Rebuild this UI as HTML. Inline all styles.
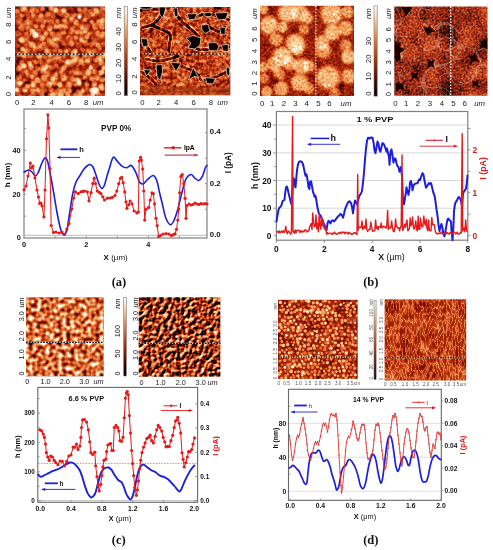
<!DOCTYPE html>
<html><head><meta charset="utf-8"><title>figure</title>
<style>html,body{margin:0;padding:0;background:#fff;width:493px;height:550px;overflow:hidden}svg{display:block}</style>
</head><body>
<svg xmlns="http://www.w3.org/2000/svg" width="493" height="550" viewBox="0 0 493 550">
<defs><filter id="fA1" x="0" y="0" width="100%" height="100%" color-interpolation-filters="sRGB">
<feTurbulence type="fractalNoise" baseFrequency="0.19" numOctaves="1" seed="11" result="t1"/>
<feColorMatrix in="t1" type="matrix" values="1 0 0 0 0  1 0 0 0 0  1 0 0 0 0  0 0 0 0 1" result="n1"/>
<feComposite in="SourceGraphic" in2="n1" operator="arithmetic" k1="0" k2="1" k3="1.55" k4="-0.775" result="L1"/>
<feTurbulence type="fractalNoise" baseFrequency="0.5" numOctaves="1" seed="3" result="t2"/>
<feColorMatrix in="t2" type="matrix" values="1 0 0 0 0  1 0 0 0 0  1 0 0 0 0  0 0 0 0 1" result="n2"/>
<feComposite in="L1" in2="n2" operator="arithmetic" k1="0" k2="1" k3="0.3" k4="-0.15" result="L2"/>
<feComponentTransfer in="L2" result="col">
<feFuncR type="table" tableValues="0 0.30 0.55 0.72 0.83 0.91 0.96 0.99 1"/>
<feFuncG type="table" tableValues="0 0.03 0.09 0.20 0.34 0.50 0.68 0.85 1"/>
<feFuncB type="table" tableValues="0 0.00 0.02 0.06 0.14 0.25 0.42 0.65 1"/>
</feComponentTransfer>
</filter>
<filter id="fA1b" x="0" y="0" width="100%" height="100%" color-interpolation-filters="sRGB">
<feTurbulence type="fractalNoise" baseFrequency="0.14" numOctaves="2" seed="11" result="t1"/>
<feColorMatrix in="t1" type="matrix" values="1 0 0 0 0  1 0 0 0 0  1 0 0 0 0  0 0 0 0 1" result="n1"/>
<feComposite in="SourceGraphic" in2="n1" operator="arithmetic" k1="0" k2="1" k3="0.9" k4="-0.45" result="L1"/>
<feTurbulence type="fractalNoise" baseFrequency="0.5" numOctaves="1" seed="3" result="t2"/>
<feColorMatrix in="t2" type="matrix" values="1 0 0 0 0  1 0 0 0 0  1 0 0 0 0  0 0 0 0 1" result="n2"/>
<feComposite in="L1" in2="n2" operator="arithmetic" k1="0" k2="1" k3="0.25" k4="-0.125" result="L2"/>
<feComponentTransfer in="L2" result="col">
<feFuncR type="table" tableValues="0 0.30 0.55 0.72 0.83 0.91 0.96 0.99 1"/>
<feFuncG type="table" tableValues="0 0.03 0.09 0.20 0.34 0.50 0.68 0.85 1"/>
<feFuncB type="table" tableValues="0 0.00 0.02 0.06 0.14 0.25 0.42 0.65 1"/>
</feComponentTransfer>
</filter>
<filter id="fC1b" x="0" y="0" width="100%" height="100%" color-interpolation-filters="sRGB">
<feTurbulence type="fractalNoise" baseFrequency="0.16" numOctaves="2" seed="14" result="t1"/>
<feColorMatrix in="t1" type="matrix" values="1 0 0 0 0  1 0 0 0 0  1 0 0 0 0  0 0 0 0 1" result="n1"/>
<feComposite in="SourceGraphic" in2="n1" operator="arithmetic" k1="0" k2="1" k3="0.8" k4="-0.4" result="L1"/>
<feTurbulence type="fractalNoise" baseFrequency="0.5" numOctaves="1" seed="4" result="t2"/>
<feColorMatrix in="t2" type="matrix" values="1 0 0 0 0  1 0 0 0 0  1 0 0 0 0  0 0 0 0 1" result="n2"/>
<feComposite in="L1" in2="n2" operator="arithmetic" k1="0" k2="1" k3="0.25" k4="-0.125" result="L2"/>
<feComponentTransfer in="L2" result="col">
<feFuncR type="table" tableValues="0 0.30 0.55 0.72 0.83 0.91 0.96 0.99 1"/>
<feFuncG type="table" tableValues="0 0.03 0.09 0.20 0.34 0.50 0.68 0.85 1"/>
<feFuncB type="table" tableValues="0 0.00 0.02 0.06 0.14 0.25 0.42 0.65 1"/>
</feComponentTransfer>
</filter>
<filter id="fA2" x="0" y="0" width="100%" height="100%" color-interpolation-filters="sRGB">
<feTurbulence type="fractalNoise" baseFrequency="0.3" numOctaves="3" seed="5" result="t1"/>
<feColorMatrix in="t1" type="matrix" values="1 0 0 0 0  1 0 0 0 0  1 0 0 0 0  0 0 0 0 1" result="n1"/>
<feComposite in="SourceGraphic" in2="n1" operator="arithmetic" k1="0" k2="1" k3="1.0" k4="-0.5" result="L1"/>
<feTurbulence type="fractalNoise" baseFrequency="0.08" numOctaves="2" seed="13" result="t2"/>
<feColorMatrix in="t2" type="matrix" values="1 0 0 0 0  1 0 0 0 0  1 0 0 0 0  0 0 0 0 1" result="n2"/>
<feComposite in="L1" in2="n2" operator="arithmetic" k1="0" k2="1" k3="0.5" k4="-0.25" result="L2"/>
<feComponentTransfer in="L2" result="col">
<feFuncR type="table" tableValues="0 0.30 0.55 0.72 0.83 0.91 0.96 0.99 1"/>
<feFuncG type="table" tableValues="0 0.03 0.09 0.20 0.34 0.50 0.68 0.85 1"/>
<feFuncB type="table" tableValues="0 0.00 0.02 0.06 0.14 0.25 0.42 0.65 1"/>
</feComponentTransfer>
</filter>
<filter id="fB1" x="0" y="0" width="100%" height="100%" color-interpolation-filters="sRGB">
<feTurbulence type="fractalNoise" baseFrequency="0.45" numOctaves="2" seed="21" result="t1"/>
<feColorMatrix in="t1" type="matrix" values="1 0 0 0 0  1 0 0 0 0  1 0 0 0 0  0 0 0 0 1" result="n1"/>
<feComposite in="SourceGraphic" in2="n1" operator="arithmetic" k1="0" k2="1" k3="0.55" k4="-0.275" result="L1"/>
<feTurbulence type="fractalNoise" baseFrequency="0.12" numOctaves="2" seed="23" result="t2"/>
<feColorMatrix in="t2" type="matrix" values="1 0 0 0 0  1 0 0 0 0  1 0 0 0 0  0 0 0 0 1" result="n2"/>
<feComposite in="L1" in2="n2" operator="arithmetic" k1="0" k2="1" k3="0.2" k4="-0.1" result="L2"/>
<feComponentTransfer in="L2" result="col">
<feFuncR type="table" tableValues="0 0.30 0.55 0.72 0.83 0.91 0.96 0.99 1"/>
<feFuncG type="table" tableValues="0 0.03 0.09 0.20 0.34 0.50 0.68 0.85 1"/>
<feFuncB type="table" tableValues="0 0.00 0.02 0.06 0.14 0.25 0.42 0.65 1"/>
</feComponentTransfer>
</filter>
<filter id="fB2" x="0" y="0" width="100%" height="100%" color-interpolation-filters="sRGB">
<feTurbulence type="fractalNoise" baseFrequency="0.5" numOctaves="2" seed="8" result="t1"/>
<feColorMatrix in="t1" type="matrix" values="1 0 0 0 0  1 0 0 0 0  1 0 0 0 0  0 0 0 0 1" result="n1"/>
<feTurbulence type="fractalNoise" baseFrequency="0.05" numOctaves="2" seed="9" result="t2"/>
<feColorMatrix in="t2" type="matrix" values="1 0 0 0 0  1 0 0 0 0  1 0 0 0 0  0 0 0 0 1" result="n2"/>
<feComposite in="n1" in2="n2" operator="arithmetic" k1="0" k2="0.75" k3="0.6" k4="-0.39999999999999997" result="l"/>
<feComponentTransfer in="l" result="col"><feFuncR type="table" tableValues="0 0.30 0.55 0.72 0.83 0.91 0.96 0.99 1"/><feFuncG type="table" tableValues="0 0.03 0.09 0.20 0.34 0.50 0.68 0.85 1"/><feFuncB type="table" tableValues="0 0.00 0.02 0.06 0.14 0.25 0.42 0.65 1"/></feComponentTransfer>
<feTurbulence type="turbulence" baseFrequency="0.04" numOctaves="1" seed="12" result="t3"/>
<feColorMatrix in="t3" type="matrix" values="0 0 0 0 0  0 0 0 0 0  0 0 0 0 0  -70 0 0 0 1.15" result="m3"/>
<feFlood flood-color="#f0c8b0" flood-opacity="0.3" result="fl"/>
<feComposite in="fl" in2="m3" operator="in" result="ridge"/>
<feMerge><feMergeNode in="col"/><feMergeNode in="ridge"/></feMerge>
</filter>
<filter id="fC1" x="0" y="0" width="100%" height="100%" color-interpolation-filters="sRGB">
<feTurbulence type="fractalNoise" baseFrequency="0.24" numOctaves="1" seed="14" result="t1"/>
<feColorMatrix in="t1" type="matrix" values="1 0 0 0 0  1 0 0 0 0  1 0 0 0 0  0 0 0 0 1" result="n1"/>
<feComposite in="SourceGraphic" in2="n1" operator="arithmetic" k1="0" k2="1" k3="2.0" k4="-1.0" result="L1"/>
<feTurbulence type="fractalNoise" baseFrequency="0.6" numOctaves="1" seed="4" result="t2"/>
<feColorMatrix in="t2" type="matrix" values="1 0 0 0 0  1 0 0 0 0  1 0 0 0 0  0 0 0 0 1" result="n2"/>
<feComposite in="L1" in2="n2" operator="arithmetic" k1="0" k2="1" k3="0.25" k4="-0.125" result="L2"/>
<feComponentTransfer in="L2" result="col">
<feFuncR type="table" tableValues="0 0.30 0.55 0.72 0.83 0.91 0.96 0.99 1"/>
<feFuncG type="table" tableValues="0 0.03 0.09 0.20 0.34 0.50 0.68 0.85 1"/>
<feFuncB type="table" tableValues="0 0.00 0.02 0.06 0.14 0.25 0.42 0.65 1"/>
</feComponentTransfer>
</filter>
<filter id="fC2" x="0" y="0" width="100%" height="100%" color-interpolation-filters="sRGB">
<feTurbulence type="fractalNoise" baseFrequency="0.24" numOctaves="2" seed="31" result="t1"/>
<feColorMatrix in="t1" type="matrix" values="1 0 0 0 0  1 0 0 0 0  1 0 0 0 0  0 0 0 0 1" result="n1"/>
<feConvolveMatrix in="n1" order="3" kernelMatrix="-1 -1 0 -1 0 1 0 1 1" divisor="1" bias="0.5" preserveAlpha="true" edgeMode="duplicate" result="e"/>
<feComposite in="e" in2="n1" operator="arithmetic" k1="0" k2="0.95" k3="0.7" k4="-0.45499999999999996" result="l"/>
<feComponentTransfer in="l"><feFuncR type="table" tableValues="0 0.30 0.55 0.72 0.83 0.91 0.96 0.99 1"/><feFuncG type="table" tableValues="0 0.03 0.09 0.20 0.34 0.50 0.68 0.85 1"/><feFuncB type="table" tableValues="0 0.00 0.02 0.06 0.14 0.25 0.42 0.65 1"/></feComponentTransfer>
</filter>
<filter id="fD1" x="0" y="0" width="100%" height="100%" color-interpolation-filters="sRGB">
<feTurbulence type="fractalNoise" baseFrequency="0.3" numOctaves="2" seed="41" result="t1"/>
<feColorMatrix in="t1" type="matrix" values="1 0 0 0 0  1 0 0 0 0  1 0 0 0 0  0 0 0 0 1" result="n1"/>
<feComposite in="SourceGraphic" in2="n1" operator="arithmetic" k1="0" k2="1" k3="0.45" k4="-0.225" result="L1"/>
<feTurbulence type="fractalNoise" baseFrequency="0.06" numOctaves="2" seed="43" result="t2"/>
<feColorMatrix in="t2" type="matrix" values="1 0 0 0 0  1 0 0 0 0  1 0 0 0 0  0 0 0 0 1" result="n2"/>
<feComposite in="L1" in2="n2" operator="arithmetic" k1="0" k2="1" k3="0.35" k4="-0.175" result="L2"/>
<feComponentTransfer in="L2" result="col">
<feFuncR type="table" tableValues="0 0.30 0.55 0.72 0.83 0.91 0.96 0.99 1"/>
<feFuncG type="table" tableValues="0 0.03 0.09 0.20 0.34 0.50 0.68 0.85 1"/>
<feFuncB type="table" tableValues="0 0.00 0.02 0.06 0.14 0.25 0.42 0.65 1"/>
</feComponentTransfer>
</filter>
<filter id="fD2" x="0" y="0" width="100%" height="100%" color-interpolation-filters="sRGB">
<feTurbulence type="turbulence" baseFrequency="0.34 0.14" numOctaves="1" seed="51" result="t1"/>
<feColorMatrix in="t1" type="matrix" values="1 0 0 0 0  1 0 0 0 0  1 0 0 0 0  0 0 0 0 1" result="n"/>
<feComponentTransfer in="n" result="l0"><feFuncR type="table" tableValues="0.64 0.44 0.36 0.31 0.28 0.26 0.25 0.25 0.25 0.25 0.25"/><feFuncG type="table" tableValues="0.64 0.44 0.36 0.31 0.28 0.26 0.25 0.25 0.25 0.25 0.25"/><feFuncB type="table" tableValues="0.64 0.44 0.36 0.31 0.28 0.26 0.25 0.25 0.25 0.25 0.25"/></feComponentTransfer>
<feTurbulence type="fractalNoise" baseFrequency="0.06" numOctaves="2" seed="57" result="t2"/>
<feColorMatrix in="t2" type="matrix" values="1 0 0 0 0  1 0 0 0 0  1 0 0 0 0  0 0 0 0 1" result="n2"/>
<feComposite in="l0" in2="n2" operator="arithmetic" k1="0" k2="1" k3="0.35" k4="-0.175" result="l"/>
<feComponentTransfer in="l"><feFuncR type="table" tableValues="0 0.30 0.55 0.72 0.83 0.91 0.96 0.99 1"/><feFuncG type="table" tableValues="0 0.03 0.09 0.20 0.34 0.50 0.68 0.85 1"/><feFuncB type="table" tableValues="0 0.00 0.02 0.06 0.14 0.25 0.42 0.65 1"/></feComponentTransfer>
</filter>
<radialGradient id="blob"><stop offset="0" stop-color="#fff" stop-opacity="1"/><stop offset="0.55" stop-color="#fff" stop-opacity="0.85"/><stop offset="0.8" stop-color="#fff" stop-opacity="0.35"/><stop offset="1" stop-color="#fff" stop-opacity="0"/></radialGradient>
<radialGradient id="blob2"><stop offset="0" stop-color="#fff" stop-opacity="1"/><stop offset="0.62" stop-color="#fff" stop-opacity="0.92"/><stop offset="0.82" stop-color="#fff" stop-opacity="0.4"/><stop offset="1" stop-color="#fff" stop-opacity="0"/></radialGradient>
<filter id="soft" x="-20%" y="-20%" width="140%" height="140%"><feGaussianBlur stdDeviation="0.6"/></filter>
<radialGradient id="dblob"><stop offset="0" stop-color="#000" stop-opacity="1"/><stop offset="0.5" stop-color="#000" stop-opacity="0.8"/><stop offset="1" stop-color="#000" stop-opacity="0"/></radialGradient>
<linearGradient id="cbar" x1="0" y1="0" x2="0" y2="1">
<stop offset="0" stop-color="#ffffff"/><stop offset="0.15" stop-color="#f6d2a8"/>
<stop offset="0.35" stop-color="#e0854a"/><stop offset="0.6" stop-color="#a8300c"/>
<stop offset="0.85" stop-color="#3a0600"/><stop offset="1" stop-color="#000000"/></linearGradient></defs>
<rect x="0" y="0" width="493" height="550" fill="#ffffff"/>
<svg x="15" y="6.5" width="90" height="89.5" viewBox="15 6.5 90 89.5" overflow="hidden"><g filter="url(#fA1b)"><rect x="15" y="6.5" width="90" height="89.5" fill="#575757"/><circle cx="17.3" cy="11.5" r="2.9" fill="url(#blob)" opacity="0.52" style="mix-blend-mode:lighten"/><circle cx="23.4" cy="8.9" r="4.2" fill="url(#blob)" opacity="0.39" style="mix-blend-mode:lighten"/><circle cx="32.0" cy="9.7" r="3.4" fill="url(#blob)" opacity="0.46" style="mix-blend-mode:lighten"/><circle cx="37.0" cy="11.0" r="2.8" fill="url(#blob)" opacity="0.39" style="mix-blend-mode:lighten"/><circle cx="43.0" cy="9.0" r="3.3" fill="url(#blob)" opacity="0.58" style="mix-blend-mode:lighten"/><circle cx="50.9" cy="8.4" r="3.1" fill="url(#blob)" opacity="0.61" style="mix-blend-mode:lighten"/><circle cx="56.3" cy="10.2" r="3.3" fill="url(#blob)" opacity="0.52" style="mix-blend-mode:lighten"/><circle cx="63.9" cy="10.5" r="3.4" fill="url(#blob)" opacity="0.51" style="mix-blend-mode:lighten"/><circle cx="72.5" cy="10.1" r="2.9" fill="url(#blob)" opacity="0.34" style="mix-blend-mode:lighten"/><circle cx="79.3" cy="9.8" r="3.0" fill="url(#blob)" opacity="0.60" style="mix-blend-mode:lighten"/><circle cx="84.6" cy="10.6" r="4.0" fill="url(#blob)" opacity="0.40" style="mix-blend-mode:lighten"/><circle cx="90.4" cy="11.2" r="2.9" fill="url(#blob)" opacity="0.55" style="mix-blend-mode:lighten"/><circle cx="96.1" cy="10.5" r="3.8" fill="url(#blob)" opacity="0.60" style="mix-blend-mode:lighten"/><circle cx="105.3" cy="9.8" r="3.0" fill="url(#blob)" opacity="0.37" style="mix-blend-mode:lighten"/><circle cx="21.7" cy="15.6" r="2.8" fill="url(#blob)" opacity="0.58" style="mix-blend-mode:lighten"/><circle cx="28.2" cy="16.3" r="3.0" fill="url(#blob)" opacity="0.40" style="mix-blend-mode:lighten"/><circle cx="33.0" cy="15.0" r="3.1" fill="url(#blob)" opacity="0.45" style="mix-blend-mode:lighten"/><circle cx="41.0" cy="16.7" r="4.0" fill="url(#blob)" opacity="0.37" style="mix-blend-mode:lighten"/><circle cx="47.6" cy="14.3" r="3.7" fill="url(#blob)" opacity="0.61" style="mix-blend-mode:lighten"/><circle cx="53.5" cy="16.5" r="3.2" fill="url(#blob)" opacity="0.33" style="mix-blend-mode:lighten"/><circle cx="62.2" cy="15.0" r="3.0" fill="url(#blob)" opacity="0.45" style="mix-blend-mode:lighten"/><circle cx="66.8" cy="15.2" r="3.4" fill="url(#blob)" opacity="0.45" style="mix-blend-mode:lighten"/><circle cx="74.7" cy="14.8" r="2.8" fill="url(#blob)" opacity="0.36" style="mix-blend-mode:lighten"/><circle cx="79.6" cy="15.6" r="3.2" fill="url(#blob)" opacity="0.55" style="mix-blend-mode:lighten"/><circle cx="87.6" cy="16.3" r="4.2" fill="url(#blob)" opacity="0.34" style="mix-blend-mode:lighten"/><circle cx="92.5" cy="14.2" r="3.3" fill="url(#blob)" opacity="0.49" style="mix-blend-mode:lighten"/><circle cx="101.7" cy="15.0" r="4.1" fill="url(#blob)" opacity="0.33" style="mix-blend-mode:lighten"/><circle cx="19.5" cy="20.2" r="4.0" fill="url(#blob)" opacity="0.34" style="mix-blend-mode:lighten"/><circle cx="26.6" cy="22.2" r="4.2" fill="url(#blob)" opacity="0.49" style="mix-blend-mode:lighten"/><circle cx="30.3" cy="23.0" r="3.4" fill="url(#blob)" opacity="0.36" style="mix-blend-mode:lighten"/><circle cx="38.5" cy="21.3" r="3.4" fill="url(#blob)" opacity="0.37" style="mix-blend-mode:lighten"/><circle cx="43.3" cy="21.6" r="3.4" fill="url(#blob)" opacity="0.36" style="mix-blend-mode:lighten"/><circle cx="51.1" cy="22.1" r="3.8" fill="url(#blob)" opacity="0.46" style="mix-blend-mode:lighten"/><circle cx="57.5" cy="20.8" r="3.0" fill="url(#blob)" opacity="0.39" style="mix-blend-mode:lighten"/><circle cx="64.3" cy="19.9" r="3.8" fill="url(#blob)" opacity="0.52" style="mix-blend-mode:lighten"/><circle cx="71.5" cy="19.6" r="3.2" fill="url(#blob)" opacity="0.45" style="mix-blend-mode:lighten"/><circle cx="76.2" cy="23.0" r="3.8" fill="url(#blob)" opacity="0.48" style="mix-blend-mode:lighten"/><circle cx="85.0" cy="20.2" r="3.0" fill="url(#blob)" opacity="0.48" style="mix-blend-mode:lighten"/><circle cx="91.8" cy="21.8" r="2.7" fill="url(#blob)" opacity="0.51" style="mix-blend-mode:lighten"/><circle cx="99.0" cy="22.2" r="4.1" fill="url(#blob)" opacity="0.61" style="mix-blend-mode:lighten"/><circle cx="103.1" cy="20.6" r="3.5" fill="url(#blob)" opacity="0.61" style="mix-blend-mode:lighten"/><circle cx="21.1" cy="28.6" r="4.0" fill="url(#blob)" opacity="0.48" style="mix-blend-mode:lighten"/><circle cx="28.7" cy="28.7" r="3.9" fill="url(#blob)" opacity="0.42" style="mix-blend-mode:lighten"/><circle cx="36.0" cy="25.9" r="3.3" fill="url(#blob)" opacity="0.60" style="mix-blend-mode:lighten"/><circle cx="42.6" cy="26.3" r="3.1" fill="url(#blob)" opacity="0.51" style="mix-blend-mode:lighten"/><circle cx="49.2" cy="27.7" r="4.1" fill="url(#blob)" opacity="0.54" style="mix-blend-mode:lighten"/><circle cx="55.8" cy="27.4" r="3.2" fill="url(#blob)" opacity="0.45" style="mix-blend-mode:lighten"/><circle cx="61.2" cy="27.1" r="4.0" fill="url(#blob)" opacity="0.40" style="mix-blend-mode:lighten"/><circle cx="66.2" cy="27.9" r="3.1" fill="url(#blob)" opacity="0.45" style="mix-blend-mode:lighten"/><circle cx="73.0" cy="28.2" r="3.1" fill="url(#blob)" opacity="0.42" style="mix-blend-mode:lighten"/><circle cx="82.1" cy="27.0" r="3.1" fill="url(#blob)" opacity="0.58" style="mix-blend-mode:lighten"/><circle cx="87.3" cy="26.5" r="4.2" fill="url(#blob)" opacity="0.55" style="mix-blend-mode:lighten"/><circle cx="95.1" cy="26.1" r="3.9" fill="url(#blob)" opacity="0.49" style="mix-blend-mode:lighten"/><circle cx="102.0" cy="26.6" r="3.9" fill="url(#blob)" opacity="0.55" style="mix-blend-mode:lighten"/><circle cx="17.9" cy="33.3" r="3.9" fill="url(#blob)" opacity="0.61" style="mix-blend-mode:lighten"/><circle cx="26.4" cy="33.8" r="2.9" fill="url(#blob)" opacity="0.51" style="mix-blend-mode:lighten"/><circle cx="32.2" cy="31.3" r="3.4" fill="url(#blob)" opacity="0.58" style="mix-blend-mode:lighten"/><circle cx="39.6" cy="34.3" r="2.8" fill="url(#blob)" opacity="0.51" style="mix-blend-mode:lighten"/><circle cx="46.0" cy="33.3" r="3.2" fill="url(#blob)" opacity="0.34" style="mix-blend-mode:lighten"/><circle cx="52.8" cy="34.1" r="3.7" fill="url(#blob)" opacity="0.43" style="mix-blend-mode:lighten"/><circle cx="59.1" cy="33.9" r="3.8" fill="url(#blob)" opacity="0.49" style="mix-blend-mode:lighten"/><circle cx="63.8" cy="32.0" r="3.2" fill="url(#blob)" opacity="0.42" style="mix-blend-mode:lighten"/><circle cx="71.2" cy="31.4" r="3.8" fill="url(#blob)" opacity="0.43" style="mix-blend-mode:lighten"/><circle cx="76.5" cy="31.9" r="3.3" fill="url(#blob)" opacity="0.45" style="mix-blend-mode:lighten"/><circle cx="85.3" cy="31.3" r="3.0" fill="url(#blob)" opacity="0.42" style="mix-blend-mode:lighten"/><circle cx="89.7" cy="33.7" r="2.9" fill="url(#blob)" opacity="0.34" style="mix-blend-mode:lighten"/><circle cx="97.7" cy="33.6" r="3.9" fill="url(#blob)" opacity="0.49" style="mix-blend-mode:lighten"/><circle cx="103.5" cy="34.1" r="3.8" fill="url(#blob)" opacity="0.46" style="mix-blend-mode:lighten"/><circle cx="21.8" cy="40.1" r="4.2" fill="url(#blob)" opacity="0.60" style="mix-blend-mode:lighten"/><circle cx="26.9" cy="37.9" r="3.3" fill="url(#blob)" opacity="0.37" style="mix-blend-mode:lighten"/><circle cx="35.7" cy="36.9" r="4.0" fill="url(#blob)" opacity="0.49" style="mix-blend-mode:lighten"/><circle cx="41.8" cy="38.2" r="4.1" fill="url(#blob)" opacity="0.49" style="mix-blend-mode:lighten"/><circle cx="49.4" cy="40.0" r="3.7" fill="url(#blob)" opacity="0.61" style="mix-blend-mode:lighten"/><circle cx="54.6" cy="38.0" r="4.0" fill="url(#blob)" opacity="0.48" style="mix-blend-mode:lighten"/><circle cx="60.5" cy="39.2" r="3.4" fill="url(#blob)" opacity="0.36" style="mix-blend-mode:lighten"/><circle cx="69.0" cy="38.5" r="4.2" fill="url(#blob)" opacity="0.48" style="mix-blend-mode:lighten"/><circle cx="76.0" cy="37.8" r="3.0" fill="url(#blob)" opacity="0.48" style="mix-blend-mode:lighten"/><circle cx="82.0" cy="39.7" r="3.7" fill="url(#blob)" opacity="0.36" style="mix-blend-mode:lighten"/><circle cx="87.2" cy="36.8" r="3.3" fill="url(#blob)" opacity="0.60" style="mix-blend-mode:lighten"/><circle cx="93.6" cy="39.2" r="3.6" fill="url(#blob)" opacity="0.37" style="mix-blend-mode:lighten"/><circle cx="101.5" cy="37.0" r="3.0" fill="url(#blob)" opacity="0.49" style="mix-blend-mode:lighten"/><circle cx="17.0" cy="45.9" r="3.3" fill="url(#blob)" opacity="0.51" style="mix-blend-mode:lighten"/><circle cx="26.6" cy="42.8" r="4.2" fill="url(#blob)" opacity="0.34" style="mix-blend-mode:lighten"/><circle cx="31.9" cy="44.8" r="4.2" fill="url(#blob)" opacity="0.43" style="mix-blend-mode:lighten"/><circle cx="39.7" cy="44.8" r="3.4" fill="url(#blob)" opacity="0.37" style="mix-blend-mode:lighten"/><circle cx="43.7" cy="43.8" r="3.2" fill="url(#blob)" opacity="0.43" style="mix-blend-mode:lighten"/><circle cx="52.4" cy="43.8" r="3.6" fill="url(#blob)" opacity="0.34" style="mix-blend-mode:lighten"/><circle cx="56.6" cy="45.0" r="4.0" fill="url(#blob)" opacity="0.42" style="mix-blend-mode:lighten"/><circle cx="62.8" cy="43.3" r="3.2" fill="url(#blob)" opacity="0.43" style="mix-blend-mode:lighten"/><circle cx="71.3" cy="43.5" r="3.7" fill="url(#blob)" opacity="0.55" style="mix-blend-mode:lighten"/><circle cx="78.7" cy="45.1" r="3.6" fill="url(#blob)" opacity="0.40" style="mix-blend-mode:lighten"/><circle cx="85.5" cy="43.5" r="4.0" fill="url(#blob)" opacity="0.45" style="mix-blend-mode:lighten"/><circle cx="91.4" cy="44.2" r="3.7" fill="url(#blob)" opacity="0.42" style="mix-blend-mode:lighten"/><circle cx="97.8" cy="45.1" r="3.2" fill="url(#blob)" opacity="0.49" style="mix-blend-mode:lighten"/><circle cx="103.9" cy="44.1" r="3.3" fill="url(#blob)" opacity="0.48" style="mix-blend-mode:lighten"/><circle cx="22.4" cy="48.8" r="2.9" fill="url(#blob)" opacity="0.57" style="mix-blend-mode:lighten"/><circle cx="26.7" cy="51.0" r="3.8" fill="url(#blob)" opacity="0.39" style="mix-blend-mode:lighten"/><circle cx="35.3" cy="49.1" r="4.0" fill="url(#blob)" opacity="0.39" style="mix-blend-mode:lighten"/><circle cx="40.0" cy="48.3" r="3.8" fill="url(#blob)" opacity="0.39" style="mix-blend-mode:lighten"/><circle cx="47.3" cy="51.7" r="3.8" fill="url(#blob)" opacity="0.54" style="mix-blend-mode:lighten"/><circle cx="54.9" cy="50.5" r="2.7" fill="url(#blob)" opacity="0.55" style="mix-blend-mode:lighten"/><circle cx="60.6" cy="51.3" r="3.3" fill="url(#blob)" opacity="0.58" style="mix-blend-mode:lighten"/><circle cx="66.0" cy="51.7" r="2.8" fill="url(#blob)" opacity="0.48" style="mix-blend-mode:lighten"/><circle cx="74.3" cy="51.7" r="3.8" fill="url(#blob)" opacity="0.61" style="mix-blend-mode:lighten"/><circle cx="82.5" cy="49.7" r="2.9" fill="url(#blob)" opacity="0.37" style="mix-blend-mode:lighten"/><circle cx="88.4" cy="51.6" r="3.7" fill="url(#blob)" opacity="0.43" style="mix-blend-mode:lighten"/><circle cx="94.6" cy="50.6" r="3.1" fill="url(#blob)" opacity="0.52" style="mix-blend-mode:lighten"/><circle cx="99.7" cy="48.3" r="2.8" fill="url(#blob)" opacity="0.46" style="mix-blend-mode:lighten"/><circle cx="19.0" cy="54.7" r="3.3" fill="url(#blob)" opacity="0.52" style="mix-blend-mode:lighten"/><circle cx="24.0" cy="55.8" r="3.6" fill="url(#blob)" opacity="0.45" style="mix-blend-mode:lighten"/><circle cx="30.5" cy="56.4" r="3.8" fill="url(#blob)" opacity="0.39" style="mix-blend-mode:lighten"/><circle cx="39.2" cy="56.3" r="4.0" fill="url(#blob)" opacity="0.55" style="mix-blend-mode:lighten"/><circle cx="44.7" cy="56.5" r="3.2" fill="url(#blob)" opacity="0.51" style="mix-blend-mode:lighten"/><circle cx="49.8" cy="55.2" r="3.5" fill="url(#blob)" opacity="0.58" style="mix-blend-mode:lighten"/><circle cx="58.6" cy="57.2" r="4.0" fill="url(#blob)" opacity="0.60" style="mix-blend-mode:lighten"/><circle cx="64.9" cy="56.2" r="3.4" fill="url(#blob)" opacity="0.39" style="mix-blend-mode:lighten"/><circle cx="72.2" cy="56.1" r="2.9" fill="url(#blob)" opacity="0.40" style="mix-blend-mode:lighten"/><circle cx="76.7" cy="56.5" r="3.6" fill="url(#blob)" opacity="0.39" style="mix-blend-mode:lighten"/><circle cx="85.0" cy="56.0" r="3.1" fill="url(#blob)" opacity="0.45" style="mix-blend-mode:lighten"/><circle cx="92.7" cy="54.4" r="3.1" fill="url(#blob)" opacity="0.49" style="mix-blend-mode:lighten"/><circle cx="98.7" cy="57.3" r="3.3" fill="url(#blob)" opacity="0.55" style="mix-blend-mode:lighten"/><circle cx="102.7" cy="55.3" r="4.0" fill="url(#blob)" opacity="0.52" style="mix-blend-mode:lighten"/><circle cx="21.4" cy="61.8" r="3.4" fill="url(#blob)" opacity="0.48" style="mix-blend-mode:lighten"/><circle cx="29.6" cy="63.2" r="3.0" fill="url(#blob)" opacity="0.54" style="mix-blend-mode:lighten"/><circle cx="36.4" cy="61.9" r="3.4" fill="url(#blob)" opacity="0.43" style="mix-blend-mode:lighten"/><circle cx="41.3" cy="61.8" r="3.6" fill="url(#blob)" opacity="0.36" style="mix-blend-mode:lighten"/><circle cx="49.8" cy="60.7" r="3.5" fill="url(#blob)" opacity="0.39" style="mix-blend-mode:lighten"/><circle cx="55.1" cy="59.9" r="3.2" fill="url(#blob)" opacity="0.43" style="mix-blend-mode:lighten"/><circle cx="60.5" cy="61.4" r="2.9" fill="url(#blob)" opacity="0.46" style="mix-blend-mode:lighten"/><circle cx="68.9" cy="61.9" r="4.2" fill="url(#blob)" opacity="0.60" style="mix-blend-mode:lighten"/><circle cx="74.3" cy="61.4" r="3.8" fill="url(#blob)" opacity="0.58" style="mix-blend-mode:lighten"/><circle cx="81.1" cy="62.1" r="3.7" fill="url(#blob)" opacity="0.48" style="mix-blend-mode:lighten"/><circle cx="87.6" cy="61.1" r="3.4" fill="url(#blob)" opacity="0.46" style="mix-blend-mode:lighten"/><circle cx="95.3" cy="60.3" r="2.9" fill="url(#blob)" opacity="0.60" style="mix-blend-mode:lighten"/><circle cx="100.8" cy="62.2" r="4.1" fill="url(#blob)" opacity="0.54" style="mix-blend-mode:lighten"/><circle cx="18.5" cy="68.8" r="3.6" fill="url(#blob)" opacity="0.45" style="mix-blend-mode:lighten"/><circle cx="23.8" cy="66.0" r="3.9" fill="url(#blob)" opacity="0.58" style="mix-blend-mode:lighten"/><circle cx="31.0" cy="67.3" r="3.7" fill="url(#blob)" opacity="0.51" style="mix-blend-mode:lighten"/><circle cx="37.3" cy="68.7" r="3.5" fill="url(#blob)" opacity="0.54" style="mix-blend-mode:lighten"/><circle cx="45.4" cy="67.0" r="3.8" fill="url(#blob)" opacity="0.39" style="mix-blend-mode:lighten"/><circle cx="51.5" cy="67.8" r="3.6" fill="url(#blob)" opacity="0.42" style="mix-blend-mode:lighten"/><circle cx="56.8" cy="65.8" r="2.9" fill="url(#blob)" opacity="0.39" style="mix-blend-mode:lighten"/><circle cx="64.4" cy="67.5" r="3.8" fill="url(#blob)" opacity="0.45" style="mix-blend-mode:lighten"/><circle cx="72.1" cy="65.5" r="3.2" fill="url(#blob)" opacity="0.36" style="mix-blend-mode:lighten"/><circle cx="77.8" cy="67.5" r="3.6" fill="url(#blob)" opacity="0.45" style="mix-blend-mode:lighten"/><circle cx="83.8" cy="66.6" r="2.9" fill="url(#blob)" opacity="0.39" style="mix-blend-mode:lighten"/><circle cx="90.9" cy="67.5" r="2.8" fill="url(#blob)" opacity="0.57" style="mix-blend-mode:lighten"/><circle cx="95.8" cy="65.9" r="3.4" fill="url(#blob)" opacity="0.42" style="mix-blend-mode:lighten"/><circle cx="104.2" cy="67.9" r="3.6" fill="url(#blob)" opacity="0.55" style="mix-blend-mode:lighten"/><circle cx="21.5" cy="73.6" r="3.3" fill="url(#blob)" opacity="0.36" style="mix-blend-mode:lighten"/><circle cx="26.7" cy="71.8" r="3.4" fill="url(#blob)" opacity="0.40" style="mix-blend-mode:lighten"/><circle cx="35.0" cy="73.6" r="4.1" fill="url(#blob)" opacity="0.37" style="mix-blend-mode:lighten"/><circle cx="43.0" cy="71.2" r="4.0" fill="url(#blob)" opacity="0.61" style="mix-blend-mode:lighten"/><circle cx="47.5" cy="74.0" r="3.5" fill="url(#blob)" opacity="0.49" style="mix-blend-mode:lighten"/><circle cx="55.9" cy="74.6" r="3.2" fill="url(#blob)" opacity="0.39" style="mix-blend-mode:lighten"/><circle cx="62.7" cy="73.3" r="4.1" fill="url(#blob)" opacity="0.39" style="mix-blend-mode:lighten"/><circle cx="69.1" cy="71.7" r="2.9" fill="url(#blob)" opacity="0.40" style="mix-blend-mode:lighten"/><circle cx="75.9" cy="72.6" r="3.4" fill="url(#blob)" opacity="0.40" style="mix-blend-mode:lighten"/><circle cx="79.5" cy="72.8" r="3.4" fill="url(#blob)" opacity="0.42" style="mix-blend-mode:lighten"/><circle cx="88.4" cy="72.3" r="4.2" fill="url(#blob)" opacity="0.58" style="mix-blend-mode:lighten"/><circle cx="94.5" cy="71.5" r="3.5" fill="url(#blob)" opacity="0.51" style="mix-blend-mode:lighten"/><circle cx="101.3" cy="72.7" r="3.8" fill="url(#blob)" opacity="0.61" style="mix-blend-mode:lighten"/><circle cx="19.0" cy="77.1" r="3.6" fill="url(#blob)" opacity="0.51" style="mix-blend-mode:lighten"/><circle cx="25.1" cy="80.3" r="2.8" fill="url(#blob)" opacity="0.33" style="mix-blend-mode:lighten"/><circle cx="32.3" cy="77.3" r="2.9" fill="url(#blob)" opacity="0.57" style="mix-blend-mode:lighten"/><circle cx="37.6" cy="80.1" r="3.9" fill="url(#blob)" opacity="0.52" style="mix-blend-mode:lighten"/><circle cx="44.2" cy="77.2" r="4.2" fill="url(#blob)" opacity="0.58" style="mix-blend-mode:lighten"/><circle cx="52.8" cy="78.7" r="3.1" fill="url(#blob)" opacity="0.51" style="mix-blend-mode:lighten"/><circle cx="57.6" cy="77.6" r="2.9" fill="url(#blob)" opacity="0.45" style="mix-blend-mode:lighten"/><circle cx="63.2" cy="77.9" r="4.2" fill="url(#blob)" opacity="0.60" style="mix-blend-mode:lighten"/><circle cx="72.5" cy="78.7" r="3.8" fill="url(#blob)" opacity="0.37" style="mix-blend-mode:lighten"/><circle cx="78.1" cy="80.4" r="3.9" fill="url(#blob)" opacity="0.61" style="mix-blend-mode:lighten"/><circle cx="84.8" cy="78.0" r="2.7" fill="url(#blob)" opacity="0.40" style="mix-blend-mode:lighten"/><circle cx="92.1" cy="78.8" r="3.6" fill="url(#blob)" opacity="0.55" style="mix-blend-mode:lighten"/><circle cx="96.8" cy="77.4" r="4.0" fill="url(#blob)" opacity="0.49" style="mix-blend-mode:lighten"/><circle cx="102.4" cy="79.4" r="3.8" fill="url(#blob)" opacity="0.54" style="mix-blend-mode:lighten"/><circle cx="20.3" cy="83.6" r="3.8" fill="url(#blob)" opacity="0.52" style="mix-blend-mode:lighten"/><circle cx="27.6" cy="86.1" r="3.2" fill="url(#blob)" opacity="0.58" style="mix-blend-mode:lighten"/><circle cx="33.5" cy="84.3" r="4.2" fill="url(#blob)" opacity="0.52" style="mix-blend-mode:lighten"/><circle cx="42.3" cy="85.8" r="3.6" fill="url(#blob)" opacity="0.48" style="mix-blend-mode:lighten"/><circle cx="49.2" cy="84.6" r="4.1" fill="url(#blob)" opacity="0.54" style="mix-blend-mode:lighten"/><circle cx="52.8" cy="83.7" r="4.0" fill="url(#blob)" opacity="0.36" style="mix-blend-mode:lighten"/><circle cx="59.5" cy="84.7" r="3.7" fill="url(#blob)" opacity="0.61" style="mix-blend-mode:lighten"/><circle cx="69.5" cy="84.9" r="3.8" fill="url(#blob)" opacity="0.48" style="mix-blend-mode:lighten"/><circle cx="75.7" cy="85.1" r="2.9" fill="url(#blob)" opacity="0.51" style="mix-blend-mode:lighten"/><circle cx="79.4" cy="83.9" r="3.2" fill="url(#blob)" opacity="0.58" style="mix-blend-mode:lighten"/><circle cx="86.6" cy="84.0" r="3.5" fill="url(#blob)" opacity="0.39" style="mix-blend-mode:lighten"/><circle cx="94.0" cy="83.7" r="3.8" fill="url(#blob)" opacity="0.55" style="mix-blend-mode:lighten"/><circle cx="101.1" cy="85.8" r="3.4" fill="url(#blob)" opacity="0.54" style="mix-blend-mode:lighten"/><circle cx="16.8" cy="89.8" r="3.2" fill="url(#blob)" opacity="0.58" style="mix-blend-mode:lighten"/><circle cx="24.9" cy="89.7" r="3.7" fill="url(#blob)" opacity="0.60" style="mix-blend-mode:lighten"/><circle cx="32.7" cy="91.3" r="3.7" fill="url(#blob)" opacity="0.55" style="mix-blend-mode:lighten"/><circle cx="38.3" cy="89.8" r="3.2" fill="url(#blob)" opacity="0.40" style="mix-blend-mode:lighten"/><circle cx="44.1" cy="90.2" r="4.0" fill="url(#blob)" opacity="0.39" style="mix-blend-mode:lighten"/><circle cx="50.9" cy="89.3" r="3.4" fill="url(#blob)" opacity="0.34" style="mix-blend-mode:lighten"/><circle cx="58.3" cy="91.5" r="4.1" fill="url(#blob)" opacity="0.43" style="mix-blend-mode:lighten"/><circle cx="63.3" cy="91.0" r="3.8" fill="url(#blob)" opacity="0.39" style="mix-blend-mode:lighten"/><circle cx="69.5" cy="90.8" r="3.3" fill="url(#blob)" opacity="0.48" style="mix-blend-mode:lighten"/><circle cx="77.9" cy="91.6" r="2.9" fill="url(#blob)" opacity="0.40" style="mix-blend-mode:lighten"/><circle cx="82.6" cy="90.9" r="2.8" fill="url(#blob)" opacity="0.57" style="mix-blend-mode:lighten"/><circle cx="91.3" cy="90.2" r="3.1" fill="url(#blob)" opacity="0.58" style="mix-blend-mode:lighten"/><circle cx="96.1" cy="90.5" r="3.9" fill="url(#blob)" opacity="0.51" style="mix-blend-mode:lighten"/><circle cx="102.5" cy="88.8" r="3.1" fill="url(#blob)" opacity="0.54" style="mix-blend-mode:lighten"/><circle cx="20.3" cy="97.6" r="4.0" fill="url(#blob)" opacity="0.49" style="mix-blend-mode:lighten"/><circle cx="29.6" cy="96.4" r="2.9" fill="url(#blob)" opacity="0.45" style="mix-blend-mode:lighten"/><circle cx="33.1" cy="95.7" r="4.2" fill="url(#blob)" opacity="0.45" style="mix-blend-mode:lighten"/><circle cx="42.0" cy="95.4" r="3.7" fill="url(#blob)" opacity="0.42" style="mix-blend-mode:lighten"/><circle cx="49.5" cy="95.6" r="3.1" fill="url(#blob)" opacity="0.45" style="mix-blend-mode:lighten"/><circle cx="53.1" cy="95.3" r="3.8" fill="url(#blob)" opacity="0.45" style="mix-blend-mode:lighten"/><circle cx="61.0" cy="95.0" r="3.9" fill="url(#blob)" opacity="0.58" style="mix-blend-mode:lighten"/><circle cx="67.5" cy="94.1" r="3.3" fill="url(#blob)" opacity="0.58" style="mix-blend-mode:lighten"/><circle cx="74.9" cy="95.0" r="2.9" fill="url(#blob)" opacity="0.58" style="mix-blend-mode:lighten"/><circle cx="79.5" cy="96.3" r="3.6" fill="url(#blob)" opacity="0.37" style="mix-blend-mode:lighten"/><circle cx="87.4" cy="97.2" r="4.2" fill="url(#blob)" opacity="0.34" style="mix-blend-mode:lighten"/><circle cx="92.5" cy="95.1" r="2.8" fill="url(#blob)" opacity="0.60" style="mix-blend-mode:lighten"/><circle cx="99.3" cy="95.5" r="4.0" fill="url(#blob)" opacity="0.46" style="mix-blend-mode:lighten"/></g><circle cx="35.5" cy="34.9" r="3.9" fill="url(#blob)" opacity="1.00" style="mix-blend-mode:lighten"/><circle cx="79.3" cy="17.1" r="2.4" fill="url(#blob)" opacity="1.00" style="mix-blend-mode:lighten"/><circle cx="94.2" cy="90.8" r="4.8" fill="url(#blob)" opacity="1.00" style="mix-blend-mode:lighten"/></svg>
<line x1="15" y1="54.2" x2="105" y2="54.2" stroke="#fff" stroke-width="1.1" opacity="0.85"/>
<line x1="15" y1="54.2" x2="105" y2="54.2" stroke="#000" stroke-width="1.2" stroke-dasharray="2 1.6"/>
<text transform="translate(11.4,94.1) rotate(-90)" text-anchor="middle" font-size="7.7" fill="#222" font-weight="normal" font-family="Liberation Sans, sans-serif">0</text>
<text transform="translate(11.4,77.5) rotate(-90)" text-anchor="middle" font-size="7.7" fill="#222" font-weight="normal" font-family="Liberation Sans, sans-serif">2</text>
<text transform="translate(11.4,58.8) rotate(-90)" text-anchor="middle" font-size="7.7" fill="#222" font-weight="normal" font-family="Liberation Sans, sans-serif">4</text>
<text transform="translate(11.4,41.8) rotate(-90)" text-anchor="middle" font-size="7.7" fill="#222" font-weight="normal" font-family="Liberation Sans, sans-serif">6</text>
<text transform="translate(11.4,24.5) rotate(-90)" text-anchor="middle" font-size="7.7" fill="#222" font-weight="normal" font-family="Liberation Sans, sans-serif">8</text>
<text transform="translate(11.4,12.7) rotate(-90)" text-anchor="middle" font-size="7.7" fill="#222" font-weight="normal" font-style="italic" font-family="Liberation Sans, sans-serif">um</text>
<text x="17.1" y="105.4" text-anchor="middle" font-size="7.7" fill="#222" font-weight="normal" font-family="Liberation Sans, sans-serif">0</text>
<text x="33.3" y="105.4" text-anchor="middle" font-size="7.7" fill="#222" font-weight="normal" font-family="Liberation Sans, sans-serif">2</text>
<text x="51.6" y="105.4" text-anchor="middle" font-size="7.7" fill="#222" font-weight="normal" font-family="Liberation Sans, sans-serif">4</text>
<text x="68.8" y="105.4" text-anchor="middle" font-size="7.7" fill="#222" font-weight="normal" font-family="Liberation Sans, sans-serif">6</text>
<text x="86.1" y="105.4" text-anchor="middle" font-size="7.7" fill="#222" font-weight="normal" font-family="Liberation Sans, sans-serif">8</text>
<text x="98.2" y="105.4" text-anchor="middle" font-size="7.7" fill="#222" font-weight="normal" font-style="italic" font-family="Liberation Sans, sans-serif">um</text>
<rect x="124.2" y="6.5" width="3.2" height="89.2" fill="url(#cbar)" stroke="#777" stroke-width="0.6"/>
<text transform="translate(121,93.3) rotate(-90)" text-anchor="middle" font-size="7.7" fill="#222" font-weight="normal" font-family="Liberation Sans, sans-serif">0</text>
<text transform="translate(121,78.6) rotate(-90)" text-anchor="middle" font-size="7.7" fill="#222" font-weight="normal" font-family="Liberation Sans, sans-serif">10</text>
<text transform="translate(121,62.9) rotate(-90)" text-anchor="middle" font-size="7.7" fill="#222" font-weight="normal" font-family="Liberation Sans, sans-serif">20</text>
<text transform="translate(121,47.2) rotate(-90)" text-anchor="middle" font-size="7.7" fill="#222" font-weight="normal" font-family="Liberation Sans, sans-serif">30</text>
<text transform="translate(121,31.4) rotate(-90)" text-anchor="middle" font-size="7.7" fill="#222" font-weight="normal" font-family="Liberation Sans, sans-serif">40</text>
<text transform="translate(121,12.8) rotate(-90)" text-anchor="middle" font-size="7.7" fill="#222" font-weight="normal" font-style="italic" font-family="Liberation Sans, sans-serif">nm</text>
<svg x="140" y="7" width="90.3" height="88.3" viewBox="140 7 90.3 88.3" overflow="hidden"><g filter="url(#fA2)"><rect x="140" y="7" width="90.3" height="88.3" fill="#696969"/><rect x="140" y="86.5" width="90.3" height="9" fill="#5e5e5e"/><g fill="none" stroke-linecap="round" stroke-linejoin="round"><path d="M139,10.6 C145,9 150,8.7 156,9.5 S161,10 163.3,10.6" stroke="#d8d8d8" stroke-width="4.4"/><path d="M163.3,10.6 C162,14 160,17 157,21 S150,26 142.7,27.4" stroke="#d8d8d8" stroke-width="4.4"/><path d="M152,25.5 C156,27 160,29 165,31 S171,34 170.5,38 S169,47 168.9,51.6" stroke="#d8d8d8" stroke-width="4.4"/><path d="M173.5,6.9 C174,10 176,14 179,18 S186,25 191.2,29.3 S196,34 198.7,36.7" stroke="#d8d8d8" stroke-width="4.4"/><path d="M198.7,36.7 C197,40 193,44 195,47 S201,50 206,49.5 S217,48.5 228.6,47" stroke="#d8d8d8" stroke-width="4.4"/><path d="M187.5,16.2 C190,17 193,18.5 195,18.1 S200,15.5 202.4,14.3" stroke="#d8d8d8" stroke-width="4.4"/><path d="M139,38.6 C142,41 145,44 146.5,46 S149,50 150.2,51.6" stroke="#d8d8d8" stroke-width="4.4"/><path d="M146.5,59.1 C150,60 154,61 157.7,61 S165,60 168.9,59.1 S175,57 178.2,56.3" stroke="#d8d8d8" stroke-width="4.4"/><path d="M206.2,25.5 C210,27 214,30 217.4,31.1 S222,29 224.8,27.4" stroke="#d8d8d8" stroke-width="4.4"/><path d="M209.9,14.3 C213,15 216,15.5 219.2,16.2 S225,18 228.6,19.9" stroke="#d8d8d8" stroke-width="4.4"/><path d="M157.7,68.4 C158,72 159,76 159.5,79.6" stroke="#d8d8d8" stroke-width="4.4"/><path d="M181.9,66.6 C186,68 191,70 195,72.2 S199,76 200.6,79.6" stroke="#d8d8d8" stroke-width="4.4"/><path d="M141,72 C148,75 152,80 156,84" stroke="#d8d8d8" stroke-width="4.4"/><path d="M205,80 C212,79 220,76 229,70" stroke="#d8d8d8" stroke-width="4.4"/><path d="M139,10.6 C145,9 150,8.7 156,9.5 S161,10 163.3,10.6" stroke="#262626" stroke-width="3"/><path d="M163.3,10.6 C162,14 160,17 157,21 S150,26 142.7,27.4" stroke="#262626" stroke-width="3"/><path d="M152,25.5 C156,27 160,29 165,31 S171,34 170.5,38 S169,47 168.9,51.6" stroke="#262626" stroke-width="3"/><path d="M173.5,6.9 C174,10 176,14 179,18 S186,25 191.2,29.3 S196,34 198.7,36.7" stroke="#262626" stroke-width="3"/><path d="M198.7,36.7 C197,40 193,44 195,47 S201,50 206,49.5 S217,48.5 228.6,47" stroke="#262626" stroke-width="3"/><path d="M187.5,16.2 C190,17 193,18.5 195,18.1 S200,15.5 202.4,14.3" stroke="#262626" stroke-width="3"/><path d="M139,38.6 C142,41 145,44 146.5,46 S149,50 150.2,51.6" stroke="#262626" stroke-width="3"/><path d="M146.5,59.1 C150,60 154,61 157.7,61 S165,60 168.9,59.1 S175,57 178.2,56.3" stroke="#262626" stroke-width="3"/><path d="M206.2,25.5 C210,27 214,30 217.4,31.1 S222,29 224.8,27.4" stroke="#262626" stroke-width="3"/><path d="M209.9,14.3 C213,15 216,15.5 219.2,16.2 S225,18 228.6,19.9" stroke="#262626" stroke-width="3"/><path d="M157.7,68.4 C158,72 159,76 159.5,79.6" stroke="#262626" stroke-width="3"/><path d="M181.9,66.6 C186,68 191,70 195,72.2 S199,76 200.6,79.6" stroke="#262626" stroke-width="3"/><path d="M141,72 C148,75 152,80 156,84" stroke="#262626" stroke-width="3"/><path d="M205,80 C212,79 220,76 229,70" stroke="#262626" stroke-width="3"/></g></g><g filter="url(#soft)"><ellipse cx="146" cy="7.8" rx="6.5" ry="1.4" transform="rotate(0 146 7.8)" fill="#0a0100" opacity="1.0" stroke="#f8d8c0" stroke-width="0.9" stroke-opacity="0.8" stroke-linejoin="round"/><ellipse cx="208" cy="14.5" rx="4" ry="2.2" transform="rotate(0 208 14.5)" fill="#0a0100" opacity="1.0" stroke="#f8d8c0" stroke-width="0.9" stroke-opacity="0.8" stroke-linejoin="round"/><polygon points="159,7 166,7 164.5,13 162.5,18 159.5,14" fill="#0a0100" opacity="1.0" stroke="#f8d8c0" stroke-width="0.9" stroke-opacity="0.8" stroke-linejoin="round"/><polygon points="173.5,8 177.5,8 178,16 175,17" fill="#0a0100" opacity="1.0" stroke="#f8d8c0" stroke-width="0.9" stroke-opacity="0.8" stroke-linejoin="round"/><polygon points="187,14 197,13.5 195,19 189,20" fill="#0a0100" opacity="1.0" stroke="#f8d8c0" stroke-width="0.9" stroke-opacity="0.8" stroke-linejoin="round"/><polygon points="215,13 228,12.5 226,19 218,20" fill="#0a0100" opacity="1.0" stroke="#f8d8c0" stroke-width="0.9" stroke-opacity="0.8" stroke-linejoin="round"/><polygon points="186,38 193,35.5 201,38 200,45 195,49 188,48 191,43" fill="#0a0100" opacity="1.0" stroke="#f8d8c0" stroke-width="0.9" stroke-opacity="0.8" stroke-linejoin="round"/><polygon points="201.5,25 208,24.5 210,31 205,33.5 202,30" fill="#0a0100" opacity="1.0" stroke="#f8d8c0" stroke-width="0.9" stroke-opacity="0.8" stroke-linejoin="round"/><polygon points="219.5,27 225.5,27.5 225,35 221,34" fill="#0a0100" opacity="1.0" stroke="#f8d8c0" stroke-width="0.9" stroke-opacity="0.8" stroke-linejoin="round"/><polygon points="208,43 216,42.5 219,46 217,51 209,50.5" fill="#0a0100" opacity="1.0" stroke="#f8d8c0" stroke-width="0.9" stroke-opacity="0.8" stroke-linejoin="round"/><polygon points="221.5,45 228.5,44.5 228,51.5 223,51" fill="#0a0100" opacity="1.0" stroke="#f8d8c0" stroke-width="0.9" stroke-opacity="0.8" stroke-linejoin="round"/><polygon points="141,38.5 147.5,39 148,46 143,47" fill="#0a0100" opacity="1.0" stroke="#f8d8c0" stroke-width="0.9" stroke-opacity="0.8" stroke-linejoin="round"/><polygon points="143.5,69.5 151,70 146.5,76" fill="#0a0100" opacity="1.0" stroke="#f8d8c0" stroke-width="0.9" stroke-opacity="0.8" stroke-linejoin="round"/><polygon points="156,65 162,64.5 162.5,72 160,80.5 157,76" fill="#0a0100" opacity="1.0" stroke="#f8d8c0" stroke-width="0.9" stroke-opacity="0.8" stroke-linejoin="round"/><polygon points="170.5,62.5 181,63 176,71.5" fill="#0a0100" opacity="1.0" stroke="#f8d8c0" stroke-width="0.9" stroke-opacity="0.8" stroke-linejoin="round"/><polygon points="188.5,80 193,67.5 199,78 195,76" fill="#0a0100" opacity="1.0" stroke="#f8d8c0" stroke-width="0.9" stroke-opacity="0.8" stroke-linejoin="round"/><polygon points="205,77.5 215.5,78.5 213,84 207,83.5" fill="#0a0100" opacity="1.0" stroke="#f8d8c0" stroke-width="0.9" stroke-opacity="0.8" stroke-linejoin="round"/><polygon points="226,67 229.6,67.5 229.5,76 227,75" fill="#0a0100" opacity="1.0" stroke="#f8d8c0" stroke-width="0.9" stroke-opacity="0.8" stroke-linejoin="round"/></g><rect x="140" y="86.8" width="90.3" height="8.5" fill="#b24a1c" opacity="0.5"/></svg>
<line x1="140" y1="53.8" x2="230.3" y2="53.8" stroke="#fff" stroke-width="1.1" opacity="0.85"/>
<line x1="140" y1="53.8" x2="230.3" y2="53.8" stroke="#000" stroke-width="1.2" stroke-dasharray="2 1.6"/>
<text transform="translate(137,92.3) rotate(-90)" text-anchor="middle" font-size="7.7" fill="#222" font-weight="normal" font-family="Liberation Sans, sans-serif">0</text>
<text transform="translate(137,76.6) rotate(-90)" text-anchor="middle" font-size="7.7" fill="#222" font-weight="normal" font-family="Liberation Sans, sans-serif">2</text>
<text transform="translate(137,58.9) rotate(-90)" text-anchor="middle" font-size="7.7" fill="#222" font-weight="normal" font-family="Liberation Sans, sans-serif">4</text>
<text transform="translate(137,41.8) rotate(-90)" text-anchor="middle" font-size="7.7" fill="#222" font-weight="normal" font-family="Liberation Sans, sans-serif">6</text>
<text transform="translate(137,24.6) rotate(-90)" text-anchor="middle" font-size="7.7" fill="#222" font-weight="normal" font-family="Liberation Sans, sans-serif">8</text>
<text transform="translate(137,12.8) rotate(-90)" text-anchor="middle" font-size="7.7" fill="#222" font-weight="normal" font-style="italic" font-family="Liberation Sans, sans-serif">um</text>
<text x="142.5" y="105.4" text-anchor="middle" font-size="7.7" fill="#222" font-weight="normal" font-family="Liberation Sans, sans-serif">0</text>
<text x="158.7" y="105.4" text-anchor="middle" font-size="7.7" fill="#222" font-weight="normal" font-family="Liberation Sans, sans-serif">2</text>
<text x="176.1" y="105.4" text-anchor="middle" font-size="7.7" fill="#222" font-weight="normal" font-family="Liberation Sans, sans-serif">4</text>
<text x="193.6" y="105.4" text-anchor="middle" font-size="7.7" fill="#222" font-weight="normal" font-family="Liberation Sans, sans-serif">6</text>
<text x="210.8" y="105.4" text-anchor="middle" font-size="7.7" fill="#222" font-weight="normal" font-family="Liberation Sans, sans-serif">8</text>
<text x="222.5" y="105.4" text-anchor="middle" font-size="7.7" fill="#222" font-weight="normal" font-style="italic" font-family="Liberation Sans, sans-serif">um</text>
<svg x="260" y="5.7" width="94" height="90.3" viewBox="260 5.7 94 90.3" overflow="hidden"><g filter="url(#fB1)"><rect x="260" y="5.7" width="94" height="90.3" fill="#4c4c4c"/><circle cx="263" cy="9" r="6.8" fill="url(#blob2)" opacity="0.60" style="mix-blend-mode:lighten"/><circle cx="269.1" cy="25.3" r="11.2" fill="url(#blob2)" opacity="0.74" style="mix-blend-mode:lighten"/><circle cx="282.3" cy="27.3" r="6.8" fill="url(#blob2)" opacity="0.67" style="mix-blend-mode:lighten"/><circle cx="287.4" cy="13.1" r="12.0" fill="url(#blob2)" opacity="0.71" style="mix-blend-mode:lighten"/><circle cx="299.6" cy="13.1" r="10.5" fill="url(#blob2)" opacity="0.67" style="mix-blend-mode:lighten"/><circle cx="295.5" cy="43.5" r="12.0" fill="url(#blob2)" opacity="0.74" style="mix-blend-mode:lighten"/><circle cx="276.2" cy="39.5" r="8.2" fill="url(#blob2)" opacity="0.60" style="mix-blend-mode:lighten"/><circle cx="303.6" cy="29.3" r="6.8" fill="url(#blob2)" opacity="0.53" style="mix-blend-mode:lighten"/><circle cx="331.4" cy="14.1" r="13.5" fill="url(#blob2)" opacity="0.71" style="mix-blend-mode:lighten"/><circle cx="347.6" cy="12.1" r="7.5" fill="url(#blob2)" opacity="0.63" style="mix-blend-mode:lighten"/><circle cx="332.4" cy="32.4" r="9.8" fill="url(#blob2)" opacity="0.74" style="mix-blend-mode:lighten"/><circle cx="345.6" cy="28.3" r="9.0" fill="url(#blob2)" opacity="0.63" style="mix-blend-mode:lighten"/><circle cx="307" cy="18.2" r="7.5" fill="url(#blob2)" opacity="0.60" style="mix-blend-mode:lighten"/><circle cx="322.2" cy="42.5" r="9.0" fill="url(#blob2)" opacity="0.63" style="mix-blend-mode:lighten"/><circle cx="345.6" cy="45.6" r="7.5" fill="url(#blob2)" opacity="0.53" style="mix-blend-mode:lighten"/><circle cx="282.3" cy="56.1" r="11.2" fill="url(#blob2)" opacity="0.74" style="mix-blend-mode:lighten"/><circle cx="274.2" cy="64.2" r="9.0" fill="url(#blob2)" opacity="0.67" style="mix-blend-mode:lighten"/><circle cx="289.4" cy="63.2" r="9.0" fill="url(#blob2)" opacity="0.63" style="mix-blend-mode:lighten"/><circle cx="263" cy="67.3" r="6.8" fill="url(#blob2)" opacity="0.53" style="mix-blend-mode:lighten"/><circle cx="301.6" cy="66.3" r="9.8" fill="url(#blob2)" opacity="0.67" style="mix-blend-mode:lighten"/><circle cx="299.6" cy="82.5" r="10.5" fill="url(#blob2)" opacity="0.67" style="mix-blend-mode:lighten"/><circle cx="281.3" cy="88.6" r="9.0" fill="url(#blob2)" opacity="0.63" style="mix-blend-mode:lighten"/><circle cx="267.1" cy="91.6" r="6.8" fill="url(#blob2)" opacity="0.60" style="mix-blend-mode:lighten"/><circle cx="297.5" cy="50" r="7.5" fill="url(#blob2)" opacity="0.60" style="mix-blend-mode:lighten"/><circle cx="279.3" cy="74.4" r="7.5" fill="url(#blob2)" opacity="0.49" style="mix-blend-mode:lighten"/><circle cx="264" cy="78.4" r="6.0" fill="url(#blob2)" opacity="0.46" style="mix-blend-mode:lighten"/><circle cx="328.3" cy="77.4" r="14.2" fill="url(#blob2)" opacity="0.74" style="mix-blend-mode:lighten"/><circle cx="348.6" cy="57.1" r="9.0" fill="url(#blob2)" opacity="0.71" style="mix-blend-mode:lighten"/><circle cx="323.3" cy="51" r="9.0" fill="url(#blob2)" opacity="0.63" style="mix-blend-mode:lighten"/><circle cx="309" cy="66.3" r="7.5" fill="url(#blob2)" opacity="0.57" style="mix-blend-mode:lighten"/><circle cx="348.6" cy="76.4" r="9.0" fill="url(#blob2)" opacity="0.63" style="mix-blend-mode:lighten"/><circle cx="309" cy="88.6" r="6.8" fill="url(#blob2)" opacity="0.53" style="mix-blend-mode:lighten"/><circle cx="334.4" cy="93.6" r="6.8" fill="url(#blob2)" opacity="0.46" style="mix-blend-mode:lighten"/><circle cx="275.5" cy="80.3" r="4.5" fill="url(#dblob)" opacity="0.60"/><circle cx="295" cy="30" r="5.2" fill="url(#dblob)" opacity="0.50"/><circle cx="341.5" cy="86.5" r="3.8" fill="url(#dblob)" opacity="0.67"/><circle cx="318" cy="64" r="4.5" fill="url(#dblob)" opacity="0.33"/><circle cx="271" cy="10" r="5.2" fill="url(#dblob)" opacity="0.33"/></g></svg>
<line x1="315.8" y1="5.7" x2="315.8" y2="96" stroke="#fff" stroke-width="1.2" stroke-dasharray="1.5 1.5"/>
<text transform="translate(257.2,93.5) rotate(-90)" text-anchor="middle" font-size="7.8" fill="#222" font-weight="normal" font-family="Liberation Sans, sans-serif">0</text>
<text transform="translate(257.2,83.5) rotate(-90)" text-anchor="middle" font-size="7.8" fill="#222" font-weight="normal" font-family="Liberation Sans, sans-serif">1</text>
<text transform="translate(257.2,73) rotate(-90)" text-anchor="middle" font-size="7.8" fill="#222" font-weight="normal" font-family="Liberation Sans, sans-serif">2</text>
<text transform="translate(257.2,62.3) rotate(-90)" text-anchor="middle" font-size="7.8" fill="#222" font-weight="normal" font-family="Liberation Sans, sans-serif">3</text>
<text transform="translate(257.2,51.1) rotate(-90)" text-anchor="middle" font-size="7.8" fill="#222" font-weight="normal" font-family="Liberation Sans, sans-serif">4</text>
<text transform="translate(257.2,39.9) rotate(-90)" text-anchor="middle" font-size="7.8" fill="#222" font-weight="normal" font-family="Liberation Sans, sans-serif">5</text>
<text transform="translate(257.2,28.7) rotate(-90)" text-anchor="middle" font-size="7.8" fill="#222" font-weight="normal" font-family="Liberation Sans, sans-serif">6</text>
<text transform="translate(257.2,13.7) rotate(-90)" text-anchor="middle" font-size="7.8" fill="#222" font-weight="normal" font-style="italic" font-family="Liberation Sans, sans-serif">um</text>
<text x="262.2" y="106.2" text-anchor="middle" font-size="7.8" fill="#222" font-weight="normal" font-family="Liberation Sans, sans-serif">0</text>
<text x="272.2" y="106.2" text-anchor="middle" font-size="7.8" fill="#222" font-weight="normal" font-family="Liberation Sans, sans-serif">1</text>
<text x="283.9" y="106.2" text-anchor="middle" font-size="7.8" fill="#222" font-weight="normal" font-family="Liberation Sans, sans-serif">2</text>
<text x="295.4" y="106.2" text-anchor="middle" font-size="7.8" fill="#222" font-weight="normal" font-family="Liberation Sans, sans-serif">3</text>
<text x="306.6" y="106.2" text-anchor="middle" font-size="7.8" fill="#222" font-weight="normal" font-family="Liberation Sans, sans-serif">4</text>
<text x="318.3" y="106.2" text-anchor="middle" font-size="7.8" fill="#222" font-weight="normal" font-family="Liberation Sans, sans-serif">5</text>
<text x="329.5" y="106.2" text-anchor="middle" font-size="7.8" fill="#222" font-weight="normal" font-family="Liberation Sans, sans-serif">6</text>
<text x="346" y="106.2" text-anchor="middle" font-size="7.8" fill="#222" font-weight="normal" font-style="italic" font-family="Liberation Sans, sans-serif">um</text>
<rect x="374" y="5.9" width="3.2" height="90.2" fill="url(#cbar)" stroke="#777" stroke-width="0.6"/>
<text transform="translate(371,93.7) rotate(-90)" text-anchor="middle" font-size="7.8" fill="#222" font-weight="normal" font-family="Liberation Sans, sans-serif">0</text>
<text transform="translate(371,76.5) rotate(-90)" text-anchor="middle" font-size="7.8" fill="#222" font-weight="normal" font-family="Liberation Sans, sans-serif">10</text>
<text transform="translate(371,58.8) rotate(-90)" text-anchor="middle" font-size="7.8" fill="#222" font-weight="normal" font-family="Liberation Sans, sans-serif">20</text>
<text transform="translate(371,41.2) rotate(-90)" text-anchor="middle" font-size="7.8" fill="#222" font-weight="normal" font-family="Liberation Sans, sans-serif">30</text>
<text transform="translate(371,13.7) rotate(-90)" text-anchor="middle" font-size="7.8" fill="#222" font-weight="normal" font-style="italic" font-family="Liberation Sans, sans-serif">nm</text>
<svg x="394.3" y="6.5" width="93.2" height="89.3" viewBox="394.3 6.5 93.2 89.3" overflow="hidden"><g filter="url(#fB2)"><rect x="394.3" y="6.5" width="93.2" height="89.3" fill="#4f4f4f"/></g><g filter="url(#soft)" fill="#1a0400"><polygon points="401,7 413,7 411,11 408,13 406,17 404,12"/><polygon points="423,27 427,28 430,25 431,29 435,31 430,33 428,36 426,32"/><polygon points="394.5,40 398,43 401,42 400,47 405,50 400,53 401,60 397,62 394.5,58"/><polygon points="427,58 431,61 436,59 433,64 435,68 430,66 427,69 428,63"/><polygon points="411,72 415,74 418,71 417,76 419,80 414,78 411,81 412,76"/><polygon points="478,38 481,41 487.5,38 487.5,50 483,47 479,50 481,44"/><polygon points="468,53 472,56 476,52 476,58 480,62 474,61 470,65 471,59"/><polygon points="472,80 476,82 479,79 478,84 480,88 475,86 472,88 473,84"/><polygon points="396,82 401,84 404,81 403,87 405,91 400,89 396,92"/></g><g fill="none" stroke="#f0d0c0" stroke-width="0.7" stroke-opacity="0.7"><path d="M413,7 C412,10 410,12 407,16"/><path d="M431,25 C432,27 434,29 436,31"/><path d="M487,50 C484,47 481,50 478,50"/><path d="M476,52 C477,55 479,58 481,62"/><path d="M436,59 C434,62 434,65 436,68"/><path d="M405,50 C402,52 401,56 401,60"/></g></svg>
<line x1="450.7" y1="6.5" x2="450.7" y2="95.8" stroke="#fff" stroke-width="1.2" stroke-dasharray="1.5 1.5"/>
<text transform="translate(391.3,94.1) rotate(-90)" text-anchor="middle" font-size="7.8" fill="#222" font-weight="normal" font-family="Liberation Sans, sans-serif">0</text>
<text transform="translate(391.3,84.3) rotate(-90)" text-anchor="middle" font-size="7.8" fill="#222" font-weight="normal" font-family="Liberation Sans, sans-serif">1</text>
<text transform="translate(391.3,72.9) rotate(-90)" text-anchor="middle" font-size="7.8" fill="#222" font-weight="normal" font-family="Liberation Sans, sans-serif">2</text>
<text transform="translate(391.3,62.4) rotate(-90)" text-anchor="middle" font-size="7.8" fill="#222" font-weight="normal" font-family="Liberation Sans, sans-serif">3</text>
<text transform="translate(391.3,51.4) rotate(-90)" text-anchor="middle" font-size="7.8" fill="#222" font-weight="normal" font-family="Liberation Sans, sans-serif">4</text>
<text transform="translate(391.3,40.2) rotate(-90)" text-anchor="middle" font-size="7.8" fill="#222" font-weight="normal" font-family="Liberation Sans, sans-serif">5</text>
<text transform="translate(391.3,29.4) rotate(-90)" text-anchor="middle" font-size="7.8" fill="#222" font-weight="normal" font-family="Liberation Sans, sans-serif">6</text>
<text transform="translate(391.3,13.7) rotate(-90)" text-anchor="middle" font-size="7.8" fill="#222" font-weight="normal" font-style="italic" font-family="Liberation Sans, sans-serif">um</text>
<text x="395.4" y="106.2" text-anchor="middle" font-size="7.8" fill="#222" font-weight="normal" font-family="Liberation Sans, sans-serif">0</text>
<text x="406.2" y="106.2" text-anchor="middle" font-size="7.8" fill="#222" font-weight="normal" font-family="Liberation Sans, sans-serif">1</text>
<text x="418" y="106.2" text-anchor="middle" font-size="7.8" fill="#222" font-weight="normal" font-family="Liberation Sans, sans-serif">2</text>
<text x="429.9" y="106.2" text-anchor="middle" font-size="7.8" fill="#222" font-weight="normal" font-family="Liberation Sans, sans-serif">3</text>
<text x="441.9" y="106.2" text-anchor="middle" font-size="7.8" fill="#222" font-weight="normal" font-family="Liberation Sans, sans-serif">4</text>
<text x="453.3" y="106.2" text-anchor="middle" font-size="7.8" fill="#222" font-weight="normal" font-family="Liberation Sans, sans-serif">5</text>
<text x="464.6" y="106.2" text-anchor="middle" font-size="7.8" fill="#222" font-weight="normal" font-family="Liberation Sans, sans-serif">6</text>
<text x="479.7" y="106.2" text-anchor="middle" font-size="7.8" fill="#222" font-weight="normal" font-style="italic" font-family="Liberation Sans, sans-serif">um</text>
<svg x="26" y="297.5" width="77.5" height="78.8" viewBox="26 297.5 77.5 78.8" overflow="hidden"><g filter="url(#fC1)"><rect x="26" y="297.5" width="77.5" height="78.8" fill="#949494"/></g></svg>
<line x1="26" y1="342.4" x2="103.5" y2="342.4" stroke="#fff" stroke-width="1.1" opacity="0.85"/>
<line x1="26" y1="342.4" x2="103.5" y2="342.4" stroke="#000" stroke-width="1.2" stroke-dasharray="1.6 1.2800000000000002"/>
<text transform="translate(23.5,373.5) rotate(-90)" text-anchor="middle" font-size="7.3" fill="#222" font-weight="normal" font-family="Liberation Sans, sans-serif">0</text>
<text transform="translate(23.5,354.3) rotate(-90)" text-anchor="middle" font-size="7.3" fill="#222" font-weight="normal" font-family="Liberation Sans, sans-serif">1.0</text>
<text transform="translate(23.5,336.1) rotate(-90)" text-anchor="middle" font-size="7.3" fill="#222" font-weight="normal" font-family="Liberation Sans, sans-serif">2.0</text>
<text transform="translate(23.5,316.2) rotate(-90)" text-anchor="middle" font-size="7.3" fill="#222" font-weight="normal" font-family="Liberation Sans, sans-serif">3.0</text>
<text transform="translate(23.5,302.4) rotate(-90)" text-anchor="middle" font-size="7.3" fill="#222" font-weight="normal" font-style="italic" font-family="Liberation Sans, sans-serif">um</text>
<text x="27.4" y="384.2" text-anchor="middle" font-size="7.3" fill="#222" font-weight="normal" font-family="Liberation Sans, sans-serif">0</text>
<text x="45.6" y="384.2" text-anchor="middle" font-size="7.3" fill="#222" font-weight="normal" font-family="Liberation Sans, sans-serif">1.0</text>
<text x="64.8" y="384.2" text-anchor="middle" font-size="7.3" fill="#222" font-weight="normal" font-family="Liberation Sans, sans-serif">2.0</text>
<text x="84.3" y="384.2" text-anchor="middle" font-size="7.3" fill="#222" font-weight="normal" font-family="Liberation Sans, sans-serif">3.0</text>
<text x="98.5" y="384.2" text-anchor="middle" font-size="7.3" fill="#222" font-weight="normal" font-style="italic" font-family="Liberation Sans, sans-serif">um</text>
<rect x="123.7" y="297.5" width="2.6" height="78.5" fill="url(#cbar)" stroke="#777" stroke-width="0.6"/>
<text transform="translate(120.3,373.5) rotate(-90)" text-anchor="middle" font-size="7.3" fill="#222" font-weight="normal" font-family="Liberation Sans, sans-serif">0</text>
<text transform="translate(120.3,353.6) rotate(-90)" text-anchor="middle" font-size="7.3" fill="#222" font-weight="normal" font-family="Liberation Sans, sans-serif">50</text>
<text transform="translate(120.3,331.1) rotate(-90)" text-anchor="middle" font-size="7.3" fill="#222" font-weight="normal" font-family="Liberation Sans, sans-serif">100</text>
<text transform="translate(120.3,303.7) rotate(-90)" text-anchor="middle" font-size="7.3" fill="#222" font-weight="normal" font-style="italic" font-family="Liberation Sans, sans-serif">nm</text>
<svg x="138.7" y="297.3" width="81.7" height="79.5" viewBox="138.7 297.3 81.7 79.5" overflow="hidden"><g filter="url(#fC2)"><rect x="138.7" y="297.3" width="81.7" height="79.5" fill="#6b6b6b"/></g></svg>
<line x1="138.7" y1="343.3" x2="220.4" y2="343.3" stroke="#fff" stroke-width="1.1" opacity="0.85"/>
<line x1="138.7" y1="343.3" x2="220.4" y2="343.3" stroke="#000" stroke-width="1.2" stroke-dasharray="1.6 1.2800000000000002"/>
<text transform="translate(137.5,373.5) rotate(-90)" text-anchor="middle" font-size="7.3" fill="#222" font-weight="normal" font-family="Liberation Sans, sans-serif">0</text>
<text transform="translate(137.5,355) rotate(-90)" text-anchor="middle" font-size="7.3" fill="#222" font-weight="normal" font-family="Liberation Sans, sans-serif">1.0</text>
<text transform="translate(137.5,335.5) rotate(-90)" text-anchor="middle" font-size="7.3" fill="#222" font-weight="normal" font-family="Liberation Sans, sans-serif">2.0</text>
<text transform="translate(137.5,316) rotate(-90)" text-anchor="middle" font-size="7.3" fill="#222" font-weight="normal" font-family="Liberation Sans, sans-serif">3.0</text>
<text transform="translate(137.5,302.4) rotate(-90)" text-anchor="middle" font-size="7.3" fill="#222" font-weight="normal" font-style="italic" font-family="Liberation Sans, sans-serif">um</text>
<text x="141.5" y="384.6" text-anchor="middle" font-size="7.3" fill="#222" font-weight="normal" font-family="Liberation Sans, sans-serif">0</text>
<text x="160.5" y="384.6" text-anchor="middle" font-size="7.3" fill="#222" font-weight="normal" font-family="Liberation Sans, sans-serif">1.0</text>
<text x="180.8" y="384.6" text-anchor="middle" font-size="7.3" fill="#222" font-weight="normal" font-family="Liberation Sans, sans-serif">2.0</text>
<text x="200.7" y="384.6" text-anchor="middle" font-size="7.3" fill="#222" font-weight="normal" font-family="Liberation Sans, sans-serif">3.0</text>
<text x="212.5" y="384.6" text-anchor="middle" font-size="7.3" fill="#222" font-weight="normal" font-style="italic" font-family="Liberation Sans, sans-serif">um</text>
<svg x="278" y="299.8" width="79.6" height="79.1" viewBox="278 299.8 79.6 79.1" overflow="hidden"><g filter="url(#fD1)"><rect x="278" y="299.8" width="79.6" height="79.1" fill="#4c4c4c"/><circle cx="280.4" cy="302.5" r="2.2" fill="url(#blob)" opacity="0.90" style="mix-blend-mode:lighten"/><circle cx="284.9" cy="303.0" r="1.5" fill="url(#blob)" opacity="0.63" style="mix-blend-mode:lighten"/><circle cx="289.7" cy="302.3" r="2.3" fill="url(#blob)" opacity="0.43" style="mix-blend-mode:lighten"/><circle cx="292.6" cy="301.2" r="2.0" fill="url(#blob)" opacity="0.69" style="mix-blend-mode:lighten"/><circle cx="295.6" cy="301.2" r="1.8" fill="url(#blob)" opacity="0.89" style="mix-blend-mode:lighten"/><circle cx="301.8" cy="301.0" r="2.2" fill="url(#blob)" opacity="0.44" style="mix-blend-mode:lighten"/><circle cx="305.6" cy="300.9" r="1.5" fill="url(#blob)" opacity="0.86" style="mix-blend-mode:lighten"/><circle cx="308.7" cy="301.2" r="2.4" fill="url(#blob)" opacity="0.86" style="mix-blend-mode:lighten"/><circle cx="313.2" cy="303.1" r="2.0" fill="url(#blob)" opacity="0.74" style="mix-blend-mode:lighten"/><circle cx="317.1" cy="303.0" r="2.1" fill="url(#blob)" opacity="0.91" style="mix-blend-mode:lighten"/><circle cx="323.1" cy="301.4" r="1.8" fill="url(#blob)" opacity="0.46" style="mix-blend-mode:lighten"/><circle cx="325.4" cy="300.8" r="1.8" fill="url(#blob)" opacity="0.70" style="mix-blend-mode:lighten"/><circle cx="329.2" cy="302.4" r="1.8" fill="url(#blob)" opacity="0.53" style="mix-blend-mode:lighten"/><circle cx="335.5" cy="301.8" r="1.8" fill="url(#blob)" opacity="0.63" style="mix-blend-mode:lighten"/><circle cx="339.4" cy="300.7" r="2.4" fill="url(#blob)" opacity="0.37" style="mix-blend-mode:lighten"/><circle cx="343.7" cy="302.8" r="1.5" fill="url(#blob)" opacity="0.81" style="mix-blend-mode:lighten"/><circle cx="347.0" cy="302.1" r="1.5" fill="url(#blob)" opacity="0.39" style="mix-blend-mode:lighten"/><circle cx="350.7" cy="303.1" r="1.7" fill="url(#blob)" opacity="0.79" style="mix-blend-mode:lighten"/><circle cx="356.8" cy="303.0" r="1.8" fill="url(#blob)" opacity="0.56" style="mix-blend-mode:lighten"/><circle cx="282.3" cy="306.3" r="1.6" fill="url(#blob)" opacity="0.79" style="mix-blend-mode:lighten"/><circle cx="287.2" cy="306.5" r="1.5" fill="url(#blob)" opacity="0.90" style="mix-blend-mode:lighten"/><circle cx="289.5" cy="305.1" r="2.1" fill="url(#blob)" opacity="0.89" style="mix-blend-mode:lighten"/><circle cx="294.4" cy="306.7" r="2.0" fill="url(#blob)" opacity="0.53" style="mix-blend-mode:lighten"/><circle cx="298.5" cy="304.7" r="1.6" fill="url(#blob)" opacity="0.44" style="mix-blend-mode:lighten"/><circle cx="303.7" cy="306.8" r="1.7" fill="url(#blob)" opacity="0.39" style="mix-blend-mode:lighten"/><circle cx="308.7" cy="305.6" r="1.9" fill="url(#blob)" opacity="0.49" style="mix-blend-mode:lighten"/><circle cx="311.8" cy="306.4" r="1.9" fill="url(#blob)" opacity="0.60" style="mix-blend-mode:lighten"/><circle cx="314.6" cy="306.6" r="1.5" fill="url(#blob)" opacity="0.64" style="mix-blend-mode:lighten"/><circle cx="320.9" cy="304.6" r="2.2" fill="url(#blob)" opacity="0.90" style="mix-blend-mode:lighten"/><circle cx="324.5" cy="306.3" r="1.6" fill="url(#blob)" opacity="0.60" style="mix-blend-mode:lighten"/><circle cx="327.5" cy="306.5" r="1.8" fill="url(#blob)" opacity="0.61" style="mix-blend-mode:lighten"/><circle cx="333.9" cy="306.5" r="2.4" fill="url(#blob)" opacity="0.61" style="mix-blend-mode:lighten"/><circle cx="336.8" cy="306.2" r="1.9" fill="url(#blob)" opacity="0.53" style="mix-blend-mode:lighten"/><circle cx="340.7" cy="304.6" r="1.8" fill="url(#blob)" opacity="0.93" style="mix-blend-mode:lighten"/><circle cx="346.4" cy="305.9" r="2.0" fill="url(#blob)" opacity="0.56" style="mix-blend-mode:lighten"/><circle cx="348.3" cy="305.0" r="2.2" fill="url(#blob)" opacity="0.86" style="mix-blend-mode:lighten"/><circle cx="353.2" cy="306.3" r="2.2" fill="url(#blob)" opacity="0.76" style="mix-blend-mode:lighten"/><circle cx="280.5" cy="309.9" r="1.8" fill="url(#blob)" opacity="0.76" style="mix-blend-mode:lighten"/><circle cx="283.7" cy="309.2" r="2.2" fill="url(#blob)" opacity="0.76" style="mix-blend-mode:lighten"/><circle cx="288.0" cy="310.4" r="2.1" fill="url(#blob)" opacity="0.69" style="mix-blend-mode:lighten"/><circle cx="291.4" cy="309.3" r="1.7" fill="url(#blob)" opacity="0.74" style="mix-blend-mode:lighten"/><circle cx="296.8" cy="310.0" r="2.1" fill="url(#blob)" opacity="0.81" style="mix-blend-mode:lighten"/><circle cx="300.7" cy="309.6" r="2.2" fill="url(#blob)" opacity="0.83" style="mix-blend-mode:lighten"/><circle cx="304.9" cy="310.1" r="2.3" fill="url(#blob)" opacity="0.76" style="mix-blend-mode:lighten"/><circle cx="310.7" cy="310.4" r="2.0" fill="url(#blob)" opacity="0.66" style="mix-blend-mode:lighten"/><circle cx="312.8" cy="310.1" r="2.3" fill="url(#blob)" opacity="0.63" style="mix-blend-mode:lighten"/><circle cx="318.4" cy="309.8" r="2.2" fill="url(#blob)" opacity="0.46" style="mix-blend-mode:lighten"/><circle cx="322.8" cy="309.4" r="2.1" fill="url(#blob)" opacity="0.60" style="mix-blend-mode:lighten"/><circle cx="326.6" cy="309.9" r="2.1" fill="url(#blob)" opacity="0.77" style="mix-blend-mode:lighten"/><circle cx="329.3" cy="308.3" r="1.9" fill="url(#blob)" opacity="0.73" style="mix-blend-mode:lighten"/><circle cx="334.0" cy="309.7" r="2.1" fill="url(#blob)" opacity="0.39" style="mix-blend-mode:lighten"/><circle cx="338.8" cy="308.5" r="1.5" fill="url(#blob)" opacity="0.43" style="mix-blend-mode:lighten"/><circle cx="342.6" cy="308.4" r="1.7" fill="url(#blob)" opacity="0.37" style="mix-blend-mode:lighten"/><circle cx="347.2" cy="308.9" r="2.1" fill="url(#blob)" opacity="0.70" style="mix-blend-mode:lighten"/><circle cx="350.8" cy="310.3" r="1.5" fill="url(#blob)" opacity="0.59" style="mix-blend-mode:lighten"/><circle cx="355.1" cy="309.0" r="1.6" fill="url(#blob)" opacity="0.83" style="mix-blend-mode:lighten"/><circle cx="281.9" cy="311.7" r="2.1" fill="url(#blob)" opacity="0.41" style="mix-blend-mode:lighten"/><circle cx="286.5" cy="312.4" r="2.0" fill="url(#blob)" opacity="0.90" style="mix-blend-mode:lighten"/><circle cx="291.4" cy="312.7" r="2.2" fill="url(#blob)" opacity="0.73" style="mix-blend-mode:lighten"/><circle cx="294.5" cy="311.9" r="2.0" fill="url(#blob)" opacity="0.69" style="mix-blend-mode:lighten"/><circle cx="300.2" cy="314.1" r="2.1" fill="url(#blob)" opacity="0.56" style="mix-blend-mode:lighten"/><circle cx="304.2" cy="311.6" r="1.6" fill="url(#blob)" opacity="0.69" style="mix-blend-mode:lighten"/><circle cx="307.7" cy="311.9" r="2.1" fill="url(#blob)" opacity="0.87" style="mix-blend-mode:lighten"/><circle cx="311.3" cy="312.7" r="1.7" fill="url(#blob)" opacity="0.53" style="mix-blend-mode:lighten"/><circle cx="317.0" cy="312.5" r="2.4" fill="url(#blob)" opacity="0.89" style="mix-blend-mode:lighten"/><circle cx="320.2" cy="312.2" r="2.4" fill="url(#blob)" opacity="0.64" style="mix-blend-mode:lighten"/><circle cx="324.0" cy="312.4" r="2.4" fill="url(#blob)" opacity="0.64" style="mix-blend-mode:lighten"/><circle cx="327.8" cy="312.8" r="1.6" fill="url(#blob)" opacity="0.71" style="mix-blend-mode:lighten"/><circle cx="332.5" cy="312.3" r="2.2" fill="url(#blob)" opacity="0.83" style="mix-blend-mode:lighten"/><circle cx="335.5" cy="312.9" r="1.7" fill="url(#blob)" opacity="0.89" style="mix-blend-mode:lighten"/><circle cx="341.7" cy="312.2" r="1.7" fill="url(#blob)" opacity="0.44" style="mix-blend-mode:lighten"/><circle cx="346.5" cy="312.3" r="2.0" fill="url(#blob)" opacity="0.63" style="mix-blend-mode:lighten"/><circle cx="349.8" cy="313.1" r="2.2" fill="url(#blob)" opacity="0.43" style="mix-blend-mode:lighten"/><circle cx="354.3" cy="312.3" r="2.0" fill="url(#blob)" opacity="0.54" style="mix-blend-mode:lighten"/><circle cx="279.6" cy="316.6" r="1.9" fill="url(#blob)" opacity="0.56" style="mix-blend-mode:lighten"/><circle cx="284.9" cy="316.8" r="1.5" fill="url(#blob)" opacity="0.50" style="mix-blend-mode:lighten"/><circle cx="288.4" cy="317.6" r="2.3" fill="url(#blob)" opacity="0.67" style="mix-blend-mode:lighten"/><circle cx="291.4" cy="317.2" r="1.9" fill="url(#blob)" opacity="0.69" style="mix-blend-mode:lighten"/><circle cx="297.4" cy="316.9" r="1.9" fill="url(#blob)" opacity="0.87" style="mix-blend-mode:lighten"/><circle cx="300.8" cy="316.2" r="2.3" fill="url(#blob)" opacity="0.47" style="mix-blend-mode:lighten"/><circle cx="304.8" cy="317.4" r="1.6" fill="url(#blob)" opacity="0.83" style="mix-blend-mode:lighten"/><circle cx="310.0" cy="316.3" r="1.8" fill="url(#blob)" opacity="0.80" style="mix-blend-mode:lighten"/><circle cx="314.8" cy="315.6" r="1.9" fill="url(#blob)" opacity="0.67" style="mix-blend-mode:lighten"/><circle cx="317.9" cy="316.1" r="1.6" fill="url(#blob)" opacity="0.69" style="mix-blend-mode:lighten"/><circle cx="322.9" cy="315.4" r="1.7" fill="url(#blob)" opacity="0.83" style="mix-blend-mode:lighten"/><circle cx="327.1" cy="316.9" r="1.5" fill="url(#blob)" opacity="0.77" style="mix-blend-mode:lighten"/><circle cx="331.7" cy="317.8" r="2.1" fill="url(#blob)" opacity="0.39" style="mix-blend-mode:lighten"/><circle cx="335.6" cy="315.8" r="2.1" fill="url(#blob)" opacity="0.90" style="mix-blend-mode:lighten"/><circle cx="339.5" cy="315.6" r="1.8" fill="url(#blob)" opacity="0.89" style="mix-blend-mode:lighten"/><circle cx="342.2" cy="316.8" r="1.9" fill="url(#blob)" opacity="0.44" style="mix-blend-mode:lighten"/><circle cx="347.6" cy="315.3" r="1.6" fill="url(#blob)" opacity="0.57" style="mix-blend-mode:lighten"/><circle cx="350.4" cy="315.4" r="2.0" fill="url(#blob)" opacity="0.79" style="mix-blend-mode:lighten"/><circle cx="356.7" cy="315.6" r="1.9" fill="url(#blob)" opacity="0.54" style="mix-blend-mode:lighten"/><circle cx="282.5" cy="320.1" r="2.3" fill="url(#blob)" opacity="0.57" style="mix-blend-mode:lighten"/><circle cx="285.2" cy="320.7" r="1.6" fill="url(#blob)" opacity="0.71" style="mix-blend-mode:lighten"/><circle cx="290.6" cy="321.2" r="2.0" fill="url(#blob)" opacity="0.71" style="mix-blend-mode:lighten"/><circle cx="294.2" cy="320.3" r="1.7" fill="url(#blob)" opacity="0.79" style="mix-blend-mode:lighten"/><circle cx="299.0" cy="319.2" r="1.7" fill="url(#blob)" opacity="0.57" style="mix-blend-mode:lighten"/><circle cx="303.8" cy="319.3" r="2.1" fill="url(#blob)" opacity="0.73" style="mix-blend-mode:lighten"/><circle cx="306.3" cy="320.6" r="1.6" fill="url(#blob)" opacity="0.43" style="mix-blend-mode:lighten"/><circle cx="311.8" cy="319.5" r="2.3" fill="url(#blob)" opacity="0.63" style="mix-blend-mode:lighten"/><circle cx="315.3" cy="320.9" r="1.5" fill="url(#blob)" opacity="0.77" style="mix-blend-mode:lighten"/><circle cx="318.8" cy="319.3" r="2.4" fill="url(#blob)" opacity="0.74" style="mix-blend-mode:lighten"/><circle cx="323.5" cy="319.2" r="2.4" fill="url(#blob)" opacity="0.74" style="mix-blend-mode:lighten"/><circle cx="329.2" cy="319.2" r="2.1" fill="url(#blob)" opacity="0.56" style="mix-blend-mode:lighten"/><circle cx="331.9" cy="319.7" r="2.1" fill="url(#blob)" opacity="0.56" style="mix-blend-mode:lighten"/><circle cx="336.5" cy="319.2" r="2.2" fill="url(#blob)" opacity="0.73" style="mix-blend-mode:lighten"/><circle cx="341.8" cy="320.0" r="2.3" fill="url(#blob)" opacity="0.66" style="mix-blend-mode:lighten"/><circle cx="345.4" cy="320.4" r="2.2" fill="url(#blob)" opacity="0.59" style="mix-blend-mode:lighten"/><circle cx="348.4" cy="319.0" r="1.7" fill="url(#blob)" opacity="0.39" style="mix-blend-mode:lighten"/><circle cx="354.6" cy="320.1" r="2.2" fill="url(#blob)" opacity="0.36" style="mix-blend-mode:lighten"/><circle cx="280.0" cy="324.8" r="2.1" fill="url(#blob)" opacity="0.60" style="mix-blend-mode:lighten"/><circle cx="284.2" cy="322.8" r="1.6" fill="url(#blob)" opacity="0.44" style="mix-blend-mode:lighten"/><circle cx="288.2" cy="323.5" r="2.3" fill="url(#blob)" opacity="0.44" style="mix-blend-mode:lighten"/><circle cx="292.1" cy="323.2" r="1.7" fill="url(#blob)" opacity="0.51" style="mix-blend-mode:lighten"/><circle cx="296.2" cy="323.8" r="1.5" fill="url(#blob)" opacity="0.89" style="mix-blend-mode:lighten"/><circle cx="300.8" cy="325.0" r="2.1" fill="url(#blob)" opacity="0.74" style="mix-blend-mode:lighten"/><circle cx="305.2" cy="325.0" r="1.6" fill="url(#blob)" opacity="0.74" style="mix-blend-mode:lighten"/><circle cx="309.0" cy="324.3" r="2.2" fill="url(#blob)" opacity="0.46" style="mix-blend-mode:lighten"/><circle cx="312.9" cy="322.6" r="1.7" fill="url(#blob)" opacity="0.40" style="mix-blend-mode:lighten"/><circle cx="317.6" cy="325.1" r="1.8" fill="url(#blob)" opacity="0.53" style="mix-blend-mode:lighten"/><circle cx="322.0" cy="323.3" r="2.2" fill="url(#blob)" opacity="0.77" style="mix-blend-mode:lighten"/><circle cx="325.4" cy="323.1" r="2.1" fill="url(#blob)" opacity="0.90" style="mix-blend-mode:lighten"/><circle cx="330.9" cy="323.6" r="2.4" fill="url(#blob)" opacity="0.36" style="mix-blend-mode:lighten"/><circle cx="333.6" cy="324.6" r="1.9" fill="url(#blob)" opacity="0.39" style="mix-blend-mode:lighten"/><circle cx="339.0" cy="325.1" r="2.0" fill="url(#blob)" opacity="0.56" style="mix-blend-mode:lighten"/><circle cx="342.0" cy="322.7" r="2.3" fill="url(#blob)" opacity="0.64" style="mix-blend-mode:lighten"/><circle cx="348.4" cy="322.7" r="1.7" fill="url(#blob)" opacity="0.39" style="mix-blend-mode:lighten"/><circle cx="351.2" cy="322.7" r="1.7" fill="url(#blob)" opacity="0.59" style="mix-blend-mode:lighten"/><circle cx="355.2" cy="322.7" r="1.5" fill="url(#blob)" opacity="0.91" style="mix-blend-mode:lighten"/><circle cx="281.4" cy="327.5" r="1.9" fill="url(#blob)" opacity="0.66" style="mix-blend-mode:lighten"/><circle cx="285.3" cy="327.0" r="1.6" fill="url(#blob)" opacity="0.67" style="mix-blend-mode:lighten"/><circle cx="291.7" cy="327.7" r="2.3" fill="url(#blob)" opacity="0.49" style="mix-blend-mode:lighten"/><circle cx="293.5" cy="327.6" r="1.9" fill="url(#blob)" opacity="0.69" style="mix-blend-mode:lighten"/><circle cx="298.7" cy="327.8" r="2.2" fill="url(#blob)" opacity="0.89" style="mix-blend-mode:lighten"/><circle cx="302.7" cy="327.3" r="2.2" fill="url(#blob)" opacity="0.49" style="mix-blend-mode:lighten"/><circle cx="306.4" cy="327.0" r="1.6" fill="url(#blob)" opacity="0.80" style="mix-blend-mode:lighten"/><circle cx="312.4" cy="327.0" r="1.6" fill="url(#blob)" opacity="0.40" style="mix-blend-mode:lighten"/><circle cx="315.1" cy="326.4" r="1.9" fill="url(#blob)" opacity="0.69" style="mix-blend-mode:lighten"/><circle cx="319.3" cy="326.3" r="2.1" fill="url(#blob)" opacity="0.39" style="mix-blend-mode:lighten"/><circle cx="323.4" cy="326.9" r="1.8" fill="url(#blob)" opacity="0.41" style="mix-blend-mode:lighten"/><circle cx="328.2" cy="327.0" r="2.2" fill="url(#blob)" opacity="0.67" style="mix-blend-mode:lighten"/><circle cx="333.6" cy="327.9" r="2.2" fill="url(#blob)" opacity="0.69" style="mix-blend-mode:lighten"/><circle cx="336.6" cy="328.3" r="2.1" fill="url(#blob)" opacity="0.90" style="mix-blend-mode:lighten"/><circle cx="341.6" cy="328.0" r="1.7" fill="url(#blob)" opacity="0.81" style="mix-blend-mode:lighten"/><circle cx="344.9" cy="326.5" r="1.6" fill="url(#blob)" opacity="0.46" style="mix-blend-mode:lighten"/><circle cx="348.8" cy="327.9" r="1.8" fill="url(#blob)" opacity="0.40" style="mix-blend-mode:lighten"/><circle cx="354.3" cy="327.6" r="1.5" fill="url(#blob)" opacity="0.39" style="mix-blend-mode:lighten"/><circle cx="279.1" cy="330.8" r="2.3" fill="url(#blob)" opacity="0.90" style="mix-blend-mode:lighten"/><circle cx="284.6" cy="330.4" r="1.9" fill="url(#blob)" opacity="0.56" style="mix-blend-mode:lighten"/><circle cx="288.1" cy="329.9" r="2.0" fill="url(#blob)" opacity="0.83" style="mix-blend-mode:lighten"/><circle cx="293.3" cy="330.1" r="2.0" fill="url(#blob)" opacity="0.46" style="mix-blend-mode:lighten"/><circle cx="297.4" cy="331.0" r="2.3" fill="url(#blob)" opacity="0.81" style="mix-blend-mode:lighten"/><circle cx="300.1" cy="330.7" r="2.3" fill="url(#blob)" opacity="0.61" style="mix-blend-mode:lighten"/><circle cx="305.1" cy="331.0" r="2.2" fill="url(#blob)" opacity="0.89" style="mix-blend-mode:lighten"/><circle cx="309.6" cy="332.4" r="2.0" fill="url(#blob)" opacity="0.41" style="mix-blend-mode:lighten"/><circle cx="314.5" cy="330.9" r="1.5" fill="url(#blob)" opacity="0.91" style="mix-blend-mode:lighten"/><circle cx="316.7" cy="331.3" r="1.9" fill="url(#blob)" opacity="0.86" style="mix-blend-mode:lighten"/><circle cx="321.8" cy="330.4" r="1.8" fill="url(#blob)" opacity="0.47" style="mix-blend-mode:lighten"/><circle cx="326.5" cy="330.8" r="2.2" fill="url(#blob)" opacity="0.50" style="mix-blend-mode:lighten"/><circle cx="330.1" cy="330.5" r="2.4" fill="url(#blob)" opacity="0.84" style="mix-blend-mode:lighten"/><circle cx="335.6" cy="331.4" r="1.9" fill="url(#blob)" opacity="0.44" style="mix-blend-mode:lighten"/><circle cx="339.8" cy="331.1" r="1.5" fill="url(#blob)" opacity="0.46" style="mix-blend-mode:lighten"/><circle cx="342.1" cy="331.7" r="2.3" fill="url(#blob)" opacity="0.47" style="mix-blend-mode:lighten"/><circle cx="348.1" cy="330.7" r="2.1" fill="url(#blob)" opacity="0.86" style="mix-blend-mode:lighten"/><circle cx="351.8" cy="331.9" r="1.8" fill="url(#blob)" opacity="0.36" style="mix-blend-mode:lighten"/><circle cx="355.7" cy="331.4" r="1.7" fill="url(#blob)" opacity="0.59" style="mix-blend-mode:lighten"/><circle cx="281.7" cy="333.6" r="1.8" fill="url(#blob)" opacity="0.57" style="mix-blend-mode:lighten"/><circle cx="286.3" cy="335.3" r="1.9" fill="url(#blob)" opacity="0.91" style="mix-blend-mode:lighten"/><circle cx="291.4" cy="335.9" r="2.1" fill="url(#blob)" opacity="0.74" style="mix-blend-mode:lighten"/><circle cx="294.9" cy="335.6" r="1.8" fill="url(#blob)" opacity="0.70" style="mix-blend-mode:lighten"/><circle cx="299.5" cy="334.8" r="1.8" fill="url(#blob)" opacity="0.40" style="mix-blend-mode:lighten"/><circle cx="302.1" cy="334.4" r="2.0" fill="url(#blob)" opacity="0.79" style="mix-blend-mode:lighten"/><circle cx="308.0" cy="334.3" r="2.3" fill="url(#blob)" opacity="0.51" style="mix-blend-mode:lighten"/><circle cx="312.2" cy="333.7" r="2.2" fill="url(#blob)" opacity="0.74" style="mix-blend-mode:lighten"/><circle cx="317.0" cy="335.8" r="2.1" fill="url(#blob)" opacity="0.84" style="mix-blend-mode:lighten"/><circle cx="320.6" cy="335.1" r="1.7" fill="url(#blob)" opacity="0.66" style="mix-blend-mode:lighten"/><circle cx="325.2" cy="334.1" r="2.4" fill="url(#blob)" opacity="0.67" style="mix-blend-mode:lighten"/><circle cx="328.1" cy="333.5" r="1.8" fill="url(#blob)" opacity="0.46" style="mix-blend-mode:lighten"/><circle cx="333.0" cy="335.8" r="2.3" fill="url(#blob)" opacity="0.71" style="mix-blend-mode:lighten"/><circle cx="336.5" cy="333.8" r="2.1" fill="url(#blob)" opacity="0.67" style="mix-blend-mode:lighten"/><circle cx="341.6" cy="334.5" r="2.3" fill="url(#blob)" opacity="0.49" style="mix-blend-mode:lighten"/><circle cx="344.7" cy="334.2" r="2.1" fill="url(#blob)" opacity="0.87" style="mix-blend-mode:lighten"/><circle cx="348.5" cy="335.1" r="2.2" fill="url(#blob)" opacity="0.49" style="mix-blend-mode:lighten"/><circle cx="352.5" cy="335.0" r="2.2" fill="url(#blob)" opacity="0.86" style="mix-blend-mode:lighten"/><circle cx="280.7" cy="338.2" r="1.9" fill="url(#blob)" opacity="0.66" style="mix-blend-mode:lighten"/><circle cx="285.4" cy="337.9" r="1.8" fill="url(#blob)" opacity="0.70" style="mix-blend-mode:lighten"/><circle cx="289.7" cy="337.6" r="1.5" fill="url(#blob)" opacity="0.43" style="mix-blend-mode:lighten"/><circle cx="292.9" cy="338.7" r="1.7" fill="url(#blob)" opacity="0.47" style="mix-blend-mode:lighten"/><circle cx="297.1" cy="338.8" r="2.1" fill="url(#blob)" opacity="0.77" style="mix-blend-mode:lighten"/><circle cx="300.0" cy="338.4" r="2.2" fill="url(#blob)" opacity="0.90" style="mix-blend-mode:lighten"/><circle cx="304.8" cy="339.4" r="2.1" fill="url(#blob)" opacity="0.89" style="mix-blend-mode:lighten"/><circle cx="308.8" cy="339.0" r="2.2" fill="url(#blob)" opacity="0.63" style="mix-blend-mode:lighten"/><circle cx="312.7" cy="337.6" r="1.6" fill="url(#blob)" opacity="0.41" style="mix-blend-mode:lighten"/><circle cx="317.0" cy="338.7" r="1.6" fill="url(#blob)" opacity="0.79" style="mix-blend-mode:lighten"/><circle cx="322.7" cy="339.3" r="2.2" fill="url(#blob)" opacity="0.77" style="mix-blend-mode:lighten"/><circle cx="327.4" cy="339.6" r="2.1" fill="url(#blob)" opacity="0.91" style="mix-blend-mode:lighten"/><circle cx="329.5" cy="337.4" r="1.6" fill="url(#blob)" opacity="0.47" style="mix-blend-mode:lighten"/><circle cx="334.4" cy="338.3" r="2.1" fill="url(#blob)" opacity="0.79" style="mix-blend-mode:lighten"/><circle cx="337.8" cy="338.2" r="2.0" fill="url(#blob)" opacity="0.57" style="mix-blend-mode:lighten"/><circle cx="342.1" cy="338.7" r="1.8" fill="url(#blob)" opacity="0.74" style="mix-blend-mode:lighten"/><circle cx="347.3" cy="339.6" r="2.4" fill="url(#blob)" opacity="0.40" style="mix-blend-mode:lighten"/><circle cx="352.2" cy="339.0" r="1.8" fill="url(#blob)" opacity="0.43" style="mix-blend-mode:lighten"/><circle cx="355.6" cy="338.1" r="2.2" fill="url(#blob)" opacity="0.89" style="mix-blend-mode:lighten"/><circle cx="281.9" cy="341.5" r="2.0" fill="url(#blob)" opacity="0.76" style="mix-blend-mode:lighten"/><circle cx="287.2" cy="342.3" r="1.8" fill="url(#blob)" opacity="0.54" style="mix-blend-mode:lighten"/><circle cx="291.5" cy="342.1" r="1.5" fill="url(#blob)" opacity="0.60" style="mix-blend-mode:lighten"/><circle cx="294.1" cy="342.5" r="1.6" fill="url(#blob)" opacity="0.51" style="mix-blend-mode:lighten"/><circle cx="297.9" cy="342.0" r="2.4" fill="url(#blob)" opacity="0.67" style="mix-blend-mode:lighten"/><circle cx="302.9" cy="343.2" r="1.6" fill="url(#blob)" opacity="0.56" style="mix-blend-mode:lighten"/><circle cx="308.2" cy="340.8" r="2.2" fill="url(#blob)" opacity="0.56" style="mix-blend-mode:lighten"/><circle cx="310.3" cy="341.4" r="1.9" fill="url(#blob)" opacity="0.57" style="mix-blend-mode:lighten"/><circle cx="315.8" cy="340.9" r="1.7" fill="url(#blob)" opacity="0.91" style="mix-blend-mode:lighten"/><circle cx="319.9" cy="342.0" r="1.6" fill="url(#blob)" opacity="0.51" style="mix-blend-mode:lighten"/><circle cx="325.4" cy="342.6" r="2.0" fill="url(#blob)" opacity="0.39" style="mix-blend-mode:lighten"/><circle cx="328.1" cy="342.8" r="1.9" fill="url(#blob)" opacity="0.70" style="mix-blend-mode:lighten"/><circle cx="333.6" cy="342.5" r="2.1" fill="url(#blob)" opacity="0.37" style="mix-blend-mode:lighten"/><circle cx="335.6" cy="342.8" r="1.9" fill="url(#blob)" opacity="0.86" style="mix-blend-mode:lighten"/><circle cx="341.8" cy="343.2" r="1.8" fill="url(#blob)" opacity="0.93" style="mix-blend-mode:lighten"/><circle cx="345.9" cy="343.1" r="1.6" fill="url(#blob)" opacity="0.80" style="mix-blend-mode:lighten"/><circle cx="349.2" cy="343.3" r="2.4" fill="url(#blob)" opacity="0.49" style="mix-blend-mode:lighten"/><circle cx="353.4" cy="341.5" r="1.9" fill="url(#blob)" opacity="0.51" style="mix-blend-mode:lighten"/><circle cx="280.5" cy="344.8" r="1.7" fill="url(#blob)" opacity="0.61" style="mix-blend-mode:lighten"/><circle cx="283.2" cy="345.4" r="2.3" fill="url(#blob)" opacity="0.86" style="mix-blend-mode:lighten"/><circle cx="287.7" cy="344.5" r="2.2" fill="url(#blob)" opacity="0.90" style="mix-blend-mode:lighten"/><circle cx="293.0" cy="344.8" r="1.7" fill="url(#blob)" opacity="0.89" style="mix-blend-mode:lighten"/><circle cx="298.0" cy="344.5" r="1.7" fill="url(#blob)" opacity="0.60" style="mix-blend-mode:lighten"/><circle cx="300.5" cy="346.4" r="1.8" fill="url(#blob)" opacity="0.80" style="mix-blend-mode:lighten"/><circle cx="304.4" cy="345.8" r="2.4" fill="url(#blob)" opacity="0.76" style="mix-blend-mode:lighten"/><circle cx="308.4" cy="344.7" r="2.1" fill="url(#blob)" opacity="0.57" style="mix-blend-mode:lighten"/><circle cx="313.4" cy="345.7" r="2.0" fill="url(#blob)" opacity="0.91" style="mix-blend-mode:lighten"/><circle cx="317.2" cy="345.9" r="1.7" fill="url(#blob)" opacity="0.67" style="mix-blend-mode:lighten"/><circle cx="322.7" cy="344.8" r="1.9" fill="url(#blob)" opacity="0.76" style="mix-blend-mode:lighten"/><circle cx="325.0" cy="346.5" r="1.9" fill="url(#blob)" opacity="0.64" style="mix-blend-mode:lighten"/><circle cx="330.8" cy="346.5" r="1.5" fill="url(#blob)" opacity="0.64" style="mix-blend-mode:lighten"/><circle cx="333.5" cy="345.5" r="1.8" fill="url(#blob)" opacity="0.37" style="mix-blend-mode:lighten"/><circle cx="338.4" cy="345.6" r="2.1" fill="url(#blob)" opacity="0.89" style="mix-blend-mode:lighten"/><circle cx="342.8" cy="345.8" r="2.1" fill="url(#blob)" opacity="0.89" style="mix-blend-mode:lighten"/><circle cx="348.5" cy="347.0" r="1.8" fill="url(#blob)" opacity="0.46" style="mix-blend-mode:lighten"/><circle cx="352.6" cy="344.6" r="1.9" fill="url(#blob)" opacity="0.77" style="mix-blend-mode:lighten"/><circle cx="355.8" cy="345.5" r="2.3" fill="url(#blob)" opacity="0.53" style="mix-blend-mode:lighten"/><circle cx="282.3" cy="350.3" r="1.6" fill="url(#blob)" opacity="0.56" style="mix-blend-mode:lighten"/><circle cx="286.4" cy="349.6" r="1.7" fill="url(#blob)" opacity="0.61" style="mix-blend-mode:lighten"/><circle cx="289.5" cy="348.3" r="1.8" fill="url(#blob)" opacity="0.44" style="mix-blend-mode:lighten"/><circle cx="296.0" cy="348.8" r="1.8" fill="url(#blob)" opacity="0.80" style="mix-blend-mode:lighten"/><circle cx="299.6" cy="348.8" r="2.2" fill="url(#blob)" opacity="0.71" style="mix-blend-mode:lighten"/><circle cx="302.9" cy="349.7" r="1.7" fill="url(#blob)" opacity="0.51" style="mix-blend-mode:lighten"/><circle cx="308.4" cy="349.2" r="2.3" fill="url(#blob)" opacity="0.46" style="mix-blend-mode:lighten"/><circle cx="310.7" cy="348.2" r="2.2" fill="url(#blob)" opacity="0.67" style="mix-blend-mode:lighten"/><circle cx="314.5" cy="348.2" r="2.2" fill="url(#blob)" opacity="0.64" style="mix-blend-mode:lighten"/><circle cx="321.0" cy="348.2" r="2.0" fill="url(#blob)" opacity="0.43" style="mix-blend-mode:lighten"/><circle cx="324.8" cy="349.7" r="2.1" fill="url(#blob)" opacity="0.49" style="mix-blend-mode:lighten"/><circle cx="329.6" cy="348.4" r="1.6" fill="url(#blob)" opacity="0.74" style="mix-blend-mode:lighten"/><circle cx="331.5" cy="348.3" r="1.9" fill="url(#blob)" opacity="0.73" style="mix-blend-mode:lighten"/><circle cx="337.8" cy="350.0" r="1.6" fill="url(#blob)" opacity="0.73" style="mix-blend-mode:lighten"/><circle cx="341.9" cy="348.4" r="2.2" fill="url(#blob)" opacity="0.50" style="mix-blend-mode:lighten"/><circle cx="344.7" cy="348.1" r="2.2" fill="url(#blob)" opacity="0.66" style="mix-blend-mode:lighten"/><circle cx="350.4" cy="349.3" r="1.6" fill="url(#blob)" opacity="0.49" style="mix-blend-mode:lighten"/><circle cx="353.0" cy="350.6" r="1.7" fill="url(#blob)" opacity="0.41" style="mix-blend-mode:lighten"/><circle cx="279.7" cy="352.0" r="1.9" fill="url(#blob)" opacity="0.71" style="mix-blend-mode:lighten"/><circle cx="284.7" cy="352.2" r="1.6" fill="url(#blob)" opacity="0.64" style="mix-blend-mode:lighten"/><circle cx="289.0" cy="352.9" r="2.0" fill="url(#blob)" opacity="0.87" style="mix-blend-mode:lighten"/><circle cx="291.8" cy="352.5" r="2.0" fill="url(#blob)" opacity="0.66" style="mix-blend-mode:lighten"/><circle cx="297.9" cy="353.2" r="2.1" fill="url(#blob)" opacity="0.60" style="mix-blend-mode:lighten"/><circle cx="301.8" cy="353.9" r="1.8" fill="url(#blob)" opacity="0.41" style="mix-blend-mode:lighten"/><circle cx="304.7" cy="352.7" r="2.3" fill="url(#blob)" opacity="0.51" style="mix-blend-mode:lighten"/><circle cx="309.8" cy="353.4" r="2.4" fill="url(#blob)" opacity="0.43" style="mix-blend-mode:lighten"/><circle cx="314.4" cy="352.6" r="1.6" fill="url(#blob)" opacity="0.71" style="mix-blend-mode:lighten"/><circle cx="318.8" cy="353.3" r="1.5" fill="url(#blob)" opacity="0.91" style="mix-blend-mode:lighten"/><circle cx="321.8" cy="353.4" r="2.1" fill="url(#blob)" opacity="0.50" style="mix-blend-mode:lighten"/><circle cx="326.1" cy="352.6" r="1.6" fill="url(#blob)" opacity="0.40" style="mix-blend-mode:lighten"/><circle cx="331.1" cy="352.8" r="2.3" fill="url(#blob)" opacity="0.40" style="mix-blend-mode:lighten"/><circle cx="334.2" cy="352.2" r="2.4" fill="url(#blob)" opacity="0.81" style="mix-blend-mode:lighten"/><circle cx="339.9" cy="353.1" r="1.6" fill="url(#blob)" opacity="0.60" style="mix-blend-mode:lighten"/><circle cx="342.4" cy="351.8" r="2.0" fill="url(#blob)" opacity="0.53" style="mix-blend-mode:lighten"/><circle cx="346.3" cy="353.1" r="2.3" fill="url(#blob)" opacity="0.90" style="mix-blend-mode:lighten"/><circle cx="351.4" cy="352.0" r="2.2" fill="url(#blob)" opacity="0.43" style="mix-blend-mode:lighten"/><circle cx="355.8" cy="352.0" r="2.4" fill="url(#blob)" opacity="0.67" style="mix-blend-mode:lighten"/><circle cx="282.0" cy="356.1" r="2.0" fill="url(#blob)" opacity="0.91" style="mix-blend-mode:lighten"/><circle cx="286.2" cy="356.0" r="2.0" fill="url(#blob)" opacity="0.89" style="mix-blend-mode:lighten"/><circle cx="290.3" cy="357.1" r="2.3" fill="url(#blob)" opacity="0.54" style="mix-blend-mode:lighten"/><circle cx="295.6" cy="356.8" r="1.6" fill="url(#blob)" opacity="0.39" style="mix-blend-mode:lighten"/><circle cx="300.1" cy="356.6" r="1.9" fill="url(#blob)" opacity="0.89" style="mix-blend-mode:lighten"/><circle cx="303.4" cy="356.7" r="1.8" fill="url(#blob)" opacity="0.79" style="mix-blend-mode:lighten"/><circle cx="306.8" cy="356.6" r="2.2" fill="url(#blob)" opacity="0.70" style="mix-blend-mode:lighten"/><circle cx="310.6" cy="355.9" r="2.1" fill="url(#blob)" opacity="0.77" style="mix-blend-mode:lighten"/><circle cx="314.8" cy="358.0" r="1.6" fill="url(#blob)" opacity="0.46" style="mix-blend-mode:lighten"/><circle cx="318.9" cy="356.6" r="2.1" fill="url(#blob)" opacity="0.84" style="mix-blend-mode:lighten"/><circle cx="323.3" cy="357.2" r="1.6" fill="url(#blob)" opacity="0.69" style="mix-blend-mode:lighten"/><circle cx="327.8" cy="356.3" r="1.5" fill="url(#blob)" opacity="0.77" style="mix-blend-mode:lighten"/><circle cx="331.6" cy="357.4" r="1.8" fill="url(#blob)" opacity="0.70" style="mix-blend-mode:lighten"/><circle cx="337.2" cy="356.7" r="2.3" fill="url(#blob)" opacity="0.89" style="mix-blend-mode:lighten"/><circle cx="340.4" cy="356.3" r="2.3" fill="url(#blob)" opacity="0.43" style="mix-blend-mode:lighten"/><circle cx="345.0" cy="356.5" r="2.4" fill="url(#blob)" opacity="0.43" style="mix-blend-mode:lighten"/><circle cx="349.8" cy="357.4" r="2.2" fill="url(#blob)" opacity="0.36" style="mix-blend-mode:lighten"/><circle cx="354.8" cy="356.2" r="2.3" fill="url(#blob)" opacity="0.73" style="mix-blend-mode:lighten"/><circle cx="279.9" cy="361.2" r="2.1" fill="url(#blob)" opacity="0.56" style="mix-blend-mode:lighten"/><circle cx="284.9" cy="360.4" r="2.1" fill="url(#blob)" opacity="0.71" style="mix-blend-mode:lighten"/><circle cx="289.3" cy="359.5" r="2.0" fill="url(#blob)" opacity="0.36" style="mix-blend-mode:lighten"/><circle cx="293.5" cy="361.1" r="2.2" fill="url(#blob)" opacity="0.39" style="mix-blend-mode:lighten"/><circle cx="297.0" cy="360.3" r="1.6" fill="url(#blob)" opacity="0.47" style="mix-blend-mode:lighten"/><circle cx="302.3" cy="361.3" r="1.7" fill="url(#blob)" opacity="0.83" style="mix-blend-mode:lighten"/><circle cx="305.7" cy="360.1" r="2.1" fill="url(#blob)" opacity="0.49" style="mix-blend-mode:lighten"/><circle cx="308.9" cy="359.1" r="2.1" fill="url(#blob)" opacity="0.69" style="mix-blend-mode:lighten"/><circle cx="314.3" cy="360.4" r="1.9" fill="url(#blob)" opacity="0.53" style="mix-blend-mode:lighten"/><circle cx="318.5" cy="360.0" r="2.0" fill="url(#blob)" opacity="0.79" style="mix-blend-mode:lighten"/><circle cx="322.0" cy="360.8" r="1.6" fill="url(#blob)" opacity="0.50" style="mix-blend-mode:lighten"/><circle cx="327.2" cy="359.4" r="1.5" fill="url(#blob)" opacity="0.37" style="mix-blend-mode:lighten"/><circle cx="331.2" cy="359.3" r="1.9" fill="url(#blob)" opacity="0.61" style="mix-blend-mode:lighten"/><circle cx="335.5" cy="360.3" r="2.0" fill="url(#blob)" opacity="0.37" style="mix-blend-mode:lighten"/><circle cx="339.7" cy="361.1" r="2.1" fill="url(#blob)" opacity="0.83" style="mix-blend-mode:lighten"/><circle cx="343.4" cy="360.9" r="2.3" fill="url(#blob)" opacity="0.71" style="mix-blend-mode:lighten"/><circle cx="346.1" cy="361.4" r="2.4" fill="url(#blob)" opacity="0.47" style="mix-blend-mode:lighten"/><circle cx="350.4" cy="359.9" r="1.6" fill="url(#blob)" opacity="0.57" style="mix-blend-mode:lighten"/><circle cx="354.6" cy="359.6" r="1.5" fill="url(#blob)" opacity="0.60" style="mix-blend-mode:lighten"/><circle cx="281.7" cy="364.6" r="1.8" fill="url(#blob)" opacity="0.46" style="mix-blend-mode:lighten"/><circle cx="287.6" cy="365.0" r="2.1" fill="url(#blob)" opacity="0.49" style="mix-blend-mode:lighten"/><circle cx="290.3" cy="363.9" r="1.9" fill="url(#blob)" opacity="0.37" style="mix-blend-mode:lighten"/><circle cx="294.7" cy="364.7" r="2.1" fill="url(#blob)" opacity="0.84" style="mix-blend-mode:lighten"/><circle cx="299.5" cy="364.7" r="2.3" fill="url(#blob)" opacity="0.89" style="mix-blend-mode:lighten"/><circle cx="304.0" cy="363.8" r="2.1" fill="url(#blob)" opacity="0.73" style="mix-blend-mode:lighten"/><circle cx="308.4" cy="364.6" r="1.9" fill="url(#blob)" opacity="0.47" style="mix-blend-mode:lighten"/><circle cx="311.2" cy="363.4" r="2.1" fill="url(#blob)" opacity="0.80" style="mix-blend-mode:lighten"/><circle cx="315.0" cy="364.1" r="2.2" fill="url(#blob)" opacity="0.57" style="mix-blend-mode:lighten"/><circle cx="318.9" cy="364.3" r="1.8" fill="url(#blob)" opacity="0.44" style="mix-blend-mode:lighten"/><circle cx="323.6" cy="362.7" r="1.6" fill="url(#blob)" opacity="0.60" style="mix-blend-mode:lighten"/><circle cx="327.4" cy="362.7" r="2.0" fill="url(#blob)" opacity="0.90" style="mix-blend-mode:lighten"/><circle cx="333.5" cy="363.6" r="2.3" fill="url(#blob)" opacity="0.40" style="mix-blend-mode:lighten"/><circle cx="335.9" cy="362.7" r="1.6" fill="url(#blob)" opacity="0.70" style="mix-blend-mode:lighten"/><circle cx="341.7" cy="364.0" r="2.2" fill="url(#blob)" opacity="0.61" style="mix-blend-mode:lighten"/><circle cx="346.3" cy="364.3" r="2.0" fill="url(#blob)" opacity="0.46" style="mix-blend-mode:lighten"/><circle cx="349.2" cy="363.9" r="2.2" fill="url(#blob)" opacity="0.49" style="mix-blend-mode:lighten"/><circle cx="353.1" cy="364.8" r="1.6" fill="url(#blob)" opacity="0.66" style="mix-blend-mode:lighten"/><circle cx="279.4" cy="368.1" r="2.0" fill="url(#blob)" opacity="0.41" style="mix-blend-mode:lighten"/><circle cx="284.9" cy="367.4" r="1.8" fill="url(#blob)" opacity="0.84" style="mix-blend-mode:lighten"/><circle cx="289.2" cy="367.2" r="2.1" fill="url(#blob)" opacity="0.43" style="mix-blend-mode:lighten"/><circle cx="292.7" cy="366.6" r="2.1" fill="url(#blob)" opacity="0.89" style="mix-blend-mode:lighten"/><circle cx="297.3" cy="366.5" r="2.0" fill="url(#blob)" opacity="0.63" style="mix-blend-mode:lighten"/><circle cx="301.0" cy="366.8" r="1.8" fill="url(#blob)" opacity="0.61" style="mix-blend-mode:lighten"/><circle cx="304.2" cy="368.1" r="1.7" fill="url(#blob)" opacity="0.53" style="mix-blend-mode:lighten"/><circle cx="308.4" cy="367.2" r="2.3" fill="url(#blob)" opacity="0.53" style="mix-blend-mode:lighten"/><circle cx="312.6" cy="367.3" r="2.4" fill="url(#blob)" opacity="0.41" style="mix-blend-mode:lighten"/><circle cx="317.5" cy="366.9" r="2.1" fill="url(#blob)" opacity="0.61" style="mix-blend-mode:lighten"/><circle cx="321.1" cy="368.6" r="1.8" fill="url(#blob)" opacity="0.74" style="mix-blend-mode:lighten"/><circle cx="326.2" cy="368.6" r="1.5" fill="url(#blob)" opacity="0.49" style="mix-blend-mode:lighten"/><circle cx="329.9" cy="367.1" r="2.2" fill="url(#blob)" opacity="0.64" style="mix-blend-mode:lighten"/><circle cx="334.3" cy="367.7" r="2.3" fill="url(#blob)" opacity="0.69" style="mix-blend-mode:lighten"/><circle cx="338.8" cy="368.1" r="2.1" fill="url(#blob)" opacity="0.59" style="mix-blend-mode:lighten"/><circle cx="342.9" cy="366.7" r="1.9" fill="url(#blob)" opacity="0.86" style="mix-blend-mode:lighten"/><circle cx="346.8" cy="367.3" r="2.0" fill="url(#blob)" opacity="0.70" style="mix-blend-mode:lighten"/><circle cx="350.7" cy="367.5" r="2.2" fill="url(#blob)" opacity="0.39" style="mix-blend-mode:lighten"/><circle cx="354.7" cy="368.3" r="2.3" fill="url(#blob)" opacity="0.40" style="mix-blend-mode:lighten"/><circle cx="281.1" cy="371.7" r="1.8" fill="url(#blob)" opacity="0.73" style="mix-blend-mode:lighten"/><circle cx="285.2" cy="371.2" r="1.7" fill="url(#blob)" opacity="0.54" style="mix-blend-mode:lighten"/><circle cx="291.1" cy="371.4" r="2.3" fill="url(#blob)" opacity="0.84" style="mix-blend-mode:lighten"/><circle cx="295.1" cy="372.2" r="1.7" fill="url(#blob)" opacity="0.63" style="mix-blend-mode:lighten"/><circle cx="298.5" cy="371.7" r="1.6" fill="url(#blob)" opacity="0.86" style="mix-blend-mode:lighten"/><circle cx="302.9" cy="372.1" r="2.4" fill="url(#blob)" opacity="0.90" style="mix-blend-mode:lighten"/><circle cx="307.1" cy="372.3" r="2.4" fill="url(#blob)" opacity="0.43" style="mix-blend-mode:lighten"/><circle cx="312.2" cy="371.9" r="1.9" fill="url(#blob)" opacity="0.51" style="mix-blend-mode:lighten"/><circle cx="315.0" cy="371.1" r="2.3" fill="url(#blob)" opacity="0.59" style="mix-blend-mode:lighten"/><circle cx="319.4" cy="371.6" r="1.9" fill="url(#blob)" opacity="0.71" style="mix-blend-mode:lighten"/><circle cx="324.1" cy="370.8" r="1.5" fill="url(#blob)" opacity="0.83" style="mix-blend-mode:lighten"/><circle cx="328.8" cy="370.7" r="2.0" fill="url(#blob)" opacity="0.69" style="mix-blend-mode:lighten"/><circle cx="332.6" cy="372.4" r="2.2" fill="url(#blob)" opacity="0.53" style="mix-blend-mode:lighten"/><circle cx="336.4" cy="371.6" r="1.7" fill="url(#blob)" opacity="0.89" style="mix-blend-mode:lighten"/><circle cx="339.8" cy="371.3" r="1.7" fill="url(#blob)" opacity="0.66" style="mix-blend-mode:lighten"/><circle cx="344.0" cy="370.6" r="2.4" fill="url(#blob)" opacity="0.81" style="mix-blend-mode:lighten"/><circle cx="348.7" cy="371.2" r="1.5" fill="url(#blob)" opacity="0.43" style="mix-blend-mode:lighten"/><circle cx="352.8" cy="372.6" r="1.8" fill="url(#blob)" opacity="0.50" style="mix-blend-mode:lighten"/><circle cx="279.0" cy="374.0" r="2.4" fill="url(#blob)" opacity="0.79" style="mix-blend-mode:lighten"/><circle cx="285.4" cy="375.9" r="2.2" fill="url(#blob)" opacity="0.50" style="mix-blend-mode:lighten"/><circle cx="287.6" cy="374.4" r="1.6" fill="url(#blob)" opacity="0.46" style="mix-blend-mode:lighten"/><circle cx="293.3" cy="375.0" r="1.5" fill="url(#blob)" opacity="0.53" style="mix-blend-mode:lighten"/><circle cx="297.8" cy="375.9" r="2.2" fill="url(#blob)" opacity="0.77" style="mix-blend-mode:lighten"/><circle cx="302.2" cy="375.1" r="1.8" fill="url(#blob)" opacity="0.69" style="mix-blend-mode:lighten"/><circle cx="304.7" cy="373.8" r="1.7" fill="url(#blob)" opacity="0.61" style="mix-blend-mode:lighten"/><circle cx="308.5" cy="373.9" r="1.7" fill="url(#blob)" opacity="0.57" style="mix-blend-mode:lighten"/><circle cx="314.9" cy="374.9" r="2.2" fill="url(#blob)" opacity="0.79" style="mix-blend-mode:lighten"/><circle cx="318.1" cy="374.5" r="1.9" fill="url(#blob)" opacity="0.54" style="mix-blend-mode:lighten"/><circle cx="322.4" cy="375.9" r="2.2" fill="url(#blob)" opacity="0.53" style="mix-blend-mode:lighten"/><circle cx="325.4" cy="373.7" r="2.0" fill="url(#blob)" opacity="0.49" style="mix-blend-mode:lighten"/><circle cx="329.2" cy="374.5" r="1.7" fill="url(#blob)" opacity="0.47" style="mix-blend-mode:lighten"/><circle cx="335.1" cy="375.2" r="1.8" fill="url(#blob)" opacity="0.77" style="mix-blend-mode:lighten"/><circle cx="338.1" cy="376.1" r="1.6" fill="url(#blob)" opacity="0.70" style="mix-blend-mode:lighten"/><circle cx="343.6" cy="375.6" r="1.9" fill="url(#blob)" opacity="0.86" style="mix-blend-mode:lighten"/><circle cx="347.6" cy="375.5" r="1.6" fill="url(#blob)" opacity="0.46" style="mix-blend-mode:lighten"/><circle cx="351.4" cy="375.1" r="1.6" fill="url(#blob)" opacity="0.79" style="mix-blend-mode:lighten"/><circle cx="355.3" cy="374.9" r="2.0" fill="url(#blob)" opacity="0.84" style="mix-blend-mode:lighten"/><circle cx="281.7" cy="378.8" r="2.0" fill="url(#blob)" opacity="0.73" style="mix-blend-mode:lighten"/><circle cx="285.9" cy="378.1" r="1.9" fill="url(#blob)" opacity="0.70" style="mix-blend-mode:lighten"/><circle cx="291.0" cy="377.7" r="1.9" fill="url(#blob)" opacity="0.67" style="mix-blend-mode:lighten"/><circle cx="294.0" cy="377.6" r="2.3" fill="url(#blob)" opacity="0.37" style="mix-blend-mode:lighten"/><circle cx="299.0" cy="378.1" r="1.5" fill="url(#blob)" opacity="0.51" style="mix-blend-mode:lighten"/><circle cx="302.3" cy="378.4" r="2.3" fill="url(#blob)" opacity="0.40" style="mix-blend-mode:lighten"/><circle cx="307.0" cy="379.1" r="2.1" fill="url(#blob)" opacity="0.37" style="mix-blend-mode:lighten"/><circle cx="310.9" cy="378.1" r="2.3" fill="url(#blob)" opacity="0.61" style="mix-blend-mode:lighten"/><circle cx="315.2" cy="378.6" r="1.9" fill="url(#blob)" opacity="0.44" style="mix-blend-mode:lighten"/><circle cx="320.4" cy="379.2" r="1.9" fill="url(#blob)" opacity="0.66" style="mix-blend-mode:lighten"/><circle cx="324.9" cy="379.8" r="2.1" fill="url(#blob)" opacity="0.39" style="mix-blend-mode:lighten"/><circle cx="328.4" cy="379.1" r="1.8" fill="url(#blob)" opacity="0.74" style="mix-blend-mode:lighten"/><circle cx="332.3" cy="378.9" r="2.1" fill="url(#blob)" opacity="0.74" style="mix-blend-mode:lighten"/><circle cx="337.9" cy="379.2" r="2.1" fill="url(#blob)" opacity="0.76" style="mix-blend-mode:lighten"/><circle cx="340.3" cy="378.9" r="2.1" fill="url(#blob)" opacity="0.39" style="mix-blend-mode:lighten"/><circle cx="345.9" cy="377.9" r="2.0" fill="url(#blob)" opacity="0.66" style="mix-blend-mode:lighten"/><circle cx="350.0" cy="379.3" r="1.9" fill="url(#blob)" opacity="0.90" style="mix-blend-mode:lighten"/><circle cx="353.5" cy="378.8" r="2.4" fill="url(#blob)" opacity="0.54" style="mix-blend-mode:lighten"/></g></svg>
<line x1="278" y1="357.2" x2="357.6" y2="357.2" stroke="#fff" stroke-width="1.1" opacity="0.85"/>
<line x1="278" y1="357.2" x2="357.6" y2="357.2" stroke="#000" stroke-width="1.2" stroke-dasharray="1.4 1.1199999999999999"/>
<text transform="translate(276.8,377.9) rotate(-90)" text-anchor="middle" font-size="4.6" fill="#555" font-weight="normal" font-family="Liberation Sans, sans-serif">0</text>
<text transform="translate(276.8,370.3) rotate(-90)" text-anchor="middle" font-size="4.6" fill="#555" font-weight="normal" font-family="Liberation Sans, sans-serif">0.5</text>
<text transform="translate(276.8,360.8) rotate(-90)" text-anchor="middle" font-size="4.6" fill="#555" font-weight="normal" font-family="Liberation Sans, sans-serif">1.0</text>
<text transform="translate(276.8,351.2) rotate(-90)" text-anchor="middle" font-size="4.6" fill="#555" font-weight="normal" font-family="Liberation Sans, sans-serif">1.5</text>
<text transform="translate(276.8,340.8) rotate(-90)" text-anchor="middle" font-size="4.6" fill="#555" font-weight="normal" font-family="Liberation Sans, sans-serif">2.0</text>
<text transform="translate(276.8,332.2) rotate(-90)" text-anchor="middle" font-size="4.6" fill="#555" font-weight="normal" font-family="Liberation Sans, sans-serif">2.5</text>
<text transform="translate(276.8,323.6) rotate(-90)" text-anchor="middle" font-size="4.6" fill="#555" font-weight="normal" font-family="Liberation Sans, sans-serif">3.0</text>
<text transform="translate(276.8,306.4) rotate(-90)" text-anchor="middle" font-size="4.6" fill="#555" font-weight="normal" font-style="italic" font-family="Liberation Sans, sans-serif">um</text>
<text x="278.9" y="384.7" text-anchor="middle" font-size="4.6" fill="#555" font-weight="normal" font-family="Liberation Sans, sans-serif">0</text>
<text x="286.5" y="384.7" text-anchor="middle" font-size="4.6" fill="#555" font-weight="normal" font-family="Liberation Sans, sans-serif">0.5</text>
<text x="298.5" y="384.7" text-anchor="middle" font-size="4.6" fill="#555" font-weight="normal" font-family="Liberation Sans, sans-serif">1.0</text>
<text x="308" y="384.7" text-anchor="middle" font-size="4.6" fill="#555" font-weight="normal" font-family="Liberation Sans, sans-serif">1.5</text>
<text x="318" y="384.7" text-anchor="middle" font-size="4.6" fill="#555" font-weight="normal" font-family="Liberation Sans, sans-serif">2.0</text>
<text x="327.5" y="384.7" text-anchor="middle" font-size="4.6" fill="#555" font-weight="normal" font-family="Liberation Sans, sans-serif">2.5</text>
<text x="338.2" y="384.7" text-anchor="middle" font-size="4.6" fill="#555" font-weight="normal" font-family="Liberation Sans, sans-serif">3.0</text>
<text x="350" y="384.7" text-anchor="middle" font-size="4.6" fill="#555" font-weight="normal" font-family="Liberation Sans, sans-serif">3.5</text>
<text x="357" y="384.7" text-anchor="middle" font-size="4.6" fill="#555" font-weight="normal" font-style="italic" font-family="Liberation Sans, sans-serif">um</text>
<rect x="374" y="300.3" width="2.1" height="79.1" fill="url(#cbar)" stroke="#777" stroke-width="0.6"/>
<text transform="translate(372.6,378.3) rotate(-90)" text-anchor="middle" font-size="4.6" fill="#555" font-weight="normal" font-family="Liberation Sans, sans-serif">0</text>
<text transform="translate(372.6,366.7) rotate(-90)" text-anchor="middle" font-size="4.6" fill="#555" font-weight="normal" font-family="Liberation Sans, sans-serif">20</text>
<text transform="translate(372.6,353) rotate(-90)" text-anchor="middle" font-size="4.6" fill="#555" font-weight="normal" font-family="Liberation Sans, sans-serif">40</text>
<text transform="translate(372.6,339.3) rotate(-90)" text-anchor="middle" font-size="4.6" fill="#555" font-weight="normal" font-family="Liberation Sans, sans-serif">60</text>
<text transform="translate(372.6,327.1) rotate(-90)" text-anchor="middle" font-size="4.6" fill="#555" font-weight="normal" font-family="Liberation Sans, sans-serif">80</text>
<text transform="translate(372.6,312.9) rotate(-90)" text-anchor="middle" font-size="4.6" fill="#555" font-weight="normal" font-family="Liberation Sans, sans-serif">100</text>
<text transform="translate(372.6,302.4) rotate(-90)" text-anchor="middle" font-size="4.6" fill="#555" font-weight="normal" font-style="italic" font-family="Liberation Sans, sans-serif">nm</text>
<svg x="384.6" y="299.2" width="81.6" height="81.2" viewBox="384.6 299.2 81.6 81.2" overflow="hidden"><g filter="url(#fD2)"><rect x="384.6" y="299.2" width="81.6" height="81.2" fill="#808080"/></g></svg>
<line x1="384.6" y1="357.7" x2="466.2" y2="357.7" stroke="#fff" stroke-width="1.1" opacity="0.85"/>
<line x1="384.6" y1="357.7" x2="466.2" y2="357.7" stroke="#000" stroke-width="1.2" stroke-dasharray="1.4 1.1199999999999999"/>
<text transform="translate(382.6,379) rotate(-90)" text-anchor="middle" font-size="4.6" fill="#555" font-weight="normal" font-family="Liberation Sans, sans-serif">0</text>
<text transform="translate(382.6,368.8) rotate(-90)" text-anchor="middle" font-size="4.6" fill="#555" font-weight="normal" font-family="Liberation Sans, sans-serif">0.5</text>
<text transform="translate(382.6,360.8) rotate(-90)" text-anchor="middle" font-size="4.6" fill="#555" font-weight="normal" font-family="Liberation Sans, sans-serif">1.0</text>
<text transform="translate(382.6,350.9) rotate(-90)" text-anchor="middle" font-size="4.6" fill="#555" font-weight="normal" font-family="Liberation Sans, sans-serif">1.5</text>
<text transform="translate(382.6,339.3) rotate(-90)" text-anchor="middle" font-size="4.6" fill="#555" font-weight="normal" font-family="Liberation Sans, sans-serif">2.0</text>
<text transform="translate(382.6,329.8) rotate(-90)" text-anchor="middle" font-size="4.6" fill="#555" font-weight="normal" font-family="Liberation Sans, sans-serif">2.5</text>
<text transform="translate(382.6,319.9) rotate(-90)" text-anchor="middle" font-size="4.6" fill="#555" font-weight="normal" font-family="Liberation Sans, sans-serif">3.0</text>
<text transform="translate(382.6,302.4) rotate(-90)" text-anchor="middle" font-size="4.6" fill="#555" font-weight="normal" font-style="italic" font-family="Liberation Sans, sans-serif">um</text>
<text x="385.4" y="386.4" text-anchor="middle" font-size="4.6" fill="#555" font-weight="normal" font-family="Liberation Sans, sans-serif">0</text>
<text x="393.4" y="386.4" text-anchor="middle" font-size="4.6" fill="#555" font-weight="normal" font-family="Liberation Sans, sans-serif">0.5</text>
<text x="405" y="386.4" text-anchor="middle" font-size="4.6" fill="#555" font-weight="normal" font-family="Liberation Sans, sans-serif">1.0</text>
<text x="415.6" y="386.4" text-anchor="middle" font-size="4.6" fill="#555" font-weight="normal" font-family="Liberation Sans, sans-serif">1.5</text>
<text x="426.1" y="386.4" text-anchor="middle" font-size="4.6" fill="#555" font-weight="normal" font-family="Liberation Sans, sans-serif">2.0</text>
<text x="435.6" y="386.4" text-anchor="middle" font-size="4.6" fill="#555" font-weight="normal" font-family="Liberation Sans, sans-serif">2.5</text>
<text x="447.2" y="386.4" text-anchor="middle" font-size="4.6" fill="#555" font-weight="normal" font-family="Liberation Sans, sans-serif">3.0</text>
<text x="456" y="386.4" text-anchor="middle" font-size="4.6" fill="#555" font-weight="normal" font-family="Liberation Sans, sans-serif">3.5</text>
<text x="463" y="386.4" text-anchor="middle" font-size="4.6" fill="#555" font-weight="normal" font-style="italic" font-family="Liberation Sans, sans-serif">um</text>
<rect x="24" y="109" width="183" height="129" fill="none" stroke="#808080" stroke-width="1.2"/>
<line x1="24" y1="235.3" x2="207" y2="235.3" stroke="#aaa" stroke-width="0.8"/>
<line x1="24" y1="150.3" x2="26" y2="150.3" stroke="#808080" stroke-width="0.8"/>
<line x1="24" y1="194.2" x2="26" y2="194.2" stroke="#808080" stroke-width="0.8"/>
<line x1="24" y1="128.4" x2="26" y2="128.4" stroke="#808080" stroke-width="0.8"/>
<line x1="24" y1="172.3" x2="26" y2="172.3" stroke="#808080" stroke-width="0.8"/>
<line x1="24" y1="216.2" x2="26" y2="216.2" stroke="#808080" stroke-width="0.8"/>
<line x1="205" y1="132.7" x2="207" y2="132.7" stroke="#808080" stroke-width="0.8"/>
<line x1="205" y1="158.2" x2="207" y2="158.2" stroke="#808080" stroke-width="0.8"/>
<line x1="205" y1="183.7" x2="207" y2="183.7" stroke="#808080" stroke-width="0.8"/>
<line x1="205" y1="209.2" x2="207" y2="209.2" stroke="#808080" stroke-width="0.8"/>
<line x1="55.1" y1="236" x2="55.1" y2="238" stroke="#808080" stroke-width="0.8"/>
<line x1="86.2" y1="236" x2="86.2" y2="238" stroke="#808080" stroke-width="0.8"/>
<line x1="117.3" y1="236" x2="117.3" y2="238" stroke="#808080" stroke-width="0.8"/>
<line x1="148.4" y1="236" x2="148.4" y2="238" stroke="#808080" stroke-width="0.8"/>
<line x1="179.5" y1="236" x2="179.5" y2="238" stroke="#808080" stroke-width="0.8"/>
<path d="M24.00,172.00 C24.77,171.67 27.27,170.00 28.60,170.00 C29.93,170.00 30.90,171.00 32.00,172.00 C33.10,173.00 34.20,175.83 35.20,176.00 C36.20,176.17 36.95,175.00 38.00,173.00 C39.05,171.00 40.35,166.50 41.50,164.00 C42.65,161.50 43.90,158.50 44.90,158.00 C45.90,157.50 46.73,159.00 47.50,161.00 C48.27,163.00 48.55,165.17 49.50,170.00 C50.45,174.83 51.97,183.00 53.20,190.00 C54.43,197.00 55.67,205.50 56.90,212.00 C58.13,218.50 59.58,225.28 60.60,229.00 C61.62,232.72 61.98,233.97 63.00,234.30 C64.02,234.63 65.62,234.38 66.70,231.00 C67.78,227.62 68.50,220.17 69.50,214.00 C70.50,207.83 71.62,199.33 72.70,194.00 C73.78,188.67 74.78,185.08 76.00,182.00 C77.22,178.92 78.73,177.58 80.00,175.50 C81.27,173.42 82.43,171.08 83.60,169.50 C84.77,167.92 85.93,166.83 87.00,166.00 C88.07,165.17 89.00,164.33 90.00,164.50 C91.00,164.67 92.00,165.25 93.00,167.00 C94.00,168.75 95.00,172.17 96.00,175.00 C97.00,177.83 98.03,181.75 99.00,184.00 C99.97,186.25 100.88,188.33 101.80,188.50 C102.72,188.67 103.63,187.08 104.50,185.00 C105.37,182.92 106.17,178.83 107.00,176.00 C107.83,173.17 108.47,171.12 109.50,168.00 C110.53,164.88 111.82,158.32 113.20,157.30 C114.58,156.28 116.28,160.38 117.80,161.90 C119.32,163.42 120.78,165.43 122.30,166.40 C123.82,167.37 125.38,167.85 126.90,167.70 C128.42,167.55 129.88,164.65 131.40,165.50 C132.92,166.35 134.63,170.00 136.00,172.80 C137.37,175.60 138.38,180.48 139.60,182.30 C140.82,184.12 141.93,184.22 143.30,183.70 C144.67,183.18 146.13,180.57 147.80,179.20 C149.47,177.83 151.78,175.20 153.30,175.50 C154.82,175.80 155.85,178.12 156.90,181.00 C157.95,183.88 158.70,189.00 159.60,192.80 C160.50,196.60 161.25,199.55 162.30,203.80 C163.35,208.05 164.53,214.82 165.90,218.30 C167.27,221.78 169.13,224.40 170.50,224.70 C171.87,225.00 172.88,222.68 174.10,220.10 C175.32,217.52 176.58,213.45 177.80,209.20 C179.02,204.95 180.18,199.30 181.40,194.60 C182.62,189.90 184.03,184.03 185.10,181.00 C186.17,177.97 186.75,177.47 187.80,176.40 C188.85,175.33 190.18,174.28 191.40,174.60 C192.62,174.92 193.88,177.33 195.10,178.30 C196.32,179.27 197.48,180.72 198.70,180.40 C199.92,180.08 201.33,178.43 202.40,176.40 C203.47,174.37 204.33,170.02 205.10,168.20 C205.87,166.38 206.68,165.95 207.00,165.50" fill="none" stroke="#1e1ede" stroke-width="1.6" stroke-linejoin="round" stroke-linecap="round"/>
<polyline points="24.0,189.8 26.0,186.0 28.0,176.0 30.3,163.0 31.5,168.0 33.0,166.0 35.0,178.0 37.0,190.0 38.5,197.0 39.7,203.4 41.0,203.0 42.0,205.8 43.9,216.9 45.0,190.0 46.5,138.8 47.9,114.8 48.8,127.9 50.0,168.7 51.2,225.5 53.5,232.4 56.0,232.0 59.0,233.0 62.0,232.0 64.5,234.5 69.0,223.6 71.8,209.0 73.6,198.0 75.5,191.8 78.2,193.6 81.0,191.8 84.5,191.0 87.3,191.8 89.0,201.0 91.0,192.7 92.7,183.6 94.2,178.2 95.5,183.6 97.3,191.0 101.0,193.6 104.5,200.0 107.3,198.2 110.0,198.0 112.3,197.4 115.0,195.6 116.8,191.0 118.7,183.7 120.5,178.3 121.8,177.3 123.2,182.8 124.7,191.9 126.0,201.9 126.9,208.3 128.7,204.7 130.1,201.0 132.0,203.8 134.1,211.0 136.9,212.9 138.3,212.0 139.2,161.0 140.5,157.3 141.4,160.0 142.7,169.1 143.8,191.0 144.7,220.1 146.0,209.2 148.7,207.4 150.2,200.1 152.0,192.8 153.3,193.7 154.5,203.8 156.0,218.3 157.2,225.6 158.6,236.5 160.5,235.6 163.0,234.0 166.0,233.5 169.0,234.0 171.4,235.6 173.2,234.7 175.0,233.8 176.5,229.3 177.8,220.1 178.7,209.2 179.6,192.8 180.9,176.4 182.3,174.6 183.8,183.7 185.1,198.3 186.0,218.3 186.9,205.6 189.0,204.0 191.0,205.0 193.0,204.5 195.0,203.0 197.0,204.0 199.0,204.5 201.0,203.5 203.0,204.0 205.0,203.5 207.0,204.0" fill="none" stroke="#e61a1a" stroke-width="1.0" stroke-linejoin="round" stroke-linecap="round"/>
<circle cx="24.0" cy="189.8" r="1.6" fill="#e61a1a"/>
<circle cx="26.0" cy="186.0" r="1.6" fill="#e61a1a"/>
<circle cx="28.0" cy="176.0" r="1.6" fill="#e61a1a"/>
<circle cx="30.3" cy="163.0" r="1.6" fill="#e61a1a"/>
<circle cx="31.5" cy="168.0" r="1.6" fill="#e61a1a"/>
<circle cx="33.0" cy="166.0" r="1.6" fill="#e61a1a"/>
<circle cx="35.0" cy="178.0" r="1.6" fill="#e61a1a"/>
<circle cx="37.0" cy="190.0" r="1.6" fill="#e61a1a"/>
<circle cx="38.5" cy="197.0" r="1.6" fill="#e61a1a"/>
<circle cx="39.7" cy="203.4" r="1.6" fill="#e61a1a"/>
<circle cx="41.0" cy="203.0" r="1.6" fill="#e61a1a"/>
<circle cx="42.0" cy="205.8" r="1.6" fill="#e61a1a"/>
<circle cx="43.9" cy="216.9" r="1.6" fill="#e61a1a"/>
<circle cx="45.0" cy="190.0" r="1.6" fill="#e61a1a"/>
<circle cx="46.5" cy="138.8" r="1.6" fill="#e61a1a"/>
<circle cx="47.9" cy="114.8" r="1.6" fill="#e61a1a"/>
<circle cx="48.8" cy="127.9" r="1.6" fill="#e61a1a"/>
<circle cx="50.0" cy="168.7" r="1.6" fill="#e61a1a"/>
<circle cx="51.2" cy="225.5" r="1.6" fill="#e61a1a"/>
<circle cx="53.5" cy="232.4" r="1.6" fill="#e61a1a"/>
<circle cx="56.0" cy="232.0" r="1.6" fill="#e61a1a"/>
<circle cx="59.0" cy="233.0" r="1.6" fill="#e61a1a"/>
<circle cx="62.0" cy="232.0" r="1.6" fill="#e61a1a"/>
<circle cx="64.5" cy="234.5" r="1.6" fill="#e61a1a"/>
<circle cx="66.8" cy="229.1" r="1.6" fill="#e61a1a"/>
<circle cx="69.0" cy="223.6" r="1.6" fill="#e61a1a"/>
<circle cx="71.8" cy="209.0" r="1.6" fill="#e61a1a"/>
<circle cx="73.6" cy="198.0" r="1.6" fill="#e61a1a"/>
<circle cx="75.5" cy="191.8" r="1.6" fill="#e61a1a"/>
<circle cx="78.2" cy="193.6" r="1.6" fill="#e61a1a"/>
<circle cx="81.0" cy="191.8" r="1.6" fill="#e61a1a"/>
<circle cx="82.8" cy="191.4" r="1.6" fill="#e61a1a"/>
<circle cx="84.5" cy="191.0" r="1.6" fill="#e61a1a"/>
<circle cx="87.3" cy="191.8" r="1.6" fill="#e61a1a"/>
<circle cx="89.0" cy="201.0" r="1.6" fill="#e61a1a"/>
<circle cx="91.0" cy="192.7" r="1.6" fill="#e61a1a"/>
<circle cx="92.7" cy="183.6" r="1.6" fill="#e61a1a"/>
<circle cx="94.2" cy="178.2" r="1.6" fill="#e61a1a"/>
<circle cx="95.5" cy="183.6" r="1.6" fill="#e61a1a"/>
<circle cx="97.3" cy="191.0" r="1.6" fill="#e61a1a"/>
<circle cx="99.2" cy="192.3" r="1.6" fill="#e61a1a"/>
<circle cx="101.0" cy="193.6" r="1.6" fill="#e61a1a"/>
<circle cx="102.8" cy="196.8" r="1.6" fill="#e61a1a"/>
<circle cx="104.5" cy="200.0" r="1.6" fill="#e61a1a"/>
<circle cx="107.3" cy="198.2" r="1.6" fill="#e61a1a"/>
<circle cx="110.0" cy="198.0" r="1.6" fill="#e61a1a"/>
<circle cx="112.3" cy="197.4" r="1.6" fill="#e61a1a"/>
<circle cx="115.0" cy="195.6" r="1.6" fill="#e61a1a"/>
<circle cx="116.8" cy="191.0" r="1.6" fill="#e61a1a"/>
<circle cx="118.7" cy="183.7" r="1.6" fill="#e61a1a"/>
<circle cx="120.5" cy="178.3" r="1.6" fill="#e61a1a"/>
<circle cx="121.8" cy="177.3" r="1.6" fill="#e61a1a"/>
<circle cx="123.2" cy="182.8" r="1.6" fill="#e61a1a"/>
<circle cx="124.7" cy="191.9" r="1.6" fill="#e61a1a"/>
<circle cx="126.0" cy="201.9" r="1.6" fill="#e61a1a"/>
<circle cx="126.9" cy="208.3" r="1.6" fill="#e61a1a"/>
<circle cx="128.7" cy="204.7" r="1.6" fill="#e61a1a"/>
<circle cx="130.1" cy="201.0" r="1.6" fill="#e61a1a"/>
<circle cx="132.0" cy="203.8" r="1.6" fill="#e61a1a"/>
<circle cx="134.1" cy="211.0" r="1.6" fill="#e61a1a"/>
<circle cx="136.9" cy="212.9" r="1.6" fill="#e61a1a"/>
<circle cx="138.3" cy="212.0" r="1.6" fill="#e61a1a"/>
<circle cx="139.2" cy="161.0" r="1.6" fill="#e61a1a"/>
<circle cx="140.5" cy="157.3" r="1.6" fill="#e61a1a"/>
<circle cx="141.4" cy="160.0" r="1.6" fill="#e61a1a"/>
<circle cx="142.7" cy="169.1" r="1.6" fill="#e61a1a"/>
<circle cx="143.8" cy="191.0" r="1.6" fill="#e61a1a"/>
<circle cx="144.7" cy="220.1" r="1.6" fill="#e61a1a"/>
<circle cx="146.0" cy="209.2" r="1.6" fill="#e61a1a"/>
<circle cx="148.7" cy="207.4" r="1.6" fill="#e61a1a"/>
<circle cx="150.2" cy="200.1" r="1.6" fill="#e61a1a"/>
<circle cx="152.0" cy="192.8" r="1.6" fill="#e61a1a"/>
<circle cx="153.3" cy="193.7" r="1.6" fill="#e61a1a"/>
<circle cx="154.5" cy="203.8" r="1.6" fill="#e61a1a"/>
<circle cx="156.0" cy="218.3" r="1.6" fill="#e61a1a"/>
<circle cx="157.2" cy="225.6" r="1.6" fill="#e61a1a"/>
<circle cx="158.6" cy="236.5" r="1.6" fill="#e61a1a"/>
<circle cx="160.5" cy="235.6" r="1.6" fill="#e61a1a"/>
<circle cx="163.0" cy="234.0" r="1.6" fill="#e61a1a"/>
<circle cx="166.0" cy="233.5" r="1.6" fill="#e61a1a"/>
<circle cx="169.0" cy="234.0" r="1.6" fill="#e61a1a"/>
<circle cx="171.4" cy="235.6" r="1.6" fill="#e61a1a"/>
<circle cx="173.2" cy="234.7" r="1.6" fill="#e61a1a"/>
<circle cx="175.0" cy="233.8" r="1.6" fill="#e61a1a"/>
<circle cx="176.5" cy="229.3" r="1.6" fill="#e61a1a"/>
<circle cx="177.8" cy="220.1" r="1.6" fill="#e61a1a"/>
<circle cx="178.7" cy="209.2" r="1.6" fill="#e61a1a"/>
<circle cx="179.6" cy="192.8" r="1.6" fill="#e61a1a"/>
<circle cx="180.9" cy="176.4" r="1.6" fill="#e61a1a"/>
<circle cx="182.3" cy="174.6" r="1.6" fill="#e61a1a"/>
<circle cx="183.8" cy="183.7" r="1.6" fill="#e61a1a"/>
<circle cx="185.1" cy="198.3" r="1.6" fill="#e61a1a"/>
<circle cx="186.0" cy="218.3" r="1.6" fill="#e61a1a"/>
<circle cx="186.9" cy="205.6" r="1.6" fill="#e61a1a"/>
<circle cx="189.0" cy="204.0" r="1.6" fill="#e61a1a"/>
<circle cx="191.0" cy="205.0" r="1.6" fill="#e61a1a"/>
<circle cx="193.0" cy="204.5" r="1.6" fill="#e61a1a"/>
<circle cx="195.0" cy="203.0" r="1.6" fill="#e61a1a"/>
<circle cx="197.0" cy="204.0" r="1.6" fill="#e61a1a"/>
<circle cx="199.0" cy="204.5" r="1.6" fill="#e61a1a"/>
<circle cx="201.0" cy="203.5" r="1.6" fill="#e61a1a"/>
<circle cx="203.0" cy="204.0" r="1.6" fill="#e61a1a"/>
<circle cx="205.0" cy="203.5" r="1.6" fill="#e61a1a"/>
<circle cx="207.0" cy="204.0" r="1.6" fill="#e61a1a"/>
<text x="20.7" y="240.1" text-anchor="end" font-size="7.3" fill="#111" font-weight="bold" font-family="Liberation Sans, sans-serif">0</text>
<text x="20.7" y="196.8" text-anchor="end" font-size="7.3" fill="#111" font-weight="bold" font-family="Liberation Sans, sans-serif">20</text>
<text x="20.7" y="152.9" text-anchor="end" font-size="7.3" fill="#111" font-weight="bold" font-family="Liberation Sans, sans-serif">40</text>
<text transform="translate(9.9,175) rotate(-90)" text-anchor="middle" font-size="8" fill="#111" font-weight="bold" font-family="Liberation Sans, sans-serif">h (nm)</text>
<text x="24" y="247.2" text-anchor="middle" font-size="7.3" fill="#111" font-weight="bold" font-family="Liberation Sans, sans-serif">0</text>
<text x="86.2" y="247.2" text-anchor="middle" font-size="7.3" fill="#111" font-weight="bold" font-family="Liberation Sans, sans-serif">2</text>
<text x="148.4" y="247.2" text-anchor="middle" font-size="7.3" fill="#111" font-weight="bold" font-family="Liberation Sans, sans-serif">4</text>
<text x="115.7" y="260.2" text-anchor="middle" font-size="8" fill="#111" font-weight="bold" font-family="Liberation Sans, sans-serif">X <tspan font-weight="normal">(μm)</tspan></text>
<text x="209.8" y="236.9" text-anchor="start" font-size="7.8" fill="#111" font-weight="bold" font-family="Liberation Sans, sans-serif">0.0</text>
<text x="209.8" y="185.8" text-anchor="start" font-size="7.8" fill="#111" font-weight="bold" font-family="Liberation Sans, sans-serif">0.2</text>
<text x="209.8" y="133.7" text-anchor="start" font-size="7.8" fill="#111" font-weight="bold" font-family="Liberation Sans, sans-serif">0.4</text>
<text transform="translate(230.6,162.8) rotate(-90)" text-anchor="middle" font-size="8.2" fill="#111" font-weight="bold" font-family="Liberation Sans, sans-serif">I (pA)</text>
<text x="101.1" y="130.5" text-anchor="start" font-size="8.2" fill="#111" font-weight="bold" textLength="30.1" lengthAdjust="spacingAndGlyphs" font-family="Liberation Sans, sans-serif">PVP 0%</text>
<line x1="60.4" y1="149.3" x2="77.4" y2="149.3" stroke="#1e1ede" stroke-width="1.8"/>
<text x="79.2" y="152" text-anchor="start" font-size="7.5" fill="#111" font-weight="bold" font-family="Liberation Sans, sans-serif">h</text>
<line x1="57" y1="157.4" x2="80.1" y2="157.4" stroke="#1e1ede" stroke-width="0.9"/>
<polygon points="57,157.4 60.5,155.8 60.5,159.0" fill="#1e1ede"/>
<line x1="164.1" y1="147.8" x2="181.4" y2="147.8" stroke="#d83040" stroke-width="1.5"/>
<circle cx="173.2" cy="147.8" r="1.7" fill="#e61a1a"/>
<text x="183.9" y="150.2" text-anchor="start" font-size="7.6" fill="#000" font-weight="bold" textLength="10.8" lengthAdjust="spacingAndGlyphs" font-family="Liberation Sans, sans-serif">IpA</text>
<line x1="164.6" y1="155.1" x2="197.9" y2="155.1" stroke="#d04050" stroke-width="1.1"/>
<polygon points="197.9,155.1 194.4,153.5 194.4,156.7" fill="#d04050"/>
<text x="119" y="285.7" text-anchor="middle" font-size="12.5" fill="#111" font-weight="bold" font-family="Liberation Serif, serif">(a)</text>
<rect x="276.4" y="111.5" width="191.40000000000003" height="128.7" fill="none" stroke="#808080" stroke-width="1.2"/>
<line x1="277" y1="125" x2="467.2" y2="125" stroke="#d4d4d4" stroke-width="0.9"/>
<line x1="277" y1="152.9" x2="467.2" y2="152.9" stroke="#d4d4d4" stroke-width="0.9"/>
<line x1="277" y1="180.5" x2="467.2" y2="180.5" stroke="#d4d4d4" stroke-width="0.9"/>
<line x1="277" y1="208.2" x2="467.2" y2="208.2" stroke="#d4d4d4" stroke-width="0.9"/>
<line x1="274" y1="139" x2="276.4" y2="139" stroke="#808080" stroke-width="0.8"/>
<line x1="274" y1="166.6" x2="276.4" y2="166.6" stroke="#808080" stroke-width="0.8"/>
<line x1="274" y1="194.3" x2="276.4" y2="194.3" stroke="#808080" stroke-width="0.8"/>
<line x1="274" y1="221.9" x2="276.4" y2="221.9" stroke="#808080" stroke-width="0.8"/>
<line x1="274" y1="235.6" x2="276.4" y2="235.6" stroke="#808080" stroke-width="0.8"/>
<line x1="273" y1="125" x2="276.4" y2="125" stroke="#808080" stroke-width="0.8"/>
<line x1="273" y1="152.9" x2="276.4" y2="152.9" stroke="#808080" stroke-width="0.8"/>
<line x1="273" y1="180.5" x2="276.4" y2="180.5" stroke="#808080" stroke-width="0.8"/>
<line x1="273" y1="208.2" x2="276.4" y2="208.2" stroke="#808080" stroke-width="0.8"/>
<line x1="276.4" y1="240.2" x2="276.4" y2="243" stroke="#808080" stroke-width="0.8"/>
<line x1="324.3" y1="240.2" x2="324.3" y2="243" stroke="#808080" stroke-width="0.8"/>
<line x1="372.1" y1="240.2" x2="372.1" y2="243" stroke="#808080" stroke-width="0.8"/>
<line x1="420" y1="240.2" x2="420" y2="243" stroke="#808080" stroke-width="0.8"/>
<line x1="467.8" y1="240.2" x2="467.8" y2="243" stroke="#808080" stroke-width="0.8"/>
<line x1="467.8" y1="128.4" x2="470.5" y2="128.4" stroke="#808080" stroke-width="0.8"/>
<line x1="467.8" y1="149.9" x2="470.5" y2="149.9" stroke="#808080" stroke-width="0.8"/>
<line x1="467.8" y1="171.3" x2="470.5" y2="171.3" stroke="#808080" stroke-width="0.8"/>
<line x1="467.8" y1="192.8" x2="470.5" y2="192.8" stroke="#808080" stroke-width="0.8"/>
<line x1="467.8" y1="214.2" x2="470.5" y2="214.2" stroke="#808080" stroke-width="0.8"/>
<line x1="467.8" y1="235.6" x2="470.5" y2="235.6" stroke="#808080" stroke-width="0.8"/>
<polyline points="276.6,221.4 277.5,215.2 278.5,209.8 279.5,207.5 280.5,206.7 281.5,205.2 282.5,201.3 283.5,200.5 284.5,199.8 285.0,194.4 286.0,187.4 287.0,186.6 288.0,190.5 288.5,192.8 289.5,196.7 290.5,201.3 291.5,204.4 292.5,190.5 293.5,178.1 294.5,180.5 295.0,185.9 295.5,187.4 296.0,181.2 297.0,170.4 298.0,164.3 299.0,161.9 300.0,161.2 301.0,161.5 302.0,161.9 303.0,164.3 304.0,168.9 305.0,173.5 305.5,175.8 306.5,174.3 307.5,179.7 308.0,182.8 308.5,187.4 309.5,189.0 310.0,182.0 311.0,181.2 312.0,185.9 313.0,192.0 314.0,194.4 314.5,196.7 315.5,195.9 316.5,201.3 317.5,207.5 318.5,212.1 319.5,214.4 320.5,216.0 321.5,218.3 322.5,219.8 323.5,222.9 324.5,225.2 326.5,230.4 327.5,223.4 328.5,220.9 329.5,222.2 330.5,223.4 331.5,220.9 333.0,220.3 334.0,221.5 335.0,220.3 336.5,218.3 338.0,216.4 339.5,215.2 340.5,213.9 342.0,215.2 343.0,217.7 344.0,213.9 345.0,209.4 346.5,205.6 348.0,202.4 349.5,201.2 351.0,203.1 352.0,206.9 353.0,213.3 354.0,205.6 355.0,200.5 356.0,201.8 357.0,204.4 358.0,201.2 359.0,196.7 360.0,194.8 361.0,193.5 362.0,191.0 363.0,182.7 364.0,172.5 365.0,159.4 366.0,148.5 367.0,140.8 368.0,137.7 369.5,138.5 371.0,137.4 372.5,137.7 373.5,142.4 374.5,150.1 375.5,153.2 376.5,147.0 377.5,141.6 378.5,143.9 379.5,150.1 380.5,151.6 381.5,147.0 382.5,143.1 383.5,143.9 384.5,145.5 385.5,148.5 386.5,151.6 387.0,148.5 388.0,153.2 389.0,157.0 389.5,164.8 390.5,151.6 391.5,149.3 392.5,155.5 393.5,162.5 394.5,158.6 395.5,158.6 396.5,163.2 397.5,166.3 398.5,167.1 399.5,171.7 400.5,169.4 401.0,167.1 402.0,176.4 402.5,188.7 403.0,201.1 404.0,204.2 405.0,198.0 406.0,191.8 406.5,187.2 407.5,191.8 408.5,194.9 409.5,188.7 410.0,182.6 411.0,181.0 412.0,185.6 412.5,190.3 413.5,185.6 414.5,184.1 416.0,183.3 417.5,183.3 419.0,179.5 420.0,180.0 421.0,177.0 422.5,173.1 423.5,174.7 424.5,180.8 426.0,187.8 427.5,185.5 429.0,183.1 430.0,183.9 431.0,183.1 432.0,187.0 433.5,193.2 434.5,195.5 435.5,201.7 436.5,209.4 437.5,215.6 438.5,224.8 439.5,231.0 440.5,226.4 441.5,224.0 442.5,227.9 443.5,234.1 444.5,236.4 445.5,231.0 446.5,224.8 447.5,219.4 448.5,218.6 449.5,220.2 450.5,221.0 451.0,221.7 451.5,231.0 452.5,240.2 453.5,224.8 454.0,210.9 455.0,204.0 456.0,201.7 457.0,200.4 458.0,197.8 459.0,197.0 460.0,198.6 461.0,200.9 462.0,206.3 463.0,193.2 464.5,190.9 466.0,188.5 467.0,181.6 467.5,175.4" fill="none" stroke="#1e1ede" stroke-width="2.0" stroke-linejoin="round" stroke-linecap="round"/>
<polyline points="277.0,231.9 277.8,231.2 278.6,233.0 279.4,231.0 280.2,232.6 281.0,232.0 281.8,230.9 282.6,232.5 283.4,230.8 284.2,232.3 285.0,231.0 285.8,226.3 286.6,232.2 287.4,233.7 288.2,231.1 289.0,231.5 289.8,233.0 290.6,234.1 291.4,232.8 292.6,116.5 293.0,232.0 293.6,231.1 294.4,233.2 295.2,229.9 296.0,232.8 296.8,230.7 297.6,230.2 298.4,230.1 299.2,230.8 300.0,232.6 300.8,230.4 301.6,231.8 302.4,232.0 303.2,231.0 304.0,231.7 304.8,229.9 305.6,229.9 306.4,230.4 307.2,232.1 308.0,231.2 308.8,230.8 309.6,227.0 310.4,225.4 311.2,223.6 312.0,229.5 312.8,213.0 313.6,222.9 314.4,226.9 315.2,226.3 316.0,215.0 316.8,228.8 317.6,223.5 318.4,231.8 319.2,214.0 320.0,225.0 320.8,229.1 321.6,216.0 322.4,225.9 323.2,220.5 324.0,228.0 324.8,229.2 325.6,226.9 326.6,234.2 327.4,232.7 328.2,233.7 329.0,233.4 329.8,233.4 330.6,233.1 331.4,234.1 332.2,234.4 333.0,233.1 333.8,233.6 334.6,232.1 335.4,233.7 336.2,233.6 337.0,234.5 337.8,234.0 338.6,232.6 339.4,232.9 340.2,233.6 341.0,232.0 341.8,233.1 342.6,232.3 343.4,232.2 344.2,232.1 345.0,233.9 345.8,232.2 346.6,232.5 347.4,232.9 348.2,234.2 349.0,232.1 349.8,233.1 350.6,233.3 351.4,234.2 352.2,234.0 353.0,234.1 353.8,232.6 354.6,233.0 355.4,232.8 356.2,234.2 357.0,234.4 357.7,174.5 358.2,230.0 358.8,227.0 359.6,227.2 360.4,227.5 361.2,227.5 362.0,221.0 362.8,229.5 363.6,227.7 364.4,226.2 365.2,228.5 366.0,219.0 366.8,229.4 367.6,231.5 368.4,230.1 369.2,229.1 370.0,229.7 370.8,222.0 371.6,226.5 372.4,231.2 373.2,230.6 374.0,231.1 374.8,230.7 375.6,220.0 376.4,228.4 377.2,226.8 378.0,229.8 378.8,226.5 379.6,226.6 380.4,227.4 381.2,223.0 382.0,228.1 382.8,226.5 383.6,226.2 384.4,227.0 385.2,226.8 386.0,228.2 386.8,226.3 387.6,210.4 388.4,229.6 389.2,227.0 390.0,227.6 390.8,228.1 391.6,221.0 392.4,226.9 393.2,231.0 394.0,231.8 394.8,228.8 395.6,219.0 396.4,226.7 397.2,226.8 398.0,228.1 398.8,227.7 399.6,230.8 400.4,227.1 401.2,226.3 402.0,155.0 402.5,229.0 403.0,230.6 403.8,227.2 404.6,224.2 405.4,227.3 406.2,223.2 407.0,220.0 407.8,230.8 408.6,229.9 409.4,228.6 410.2,218.0 411.0,225.9 411.8,224.3 412.6,217.0 413.4,227.3 414.2,229.2 415.0,225.6 415.8,221.0 416.6,229.5 417.4,230.9 418.2,216.3 419.0,229.4 419.8,229.5 420.6,218.0 421.4,224.8 422.2,227.1 423.0,225.8 423.8,216.0 424.6,223.2 425.4,225.2 426.2,219.0 427.0,228.5 427.8,230.7 428.6,220.0 429.4,230.5 430.2,230.9 431.0,230.6 431.8,217.5 432.6,224.8 433.4,224.8 434.2,224.6 435.6,232.3 436.4,233.3 437.2,234.0 438.0,233.8 438.8,233.0 439.6,233.4 440.4,233.7 441.2,232.0 442.0,233.4 442.8,234.0 443.6,233.7 444.4,233.6 445.2,232.9 446.0,232.2 446.8,233.7 447.6,232.6 448.4,233.7 449.2,234.1 450.0,232.8 450.8,232.8 451.6,234.1 452.4,233.5 453.2,232.2 454.0,232.1 454.8,232.2 455.6,234.0 456.4,233.7 457.2,232.2 458.0,233.8 458.8,234.2 459.6,233.4 460.4,232.6 461.2,233.1 462.2,133.6 462.7,231.0 463.3,228.5 464.1,228.1 464.9,231.9 465.7,220.0 466.5,230.1 467.3,231.7" fill="none" stroke="#e61a1a" stroke-width="1.4" stroke-linejoin="round" stroke-linecap="round"/>
<text x="271.5" y="238.7" text-anchor="end" font-size="8.4" fill="#111" font-weight="bold" font-family="Liberation Sans, sans-serif">0</text>
<text x="271.5" y="211.29999999999998" text-anchor="end" font-size="8.4" fill="#111" font-weight="bold" font-family="Liberation Sans, sans-serif">10</text>
<text x="271.5" y="183.6" text-anchor="end" font-size="8.4" fill="#111" font-weight="bold" font-family="Liberation Sans, sans-serif">20</text>
<text x="271.5" y="156.0" text-anchor="end" font-size="8.4" fill="#111" font-weight="bold" font-family="Liberation Sans, sans-serif">30</text>
<text x="271.5" y="128.1" text-anchor="end" font-size="8.4" fill="#111" font-weight="bold" font-family="Liberation Sans, sans-serif">40</text>
<text transform="translate(257.6,175.6) rotate(-90)" text-anchor="middle" font-size="8.8" fill="#111" font-weight="bold" font-family="Liberation Sans, sans-serif">h (nm)</text>
<text x="276.4" y="251.8" text-anchor="middle" font-size="8.4" fill="#111" font-weight="bold" font-family="Liberation Sans, sans-serif">0</text>
<text x="324.3" y="251.8" text-anchor="middle" font-size="8.4" fill="#111" font-weight="bold" font-family="Liberation Sans, sans-serif">2</text>
<text x="372.1" y="251.8" text-anchor="middle" font-size="8.4" fill="#111" font-weight="bold" font-family="Liberation Sans, sans-serif">4</text>
<text x="420" y="251.8" text-anchor="middle" font-size="8.4" fill="#111" font-weight="bold" font-family="Liberation Sans, sans-serif">6</text>
<text x="467.8" y="251.8" text-anchor="middle" font-size="8.4" fill="#111" font-weight="bold" font-family="Liberation Sans, sans-serif">8</text>
<text x="391.5" y="259.8" text-anchor="middle" font-size="8.8" fill="#111" font-weight="bold" font-family="Liberation Sans, sans-serif">X <tspan font-weight="normal">(μm)</tspan></text>
<text x="472.5" y="238.7" text-anchor="start" font-size="8.4" fill="#e01818" font-weight="bold" font-family="Liberation Sans, sans-serif">0</text>
<text x="472.5" y="195.9" text-anchor="start" font-size="8.4" fill="#e01818" font-weight="bold" font-family="Liberation Sans, sans-serif">1</text>
<text x="472.5" y="153.0" text-anchor="start" font-size="8.4" fill="#e01818" font-weight="bold" font-family="Liberation Sans, sans-serif">2</text>
<text transform="translate(486.3,168.4) rotate(-90)" text-anchor="middle" font-size="8.8" fill="#e01818" font-weight="bold" font-family="Liberation Sans, sans-serif">I (pA)</text>
<text x="356.4" y="122.2" text-anchor="start" font-size="8.0" fill="#111" font-weight="bold" textLength="37.1" lengthAdjust="spacingAndGlyphs" font-family="Liberation Sans, sans-serif">1 % PVP</text>
<line x1="310.6" y1="138.4" x2="329.4" y2="138.4" stroke="#1e1ede" stroke-width="1.5"/>
<text x="330.6" y="141.1" text-anchor="start" font-size="9" fill="#111" font-weight="bold" font-family="Liberation Sans, sans-serif">h</text>
<line x1="307.6" y1="144.3" x2="340" y2="144.3" stroke="#1e1ede" stroke-width="0.9"/>
<polygon points="307.6,144.3 311.1,142.70000000000002 311.1,145.9" fill="#1e1ede"/>
<line x1="425.5" y1="140.3" x2="443" y2="140.3" stroke="#d42030" stroke-width="1.1"/>
<circle cx="434.5" cy="140.3" r="0.9" fill="#d42030"/>
<text x="445.6" y="142.4" text-anchor="start" font-size="8.8" fill="#111" font-weight="bold" font-family="Liberation Sans, sans-serif">I</text>
<line x1="419.6" y1="146.2" x2="457.3" y2="146.2" stroke="#d42030" stroke-width="0.9"/>
<polygon points="457.3,146.2 453.8,144.6 453.8,147.79999999999998" fill="#d42030"/>
<text x="370.8" y="285.7" text-anchor="middle" font-size="12.5" fill="#111" font-weight="bold" font-family="Liberation Serif, serif">(b)</text>
<rect x="37.8" y="387.4" width="159.8" height="114.90000000000003" fill="none" stroke="#686868" stroke-width="1.1"/>
<line x1="38" y1="500.6" x2="197" y2="500.6" stroke="#aaa" stroke-width="0.7"/>
<line x1="38" y1="463.4" x2="197" y2="463.4" stroke="#e06a6a" stroke-width="0.8" stroke-dasharray="1.6 1.2"/>
<line x1="37.8" y1="413.1" x2="39.8" y2="413.1" stroke="#808080" stroke-width="0.8"/>
<line x1="37.8" y1="442.3" x2="39.8" y2="442.3" stroke="#808080" stroke-width="0.8"/>
<line x1="37.8" y1="471.7" x2="39.8" y2="471.7" stroke="#808080" stroke-width="0.8"/>
<line x1="37.8" y1="500.6" x2="39.8" y2="500.6" stroke="#808080" stroke-width="0.8"/>
<line x1="37.8" y1="398.5" x2="39.8" y2="398.5" stroke="#808080" stroke-width="0.8"/>
<line x1="37.8" y1="427.7" x2="39.8" y2="427.7" stroke="#808080" stroke-width="0.8"/>
<line x1="37.8" y1="457" x2="39.8" y2="457" stroke="#808080" stroke-width="0.8"/>
<line x1="37.8" y1="486.2" x2="39.8" y2="486.2" stroke="#808080" stroke-width="0.8"/>
<line x1="195.2" y1="403.8" x2="197.2" y2="403.8" stroke="#808080" stroke-width="0.8"/>
<line x1="195.2" y1="428.1" x2="197.2" y2="428.1" stroke="#808080" stroke-width="0.8"/>
<line x1="195.2" y1="452.4" x2="197.2" y2="452.4" stroke="#808080" stroke-width="0.8"/>
<line x1="195.2" y1="476.4" x2="197.2" y2="476.4" stroke="#808080" stroke-width="0.8"/>
<line x1="195.2" y1="500.7" x2="197.2" y2="500.7" stroke="#808080" stroke-width="0.8"/>
<line x1="40.2" y1="500.3" x2="40.2" y2="502.3" stroke="#808080" stroke-width="0.8"/>
<line x1="71" y1="500.3" x2="71" y2="502.3" stroke="#808080" stroke-width="0.8"/>
<line x1="101.8" y1="500.3" x2="101.8" y2="502.3" stroke="#808080" stroke-width="0.8"/>
<line x1="132.7" y1="500.3" x2="132.7" y2="502.3" stroke="#808080" stroke-width="0.8"/>
<line x1="163.5" y1="500.3" x2="163.5" y2="502.3" stroke="#808080" stroke-width="0.8"/>
<line x1="194.3" y1="500.3" x2="194.3" y2="502.3" stroke="#808080" stroke-width="0.8"/>
<path d="M38.20,474.50 C38.58,474.87 39.58,476.52 40.50,476.70 C41.42,476.88 42.43,476.15 43.70,475.60 C44.97,475.05 46.63,474.13 48.10,473.40 C49.57,472.67 51.05,471.82 52.50,471.20 C53.95,470.58 55.35,470.32 56.80,469.70 C58.25,469.08 59.73,468.33 61.20,467.50 C62.67,466.67 64.15,465.53 65.60,464.70 C67.05,463.87 68.63,462.78 69.90,462.50 C71.17,462.22 72.10,462.45 73.20,463.00 C74.30,463.55 75.40,464.55 76.50,465.80 C77.60,467.05 78.85,468.68 79.80,470.50 C80.75,472.32 81.43,474.40 82.20,476.70 C82.97,479.00 83.50,481.57 84.40,484.30 C85.30,487.03 86.52,490.92 87.60,493.10 C88.68,495.28 89.98,496.85 90.90,497.40 C91.82,497.95 92.37,497.12 93.10,496.40 C93.83,495.68 94.57,494.93 95.30,493.10 C96.03,491.27 96.77,488.13 97.50,485.40 C98.23,482.67 98.98,479.07 99.70,476.70 C100.42,474.33 100.90,472.65 101.80,471.20 C102.70,469.75 104.00,468.62 105.10,468.00 C106.20,467.38 107.30,467.13 108.40,467.50 C109.50,467.87 110.62,468.85 111.70,470.20 C112.78,471.55 113.82,473.97 114.90,475.60 C115.98,477.23 117.10,478.90 118.20,480.00 C119.30,481.10 120.58,481.12 121.50,482.20 C122.42,483.28 122.97,484.70 123.70,486.50 C124.43,488.30 125.13,491.18 125.90,493.00 C126.67,494.82 127.53,496.30 128.30,497.40 C129.07,498.50 129.78,499.77 130.50,499.60 C131.22,499.43 131.88,498.40 132.60,496.40 C133.32,494.40 134.07,490.88 134.80,487.60 C135.53,484.32 136.27,479.78 137.00,476.70 C137.73,473.62 138.47,471.00 139.20,469.10 C139.93,467.20 140.67,466.03 141.40,465.30 C142.13,464.57 142.70,464.43 143.60,464.70 C144.50,464.97 145.53,465.98 146.80,466.90 C148.07,467.82 149.73,469.30 151.20,470.20 C152.67,471.10 154.15,471.40 155.60,472.30 C157.05,473.20 158.45,474.80 159.90,475.60 C161.35,476.40 162.90,476.45 164.30,477.10 C165.70,477.75 167.08,478.52 168.30,479.50 C169.52,480.48 170.52,481.83 171.60,483.00 C172.68,484.17 173.78,485.33 174.80,486.50 C175.82,487.67 176.85,489.17 177.70,490.00 C178.55,490.83 179.18,491.88 179.90,491.50 C180.62,491.12 181.20,489.42 182.00,487.70 C182.80,485.98 183.70,483.38 184.70,481.20 C185.70,479.02 186.92,476.60 188.00,474.60 C189.08,472.60 190.12,470.73 191.20,469.20 C192.28,467.67 193.95,466.03 194.50,465.40" fill="none" stroke="#1e1ede" stroke-width="1.9" stroke-linejoin="round" stroke-linecap="round"/>
<polyline points="39.8,429.8 41.6,430.9 43.3,434.1 44.4,437.4 45.5,444.0 46.4,452.7 47.7,457.0 49.2,460.3 50.7,456.0 52.5,457.0 54.2,460.3 55.7,462.5 57.9,464.7 60.1,461.0 62.3,461.4 64.5,465.8 66.7,461.4 68.8,456.0 71.0,454.9 73.2,447.2 75.0,447.2 76.5,444.0 78.0,449.4 79.8,446.1 80.9,437.4 81.5,427.6 82.6,419.9 84.4,419.5 86.6,422.1 88.3,429.8 89.8,441.8 90.9,452.7 92.7,454.4 94.8,452.2 95.7,465.8 97.0,476.7 98.1,485.4 99.2,490.9 100.7,484.3 101.8,475.6 102.9,466.9 104.0,460.3 105.8,459.2 106.6,451.6 107.9,445.0 109.5,444.0 110.6,443.5 111.9,450.5 113.2,450.5 114.3,427.6 116.0,425.4 117.6,427.6 118.9,430.9 120.0,440.7 121.5,441.3 123.0,437.4 124.3,417.8 125.4,398.1 126.5,393.0 127.2,391.6 128.3,394.8 129.4,415.6 130.5,433.0 131.6,450.5 132.6,463.6 133.7,475.6 134.8,487.6 136.4,495.3 137.4,489.8 138.5,481.1 139.6,469.1 140.7,460.3 142.0,452.7 143.6,447.2 145.1,442.9 146.8,438.5 148.6,437.4 150.1,435.2 151.6,440.7 153.4,442.9 155.1,436.3 156.7,429.8 158.2,425.4 159.9,427.6 161.7,430.9 163.2,437.4 164.7,441.8 166.0,446.8 167.6,446.6 169.3,446.6 170.9,440.7 172.7,435.3 174.2,427.6 175.5,421.1 177.0,420.0 177.7,417.3 179.2,423.3 180.7,433.1 182.0,452.8 183.1,459.3 184.2,467.0 185.8,462.6 187.3,457.1 188.6,451.7 190.1,451.7 191.7,449.5 193.0,444.0 194.5,437.9" fill="none" stroke="#e61a1a" stroke-width="1.0" stroke-linejoin="round" stroke-linecap="round"/>
<circle cx="39.8" cy="429.8" r="1.6" fill="#e61a1a"/>
<circle cx="41.6" cy="430.9" r="1.6" fill="#e61a1a"/>
<circle cx="43.3" cy="434.1" r="1.6" fill="#e61a1a"/>
<circle cx="44.4" cy="437.4" r="1.6" fill="#e61a1a"/>
<circle cx="45.5" cy="444.0" r="1.6" fill="#e61a1a"/>
<circle cx="46.4" cy="452.7" r="1.6" fill="#e61a1a"/>
<circle cx="47.7" cy="457.0" r="1.6" fill="#e61a1a"/>
<circle cx="49.2" cy="460.3" r="1.6" fill="#e61a1a"/>
<circle cx="50.7" cy="456.0" r="1.6" fill="#e61a1a"/>
<circle cx="52.5" cy="457.0" r="1.6" fill="#e61a1a"/>
<circle cx="54.2" cy="460.3" r="1.6" fill="#e61a1a"/>
<circle cx="55.7" cy="462.5" r="1.6" fill="#e61a1a"/>
<circle cx="57.9" cy="464.7" r="1.6" fill="#e61a1a"/>
<circle cx="60.1" cy="461.0" r="1.6" fill="#e61a1a"/>
<circle cx="62.3" cy="461.4" r="1.6" fill="#e61a1a"/>
<circle cx="64.5" cy="465.8" r="1.6" fill="#e61a1a"/>
<circle cx="66.7" cy="461.4" r="1.6" fill="#e61a1a"/>
<circle cx="68.8" cy="456.0" r="1.6" fill="#e61a1a"/>
<circle cx="71.0" cy="454.9" r="1.6" fill="#e61a1a"/>
<circle cx="73.2" cy="447.2" r="1.6" fill="#e61a1a"/>
<circle cx="75.0" cy="447.2" r="1.6" fill="#e61a1a"/>
<circle cx="76.5" cy="444.0" r="1.6" fill="#e61a1a"/>
<circle cx="78.0" cy="449.4" r="1.6" fill="#e61a1a"/>
<circle cx="79.8" cy="446.1" r="1.6" fill="#e61a1a"/>
<circle cx="80.9" cy="437.4" r="1.6" fill="#e61a1a"/>
<circle cx="81.5" cy="427.6" r="1.6" fill="#e61a1a"/>
<circle cx="82.6" cy="419.9" r="1.6" fill="#e61a1a"/>
<circle cx="84.4" cy="419.5" r="1.6" fill="#e61a1a"/>
<circle cx="86.6" cy="422.1" r="1.6" fill="#e61a1a"/>
<circle cx="88.3" cy="429.8" r="1.6" fill="#e61a1a"/>
<circle cx="89.8" cy="441.8" r="1.6" fill="#e61a1a"/>
<circle cx="90.9" cy="452.7" r="1.6" fill="#e61a1a"/>
<circle cx="92.7" cy="454.4" r="1.6" fill="#e61a1a"/>
<circle cx="94.8" cy="452.2" r="1.6" fill="#e61a1a"/>
<circle cx="95.7" cy="465.8" r="1.6" fill="#e61a1a"/>
<circle cx="97.0" cy="476.7" r="1.6" fill="#e61a1a"/>
<circle cx="98.1" cy="485.4" r="1.6" fill="#e61a1a"/>
<circle cx="99.2" cy="490.9" r="1.6" fill="#e61a1a"/>
<circle cx="100.7" cy="484.3" r="1.6" fill="#e61a1a"/>
<circle cx="101.8" cy="475.6" r="1.6" fill="#e61a1a"/>
<circle cx="102.9" cy="466.9" r="1.6" fill="#e61a1a"/>
<circle cx="104.0" cy="460.3" r="1.6" fill="#e61a1a"/>
<circle cx="105.8" cy="459.2" r="1.6" fill="#e61a1a"/>
<circle cx="106.6" cy="451.6" r="1.6" fill="#e61a1a"/>
<circle cx="107.9" cy="445.0" r="1.6" fill="#e61a1a"/>
<circle cx="109.5" cy="444.0" r="1.6" fill="#e61a1a"/>
<circle cx="110.6" cy="443.5" r="1.6" fill="#e61a1a"/>
<circle cx="111.9" cy="450.5" r="1.6" fill="#e61a1a"/>
<circle cx="113.2" cy="450.5" r="1.6" fill="#e61a1a"/>
<circle cx="114.3" cy="427.6" r="1.6" fill="#e61a1a"/>
<circle cx="116.0" cy="425.4" r="1.6" fill="#e61a1a"/>
<circle cx="117.6" cy="427.6" r="1.6" fill="#e61a1a"/>
<circle cx="118.9" cy="430.9" r="1.6" fill="#e61a1a"/>
<circle cx="120.0" cy="440.7" r="1.6" fill="#e61a1a"/>
<circle cx="121.5" cy="441.3" r="1.6" fill="#e61a1a"/>
<circle cx="123.0" cy="437.4" r="1.6" fill="#e61a1a"/>
<circle cx="124.3" cy="417.8" r="1.6" fill="#e61a1a"/>
<circle cx="125.4" cy="398.1" r="1.6" fill="#e61a1a"/>
<circle cx="126.5" cy="393.0" r="1.6" fill="#e61a1a"/>
<circle cx="127.2" cy="391.6" r="1.6" fill="#e61a1a"/>
<circle cx="128.3" cy="394.8" r="1.6" fill="#e61a1a"/>
<circle cx="129.4" cy="415.6" r="1.6" fill="#e61a1a"/>
<circle cx="130.5" cy="433.0" r="1.6" fill="#e61a1a"/>
<circle cx="131.6" cy="450.5" r="1.6" fill="#e61a1a"/>
<circle cx="132.6" cy="463.6" r="1.6" fill="#e61a1a"/>
<circle cx="133.7" cy="475.6" r="1.6" fill="#e61a1a"/>
<circle cx="134.8" cy="487.6" r="1.6" fill="#e61a1a"/>
<circle cx="136.4" cy="495.3" r="1.6" fill="#e61a1a"/>
<circle cx="137.4" cy="489.8" r="1.6" fill="#e61a1a"/>
<circle cx="138.5" cy="481.1" r="1.6" fill="#e61a1a"/>
<circle cx="139.6" cy="469.1" r="1.6" fill="#e61a1a"/>
<circle cx="140.7" cy="460.3" r="1.6" fill="#e61a1a"/>
<circle cx="142.0" cy="452.7" r="1.6" fill="#e61a1a"/>
<circle cx="143.6" cy="447.2" r="1.6" fill="#e61a1a"/>
<circle cx="145.1" cy="442.9" r="1.6" fill="#e61a1a"/>
<circle cx="146.8" cy="438.5" r="1.6" fill="#e61a1a"/>
<circle cx="148.6" cy="437.4" r="1.6" fill="#e61a1a"/>
<circle cx="150.1" cy="435.2" r="1.6" fill="#e61a1a"/>
<circle cx="151.6" cy="440.7" r="1.6" fill="#e61a1a"/>
<circle cx="153.4" cy="442.9" r="1.6" fill="#e61a1a"/>
<circle cx="155.1" cy="436.3" r="1.6" fill="#e61a1a"/>
<circle cx="156.7" cy="429.8" r="1.6" fill="#e61a1a"/>
<circle cx="158.2" cy="425.4" r="1.6" fill="#e61a1a"/>
<circle cx="159.9" cy="427.6" r="1.6" fill="#e61a1a"/>
<circle cx="161.7" cy="430.9" r="1.6" fill="#e61a1a"/>
<circle cx="163.2" cy="437.4" r="1.6" fill="#e61a1a"/>
<circle cx="164.7" cy="441.8" r="1.6" fill="#e61a1a"/>
<circle cx="166.0" cy="446.8" r="1.6" fill="#e61a1a"/>
<circle cx="167.6" cy="446.6" r="1.6" fill="#e61a1a"/>
<circle cx="169.3" cy="446.6" r="1.6" fill="#e61a1a"/>
<circle cx="170.9" cy="440.7" r="1.6" fill="#e61a1a"/>
<circle cx="172.7" cy="435.3" r="1.6" fill="#e61a1a"/>
<circle cx="174.2" cy="427.6" r="1.6" fill="#e61a1a"/>
<circle cx="175.5" cy="421.1" r="1.6" fill="#e61a1a"/>
<circle cx="177.0" cy="420.0" r="1.6" fill="#e61a1a"/>
<circle cx="177.7" cy="417.3" r="1.6" fill="#e61a1a"/>
<circle cx="179.2" cy="423.3" r="1.6" fill="#e61a1a"/>
<circle cx="180.7" cy="433.1" r="1.6" fill="#e61a1a"/>
<circle cx="182.0" cy="452.8" r="1.6" fill="#e61a1a"/>
<circle cx="183.1" cy="459.3" r="1.6" fill="#e61a1a"/>
<circle cx="184.2" cy="467.0" r="1.6" fill="#e61a1a"/>
<circle cx="185.8" cy="462.6" r="1.6" fill="#e61a1a"/>
<circle cx="187.3" cy="457.1" r="1.6" fill="#e61a1a"/>
<circle cx="188.6" cy="451.7" r="1.6" fill="#e61a1a"/>
<circle cx="190.1" cy="451.7" r="1.6" fill="#e61a1a"/>
<circle cx="191.7" cy="449.5" r="1.6" fill="#e61a1a"/>
<circle cx="193.0" cy="444.0" r="1.6" fill="#e61a1a"/>
<circle cx="194.5" cy="437.9" r="1.6" fill="#e61a1a"/>
<text x="34.8" y="502.90000000000003" text-anchor="end" font-size="6.3" fill="#111" font-weight="bold" font-family="Liberation Sans, sans-serif">0</text>
<text x="34.8" y="474.0" text-anchor="end" font-size="6.3" fill="#111" font-weight="bold" font-family="Liberation Sans, sans-serif">100</text>
<text x="34.8" y="444.6" text-anchor="end" font-size="6.3" fill="#111" font-weight="bold" font-family="Liberation Sans, sans-serif">200</text>
<text x="34.8" y="415.40000000000003" text-anchor="end" font-size="6.3" fill="#111" font-weight="bold" font-family="Liberation Sans, sans-serif">300</text>
<text transform="translate(20.4,446.7) rotate(-90)" text-anchor="middle" font-size="7.4" fill="#111" font-weight="bold" font-family="Liberation Sans, sans-serif">h (nm)</text>
<text x="40.2" y="511.2" text-anchor="middle" font-size="6.8" fill="#111" font-weight="bold" font-family="Liberation Sans, sans-serif">0.0</text>
<text x="71.0" y="511.2" text-anchor="middle" font-size="6.8" fill="#111" font-weight="bold" font-family="Liberation Sans, sans-serif">0.4</text>
<text x="101.8" y="511.2" text-anchor="middle" font-size="6.8" fill="#111" font-weight="bold" font-family="Liberation Sans, sans-serif">0.8</text>
<text x="132.7" y="511.2" text-anchor="middle" font-size="6.8" fill="#111" font-weight="bold" font-family="Liberation Sans, sans-serif">1.2</text>
<text x="163.5" y="511.2" text-anchor="middle" font-size="6.8" fill="#111" font-weight="bold" font-family="Liberation Sans, sans-serif">1.6</text>
<text x="194.3" y="511.2" text-anchor="middle" font-size="6.8" fill="#111" font-weight="bold" font-family="Liberation Sans, sans-serif">2.0</text>
<text x="120" y="521.4" text-anchor="middle" font-size="7.6" fill="#111" font-weight="bold" font-family="Liberation Sans, sans-serif">X <tspan font-weight="normal">(μm)</tspan></text>
<text x="200.3" y="503.0" text-anchor="start" font-size="6.4" fill="#111" font-weight="bold" font-family="Liberation Sans, sans-serif">0.0</text>
<text x="200.3" y="478.7" text-anchor="start" font-size="6.4" fill="#111" font-weight="bold" font-family="Liberation Sans, sans-serif">0.1</text>
<text x="200.3" y="454.7" text-anchor="start" font-size="6.4" fill="#111" font-weight="bold" font-family="Liberation Sans, sans-serif">0.2</text>
<text x="200.3" y="430.40000000000003" text-anchor="start" font-size="6.4" fill="#111" font-weight="bold" font-family="Liberation Sans, sans-serif">0.3</text>
<text x="200.3" y="406.1" text-anchor="start" font-size="6.4" fill="#111" font-weight="bold" font-family="Liberation Sans, sans-serif">0.4</text>
<text transform="translate(218,446) rotate(-90)" text-anchor="middle" font-size="7.6" fill="#e01818" font-weight="bold" font-family="Liberation Sans, sans-serif">I (pA)</text>
<text x="68.6" y="400.6" text-anchor="start" font-size="7.1" fill="#111" font-weight="bold" textLength="35.5" lengthAdjust="spacingAndGlyphs" font-family="Liberation Sans, sans-serif">6.6 % PVP</text>
<line x1="44.8" y1="483.3" x2="57.9" y2="483.3" stroke="#1e1ede" stroke-width="1.8"/>
<text x="59.5" y="485.6" text-anchor="start" font-size="6.5" fill="#111" font-weight="bold" font-family="Liberation Sans, sans-serif">h</text>
<line x1="41.6" y1="489.4" x2="75.4" y2="489.4" stroke="#1e1ede" stroke-width="0.9"/>
<polygon points="41.6,489.4 45.1,487.79999999999995 45.1,491.0" fill="#1e1ede"/>
<line x1="163.7" y1="405.8" x2="177.3" y2="405.8" stroke="#e61a1a" stroke-width="1.0"/>
<circle cx="171.2" cy="405.8" r="1.2" fill="#e61a1a"/>
<text x="179.5" y="408.2" text-anchor="start" font-size="6.5" fill="#111" font-weight="bold" font-family="Liberation Sans, sans-serif">I</text>
<line x1="160.7" y1="410.5" x2="192.4" y2="410.5" stroke="#e61a1a" stroke-width="0.9"/>
<polygon points="192.4,410.5 188.9,408.9 188.9,412.1" fill="#e61a1a"/>
<text x="118.7" y="544" text-anchor="middle" font-size="12.5" fill="#111" font-weight="bold" font-family="Liberation Serif, serif">(c)</text>
<rect x="288.5" y="389.3" width="152.8" height="111.0" fill="none" stroke="#686868" stroke-width="1.1"/>
<line x1="289" y1="423.3" x2="441" y2="423.3" stroke="#d0d0d0" stroke-width="0.7"/>
<line x1="289" y1="457.2" x2="441" y2="457.2" stroke="#d0d0d0" stroke-width="0.7"/>
<line x1="289" y1="491.2" x2="441" y2="491.2" stroke="#d0d0d0" stroke-width="0.7"/>
<line x1="441.3" y1="401" x2="443.3" y2="401" stroke="#808080" stroke-width="0.8"/>
<line x1="441.3" y1="423.3" x2="443.3" y2="423.3" stroke="#808080" stroke-width="0.8"/>
<line x1="441.3" y1="445.9" x2="443.3" y2="445.9" stroke="#808080" stroke-width="0.8"/>
<line x1="441.3" y1="468.1" x2="443.3" y2="468.1" stroke="#808080" stroke-width="0.8"/>
<line x1="441.3" y1="490.4" x2="443.3" y2="490.4" stroke="#808080" stroke-width="0.8"/>
<line x1="288.5" y1="406.3" x2="290.3" y2="406.3" stroke="#808080" stroke-width="0.8"/>
<line x1="288.5" y1="440.2" x2="290.3" y2="440.2" stroke="#808080" stroke-width="0.8"/>
<line x1="288.5" y1="474.2" x2="290.3" y2="474.2" stroke="#808080" stroke-width="0.8"/>
<line x1="290.2" y1="498.5" x2="290.2" y2="500.3" stroke="#808080" stroke-width="0.8"/>
<line x1="320.4" y1="498.5" x2="320.4" y2="500.3" stroke="#808080" stroke-width="0.8"/>
<line x1="350.5" y1="498.5" x2="350.5" y2="500.3" stroke="#808080" stroke-width="0.8"/>
<line x1="380.7" y1="498.5" x2="380.7" y2="500.3" stroke="#808080" stroke-width="0.8"/>
<line x1="410.8" y1="498.5" x2="410.8" y2="500.3" stroke="#808080" stroke-width="0.8"/>
<line x1="441" y1="498.5" x2="441" y2="500.3" stroke="#808080" stroke-width="0.8"/>
<path d="M289.50,468.00 C289.75,467.82 290.42,467.35 291.00,466.90 C291.58,466.45 292.33,465.30 293.00,465.30 C293.67,465.30 294.33,466.27 295.00,466.90 C295.67,467.53 296.33,468.38 297.00,469.10 C297.67,469.82 298.33,470.12 299.00,471.20 C299.67,472.28 300.33,474.13 301.00,475.60 C301.67,477.07 302.42,478.72 303.00,480.00 C303.58,481.28 304.00,482.58 304.50,483.30 C305.00,484.02 305.58,484.48 306.00,484.30 C306.42,484.12 306.67,484.20 307.00,482.20 C307.33,480.20 307.67,475.40 308.00,472.30 C308.33,469.20 308.67,465.97 309.00,463.60 C309.33,461.23 309.67,459.63 310.00,458.10 C310.33,456.57 310.58,455.30 311.00,454.40 C311.42,453.50 312.00,452.98 312.50,452.70 C313.00,452.42 313.50,452.63 314.00,452.70 C314.50,452.77 315.00,453.28 315.50,453.10 C316.00,452.92 316.50,452.10 317.00,451.60 C317.50,451.10 318.00,450.10 318.50,450.10 C319.00,450.10 319.50,450.62 320.00,451.60 C320.50,452.58 321.00,454.55 321.50,456.00 C322.00,457.45 322.50,459.40 323.00,460.30 C323.50,461.20 324.00,461.50 324.50,461.40 C325.00,461.30 325.50,459.88 326.00,459.70 C326.50,459.52 327.00,459.65 327.50,460.30 C328.00,460.95 328.50,462.32 329.00,463.60 C329.50,464.88 330.00,466.18 330.50,468.00 C331.00,469.82 331.50,472.68 332.00,474.50 C332.50,476.32 333.00,477.32 333.50,478.90 C334.00,480.48 334.50,482.18 335.00,484.00 C335.50,485.82 336.00,489.02 336.50,489.80 C337.00,490.58 337.58,489.43 338.00,488.70 C338.42,487.97 338.67,486.85 339.00,485.40 C339.33,483.95 339.67,481.82 340.00,480.00 C340.33,478.18 340.67,476.13 341.00,474.50 C341.33,472.87 341.58,471.47 342.00,470.20 C342.42,468.93 343.00,467.57 343.50,466.90 C344.00,466.23 344.50,466.68 345.00,466.20 C345.50,465.72 346.00,464.95 346.50,464.00 C347.00,463.05 347.50,461.25 348.00,460.50 C348.50,459.75 349.00,459.50 349.50,459.50 C350.00,459.50 350.50,460.00 351.00,460.50 C351.50,461.00 352.00,461.75 352.50,462.50 C353.00,463.25 353.50,464.08 354.00,465.00 C354.50,465.92 355.00,466.78 355.50,468.00 C356.00,469.22 356.50,470.67 357.00,472.30 C357.50,473.93 358.00,475.80 358.50,477.80 C359.00,479.80 359.50,482.67 360.00,484.30 C360.50,485.93 361.00,486.87 361.50,487.60 C362.00,488.33 362.50,488.88 363.00,488.70 C363.50,488.52 364.00,487.77 364.50,486.50 C365.00,485.23 365.50,483.47 366.00,481.10 C366.50,478.73 367.00,475.03 367.50,472.30 C368.00,469.57 368.50,466.88 369.00,464.70 C369.50,462.52 370.00,460.77 370.50,459.20 C371.00,457.63 371.50,456.10 372.00,455.30 C372.50,454.50 373.00,454.12 373.50,454.40 C374.00,454.68 374.50,455.57 375.00,457.00 C375.50,458.43 376.00,460.50 376.50,463.00 C377.00,465.50 377.50,469.33 378.00,472.00 C378.50,474.67 379.00,477.12 379.50,479.00 C380.00,480.88 380.50,483.32 381.00,483.30 C381.50,483.28 382.00,481.45 382.50,478.90 C383.00,476.35 383.50,472.00 384.00,468.00 C384.50,464.00 385.00,458.90 385.50,454.90 C386.00,450.90 386.50,446.92 387.00,444.00 C387.50,441.08 388.00,438.78 388.50,437.40 C389.00,436.02 389.50,435.52 390.00,435.70 C390.50,435.88 391.00,436.77 391.50,438.50 C392.00,440.23 392.50,443.02 393.00,446.10 C393.50,449.18 394.00,453.53 394.50,457.00 C395.00,460.47 395.50,464.53 396.00,466.90 C396.50,469.27 397.00,470.83 397.50,471.20 C398.00,471.57 398.50,470.37 399.00,469.10 C399.50,467.83 400.00,465.25 400.50,463.60 C401.00,461.95 401.50,460.30 402.00,459.20 C402.50,458.10 403.00,457.28 403.50,457.00 C404.00,456.72 404.50,456.95 405.00,457.50 C405.50,458.05 406.00,459.10 406.50,460.30 C407.00,461.50 407.50,463.92 408.00,464.70 C408.50,465.48 409.00,466.12 409.50,465.00 C410.00,463.88 410.50,460.17 411.00,458.00 C411.50,455.83 412.00,453.30 412.50,452.00 C413.00,450.70 413.50,450.40 414.00,450.20 C414.50,450.00 415.00,450.17 415.50,450.80 C416.00,451.43 416.50,452.30 417.00,454.00 C417.50,455.70 418.00,458.17 418.50,461.00 C419.00,463.83 419.50,468.08 420.00,471.00 C420.50,473.92 421.00,476.68 421.50,478.50 C422.00,480.32 422.42,481.33 423.00,481.90 C423.58,482.47 424.42,482.00 425.00,481.90 C425.58,481.80 426.00,482.13 426.50,481.30 C427.00,480.47 427.50,478.92 428.00,476.90 C428.50,474.88 429.00,471.57 429.50,469.20 C430.00,466.83 430.50,464.52 431.00,462.70 C431.50,460.88 432.00,459.40 432.50,458.30 C433.00,457.20 433.50,456.58 434.00,456.10 C434.50,455.62 435.00,455.40 435.50,455.40 C436.00,455.40 436.50,455.62 437.00,456.10 C437.50,456.58 438.00,457.75 438.50,458.30 C439.00,458.85 439.58,459.22 440.00,459.40 C440.42,459.58 440.83,459.40 441.00,459.40" fill="none" stroke="#1e1ede" stroke-width="1.7" stroke-linejoin="round" stroke-linecap="round"/>
<polyline points="289.5,435.2 290.5,444.0 291.5,454.9 292.5,460.3 293.5,457.0 294.5,451.6 295.5,444.0 296.5,438.5 297.5,435.2 298.5,437.4 299.5,435.2 300.5,428.7 301.5,424.3 302.5,419.9 303.0,417.8 304.0,423.2 305.0,428.7 306.0,435.2 307.0,444.0 307.5,450.5 308.5,454.9 309.5,458.1 310.5,460.3 311.5,457.0 312.5,452.7 313.5,448.3 314.5,444.0 315.5,441.8 316.5,444.0 317.5,441.8 318.5,445.0 319.5,440.7 320.5,436.3 321.5,430.9 322.5,425.4 323.5,423.2 324.5,425.4 325.5,423.2 326.5,426.5 327.5,432.0 328.5,426.5 329.5,419.9 330.5,414.5 331.5,413.4 332.5,415.6 334.0,415.1 335.0,416.7 336.0,413.4 337.0,419.9 338.0,435.2 339.0,454.9 340.0,472.3 341.0,485.4 341.5,493.1 342.5,487.6 343.5,476.7 344.5,465.8 345.5,450.5 346.5,441.8 347.5,438.5 348.5,436.3 349.5,437.4 350.5,434.1 351.5,429.8 352.5,425.4 353.0,421.0 354.0,424.3 355.0,428.7 356.0,434.1 357.0,438.5 358.0,440.7 359.0,438.5 360.0,433.0 361.0,427.6 362.0,424.3 363.0,425.4 364.0,424.3 365.0,429.8 366.0,442.9 367.0,452.7 368.0,459.2 369.0,459.2 370.0,458.1 371.0,454.9 372.0,453.8 373.0,450.0 374.0,440.0 375.0,430.0 376.0,424.3 377.0,425.4 378.0,423.2 379.0,425.4 380.0,433.0 381.0,441.8 382.0,450.5 383.0,459.2 384.0,466.9 385.0,469.1 386.0,466.9 387.0,459.2 388.0,448.3 389.0,437.4 390.0,433.0 391.0,427.6 392.0,419.9 393.0,415.6 394.0,417.8 395.0,413.4 396.0,416.7 397.0,424.3 398.0,435.2 399.0,444.0 400.0,452.7 401.0,461.4 402.0,465.8 403.0,457.0 404.0,444.0 405.0,437.4 406.0,432.0 407.0,428.7 408.0,429.8 409.0,433.0 410.0,440.5 411.0,448.0 412.0,454.0 413.0,457.5 414.0,457.5 415.0,452.0 416.0,441.5 417.0,431.0 418.0,423.0 419.0,418.3 420.0,413.5 421.0,416.0 422.0,416.5 423.0,422.0 424.0,429.0 425.0,430.9 426.0,427.7 427.0,426.6 428.0,435.3 429.0,444.1 430.0,452.8 431.0,457.2 432.0,450.6 433.0,444.1 434.0,446.3 435.0,448.4 436.0,439.7 437.0,433.1 438.0,432.0 439.0,434.2 440.0,433.1 441.0,439.7" fill="none" stroke="#e03030" stroke-width="0.9" stroke-linejoin="round" stroke-linecap="round"/>
<circle cx="289.5" cy="435.2" r="0.75" fill="#e03030"/>
<circle cx="290.5" cy="444.0" r="0.75" fill="#e03030"/>
<circle cx="291.5" cy="454.9" r="0.75" fill="#e03030"/>
<circle cx="292.5" cy="460.3" r="0.75" fill="#e03030"/>
<circle cx="293.5" cy="457.0" r="0.75" fill="#e03030"/>
<circle cx="294.5" cy="451.6" r="0.75" fill="#e03030"/>
<circle cx="295.5" cy="444.0" r="0.75" fill="#e03030"/>
<circle cx="296.5" cy="438.5" r="0.75" fill="#e03030"/>
<circle cx="297.5" cy="435.2" r="0.75" fill="#e03030"/>
<circle cx="298.5" cy="437.4" r="0.75" fill="#e03030"/>
<circle cx="299.5" cy="435.2" r="0.75" fill="#e03030"/>
<circle cx="300.5" cy="428.7" r="0.75" fill="#e03030"/>
<circle cx="301.5" cy="424.3" r="0.75" fill="#e03030"/>
<circle cx="302.5" cy="419.9" r="0.75" fill="#e03030"/>
<circle cx="303.0" cy="417.8" r="0.75" fill="#e03030"/>
<circle cx="304.0" cy="423.2" r="0.75" fill="#e03030"/>
<circle cx="305.0" cy="428.7" r="0.75" fill="#e03030"/>
<circle cx="306.0" cy="435.2" r="0.75" fill="#e03030"/>
<circle cx="307.0" cy="444.0" r="0.75" fill="#e03030"/>
<circle cx="307.5" cy="450.5" r="0.75" fill="#e03030"/>
<circle cx="308.5" cy="454.9" r="0.75" fill="#e03030"/>
<circle cx="309.5" cy="458.1" r="0.75" fill="#e03030"/>
<circle cx="310.5" cy="460.3" r="0.75" fill="#e03030"/>
<circle cx="311.5" cy="457.0" r="0.75" fill="#e03030"/>
<circle cx="312.5" cy="452.7" r="0.75" fill="#e03030"/>
<circle cx="313.5" cy="448.3" r="0.75" fill="#e03030"/>
<circle cx="314.5" cy="444.0" r="0.75" fill="#e03030"/>
<circle cx="315.5" cy="441.8" r="0.75" fill="#e03030"/>
<circle cx="316.5" cy="444.0" r="0.75" fill="#e03030"/>
<circle cx="317.5" cy="441.8" r="0.75" fill="#e03030"/>
<circle cx="318.5" cy="445.0" r="0.75" fill="#e03030"/>
<circle cx="319.5" cy="440.7" r="0.75" fill="#e03030"/>
<circle cx="320.5" cy="436.3" r="0.75" fill="#e03030"/>
<circle cx="321.5" cy="430.9" r="0.75" fill="#e03030"/>
<circle cx="322.5" cy="425.4" r="0.75" fill="#e03030"/>
<circle cx="323.5" cy="423.2" r="0.75" fill="#e03030"/>
<circle cx="324.5" cy="425.4" r="0.75" fill="#e03030"/>
<circle cx="325.5" cy="423.2" r="0.75" fill="#e03030"/>
<circle cx="326.5" cy="426.5" r="0.75" fill="#e03030"/>
<circle cx="327.5" cy="432.0" r="0.75" fill="#e03030"/>
<circle cx="328.5" cy="426.5" r="0.75" fill="#e03030"/>
<circle cx="329.5" cy="419.9" r="0.75" fill="#e03030"/>
<circle cx="330.5" cy="414.5" r="0.75" fill="#e03030"/>
<circle cx="331.5" cy="413.4" r="0.75" fill="#e03030"/>
<circle cx="332.5" cy="415.6" r="0.75" fill="#e03030"/>
<circle cx="334.0" cy="415.1" r="0.75" fill="#e03030"/>
<circle cx="335.0" cy="416.7" r="0.75" fill="#e03030"/>
<circle cx="336.0" cy="413.4" r="0.75" fill="#e03030"/>
<circle cx="337.0" cy="419.9" r="0.75" fill="#e03030"/>
<circle cx="338.0" cy="435.2" r="0.75" fill="#e03030"/>
<circle cx="339.0" cy="454.9" r="0.75" fill="#e03030"/>
<circle cx="340.0" cy="472.3" r="0.75" fill="#e03030"/>
<circle cx="341.0" cy="485.4" r="0.75" fill="#e03030"/>
<circle cx="341.5" cy="493.1" r="0.75" fill="#e03030"/>
<circle cx="342.5" cy="487.6" r="0.75" fill="#e03030"/>
<circle cx="343.5" cy="476.7" r="0.75" fill="#e03030"/>
<circle cx="344.5" cy="465.8" r="0.75" fill="#e03030"/>
<circle cx="345.5" cy="450.5" r="0.75" fill="#e03030"/>
<circle cx="346.5" cy="441.8" r="0.75" fill="#e03030"/>
<circle cx="347.5" cy="438.5" r="0.75" fill="#e03030"/>
<circle cx="348.5" cy="436.3" r="0.75" fill="#e03030"/>
<circle cx="349.5" cy="437.4" r="0.75" fill="#e03030"/>
<circle cx="350.5" cy="434.1" r="0.75" fill="#e03030"/>
<circle cx="351.5" cy="429.8" r="0.75" fill="#e03030"/>
<circle cx="352.5" cy="425.4" r="0.75" fill="#e03030"/>
<circle cx="353.0" cy="421.0" r="0.75" fill="#e03030"/>
<circle cx="354.0" cy="424.3" r="0.75" fill="#e03030"/>
<circle cx="355.0" cy="428.7" r="0.75" fill="#e03030"/>
<circle cx="356.0" cy="434.1" r="0.75" fill="#e03030"/>
<circle cx="357.0" cy="438.5" r="0.75" fill="#e03030"/>
<circle cx="358.0" cy="440.7" r="0.75" fill="#e03030"/>
<circle cx="359.0" cy="438.5" r="0.75" fill="#e03030"/>
<circle cx="360.0" cy="433.0" r="0.75" fill="#e03030"/>
<circle cx="361.0" cy="427.6" r="0.75" fill="#e03030"/>
<circle cx="362.0" cy="424.3" r="0.75" fill="#e03030"/>
<circle cx="363.0" cy="425.4" r="0.75" fill="#e03030"/>
<circle cx="364.0" cy="424.3" r="0.75" fill="#e03030"/>
<circle cx="365.0" cy="429.8" r="0.75" fill="#e03030"/>
<circle cx="366.0" cy="442.9" r="0.75" fill="#e03030"/>
<circle cx="367.0" cy="452.7" r="0.75" fill="#e03030"/>
<circle cx="368.0" cy="459.2" r="0.75" fill="#e03030"/>
<circle cx="369.0" cy="459.2" r="0.75" fill="#e03030"/>
<circle cx="370.0" cy="458.1" r="0.75" fill="#e03030"/>
<circle cx="371.0" cy="454.9" r="0.75" fill="#e03030"/>
<circle cx="372.0" cy="453.8" r="0.75" fill="#e03030"/>
<circle cx="373.0" cy="450.0" r="0.75" fill="#e03030"/>
<circle cx="374.0" cy="440.0" r="0.75" fill="#e03030"/>
<circle cx="375.0" cy="430.0" r="0.75" fill="#e03030"/>
<circle cx="376.0" cy="424.3" r="0.75" fill="#e03030"/>
<circle cx="377.0" cy="425.4" r="0.75" fill="#e03030"/>
<circle cx="378.0" cy="423.2" r="0.75" fill="#e03030"/>
<circle cx="379.0" cy="425.4" r="0.75" fill="#e03030"/>
<circle cx="380.0" cy="433.0" r="0.75" fill="#e03030"/>
<circle cx="381.0" cy="441.8" r="0.75" fill="#e03030"/>
<circle cx="382.0" cy="450.5" r="0.75" fill="#e03030"/>
<circle cx="383.0" cy="459.2" r="0.75" fill="#e03030"/>
<circle cx="384.0" cy="466.9" r="0.75" fill="#e03030"/>
<circle cx="385.0" cy="469.1" r="0.75" fill="#e03030"/>
<circle cx="386.0" cy="466.9" r="0.75" fill="#e03030"/>
<circle cx="387.0" cy="459.2" r="0.75" fill="#e03030"/>
<circle cx="388.0" cy="448.3" r="0.75" fill="#e03030"/>
<circle cx="389.0" cy="437.4" r="0.75" fill="#e03030"/>
<circle cx="390.0" cy="433.0" r="0.75" fill="#e03030"/>
<circle cx="391.0" cy="427.6" r="0.75" fill="#e03030"/>
<circle cx="392.0" cy="419.9" r="0.75" fill="#e03030"/>
<circle cx="393.0" cy="415.6" r="0.75" fill="#e03030"/>
<circle cx="394.0" cy="417.8" r="0.75" fill="#e03030"/>
<circle cx="395.0" cy="413.4" r="0.75" fill="#e03030"/>
<circle cx="396.0" cy="416.7" r="0.75" fill="#e03030"/>
<circle cx="397.0" cy="424.3" r="0.75" fill="#e03030"/>
<circle cx="398.0" cy="435.2" r="0.75" fill="#e03030"/>
<circle cx="399.0" cy="444.0" r="0.75" fill="#e03030"/>
<circle cx="400.0" cy="452.7" r="0.75" fill="#e03030"/>
<circle cx="401.0" cy="461.4" r="0.75" fill="#e03030"/>
<circle cx="402.0" cy="465.8" r="0.75" fill="#e03030"/>
<circle cx="403.0" cy="457.0" r="0.75" fill="#e03030"/>
<circle cx="404.0" cy="444.0" r="0.75" fill="#e03030"/>
<circle cx="405.0" cy="437.4" r="0.75" fill="#e03030"/>
<circle cx="406.0" cy="432.0" r="0.75" fill="#e03030"/>
<circle cx="407.0" cy="428.7" r="0.75" fill="#e03030"/>
<circle cx="408.0" cy="429.8" r="0.75" fill="#e03030"/>
<circle cx="409.0" cy="433.0" r="0.75" fill="#e03030"/>
<circle cx="410.0" cy="440.5" r="0.75" fill="#e03030"/>
<circle cx="411.0" cy="448.0" r="0.75" fill="#e03030"/>
<circle cx="412.0" cy="454.0" r="0.75" fill="#e03030"/>
<circle cx="413.0" cy="457.5" r="0.75" fill="#e03030"/>
<circle cx="414.0" cy="457.5" r="0.75" fill="#e03030"/>
<circle cx="415.0" cy="452.0" r="0.75" fill="#e03030"/>
<circle cx="416.0" cy="441.5" r="0.75" fill="#e03030"/>
<circle cx="417.0" cy="431.0" r="0.75" fill="#e03030"/>
<circle cx="418.0" cy="423.0" r="0.75" fill="#e03030"/>
<circle cx="419.0" cy="418.3" r="0.75" fill="#e03030"/>
<circle cx="420.0" cy="413.5" r="0.75" fill="#e03030"/>
<circle cx="421.0" cy="416.0" r="0.75" fill="#e03030"/>
<circle cx="422.0" cy="416.5" r="0.75" fill="#e03030"/>
<circle cx="423.0" cy="422.0" r="0.75" fill="#e03030"/>
<circle cx="424.0" cy="429.0" r="0.75" fill="#e03030"/>
<circle cx="425.0" cy="430.9" r="0.75" fill="#e03030"/>
<circle cx="426.0" cy="427.7" r="0.75" fill="#e03030"/>
<circle cx="427.0" cy="426.6" r="0.75" fill="#e03030"/>
<circle cx="428.0" cy="435.3" r="0.75" fill="#e03030"/>
<circle cx="429.0" cy="444.1" r="0.75" fill="#e03030"/>
<circle cx="430.0" cy="452.8" r="0.75" fill="#e03030"/>
<circle cx="431.0" cy="457.2" r="0.75" fill="#e03030"/>
<circle cx="432.0" cy="450.6" r="0.75" fill="#e03030"/>
<circle cx="433.0" cy="444.1" r="0.75" fill="#e03030"/>
<circle cx="434.0" cy="446.3" r="0.75" fill="#e03030"/>
<circle cx="435.0" cy="448.4" r="0.75" fill="#e03030"/>
<circle cx="436.0" cy="439.7" r="0.75" fill="#e03030"/>
<circle cx="437.0" cy="433.1" r="0.75" fill="#e03030"/>
<circle cx="438.0" cy="432.0" r="0.75" fill="#e03030"/>
<circle cx="439.0" cy="434.2" r="0.75" fill="#e03030"/>
<circle cx="440.0" cy="433.1" r="0.75" fill="#e03030"/>
<circle cx="441.0" cy="439.7" r="0.75" fill="#e03030"/>
<text x="286.3" y="493.7" text-anchor="end" font-size="6.8" fill="#111" font-weight="bold" font-family="Liberation Sans, sans-serif">0</text>
<text x="286.3" y="459.7" text-anchor="end" font-size="6.8" fill="#111" font-weight="bold" font-family="Liberation Sans, sans-serif">40</text>
<text x="286.3" y="425.8" text-anchor="end" font-size="6.8" fill="#111" font-weight="bold" font-family="Liberation Sans, sans-serif">80</text>
<text transform="translate(277.8,438.2) rotate(-90)" text-anchor="middle" font-size="6.8" fill="#111" font-weight="bold" font-family="Liberation Sans, sans-serif">h (nm)</text>
<text x="290.2" y="508.4" text-anchor="middle" font-size="6.8" fill="#111" font-weight="bold" font-family="Liberation Sans, sans-serif">0.0</text>
<text x="320.4" y="508.4" text-anchor="middle" font-size="6.8" fill="#111" font-weight="bold" font-family="Liberation Sans, sans-serif">0.4</text>
<text x="350.5" y="508.4" text-anchor="middle" font-size="6.8" fill="#111" font-weight="bold" font-family="Liberation Sans, sans-serif">0.8</text>
<text x="380.7" y="508.4" text-anchor="middle" font-size="6.8" fill="#111" font-weight="bold" font-family="Liberation Sans, sans-serif">1.2</text>
<text x="410.8" y="508.4" text-anchor="middle" font-size="6.8" fill="#111" font-weight="bold" font-family="Liberation Sans, sans-serif">1.6</text>
<text x="441" y="508.4" text-anchor="middle" font-size="6.8" fill="#111" font-weight="bold" font-family="Liberation Sans, sans-serif">2.0</text>
<text x="365" y="518.5" text-anchor="middle" font-size="7.4" fill="#111" font-weight="bold" font-family="Liberation Sans, sans-serif">X <tspan font-weight="normal">(μm)</tspan></text>
<text x="444.5" y="492.79999999999995" text-anchor="start" font-size="6.6" fill="#111" font-weight="bold" font-family="Liberation Sans, sans-serif">0.00</text>
<text x="444.5" y="470.5" text-anchor="start" font-size="6.6" fill="#111" font-weight="bold" font-family="Liberation Sans, sans-serif">0.02</text>
<text x="444.5" y="448.29999999999995" text-anchor="start" font-size="6.6" fill="#111" font-weight="bold" font-family="Liberation Sans, sans-serif">0.04</text>
<text x="444.5" y="425.7" text-anchor="start" font-size="6.6" fill="#111" font-weight="bold" font-family="Liberation Sans, sans-serif">0.06</text>
<text x="444.5" y="403.4" text-anchor="start" font-size="6.6" fill="#111" font-weight="bold" font-family="Liberation Sans, sans-serif">0.08</text>
<text transform="translate(465,445) rotate(-90)" text-anchor="middle" font-size="7.4" fill="#e01818" font-weight="bold" font-family="Liberation Sans, sans-serif">I (pA)</text>
<text x="353.1" y="401.6" text-anchor="start" font-size="6.4" fill="#111" font-weight="bold" textLength="30.9" lengthAdjust="spacingAndGlyphs" font-family="Liberation Sans, sans-serif">14 % PVP</text>
<line x1="294.2" y1="405.5" x2="306.8" y2="405.5" stroke="#1e1ede" stroke-width="1.8"/>
<text x="308.6" y="407.7" text-anchor="start" font-size="6.2" fill="#333" font-weight="normal" font-family="Liberation Sans, sans-serif">h</text>
<line x1="291.2" y1="412" x2="317.5" y2="412" stroke="#1e1ede" stroke-width="0.9"/>
<polygon points="291.2,412 294.7,410.4 294.7,413.6" fill="#1e1ede"/>
<line x1="412.3" y1="402.3" x2="424.7" y2="402.3" stroke="#e61a1a" stroke-width="0.9"/>
<circle cx="418.5" cy="402.3" r="0.8" fill="#e61a1a"/>
<text x="426.3" y="404.5" text-anchor="start" font-size="6.2" fill="#333" font-weight="normal" font-family="Liberation Sans, sans-serif">I</text>
<line x1="405.5" y1="407.8" x2="435.5" y2="407.8" stroke="#e61a1a" stroke-width="0.9"/>
<polygon points="435.5,407.8 432.0,406.2 432.0,409.40000000000003" fill="#e61a1a"/>
<text x="370.8" y="544.3" text-anchor="middle" font-size="12.5" fill="#111" font-weight="bold" font-family="Liberation Serif, serif">(d)</text>
</svg>
</body></html>
